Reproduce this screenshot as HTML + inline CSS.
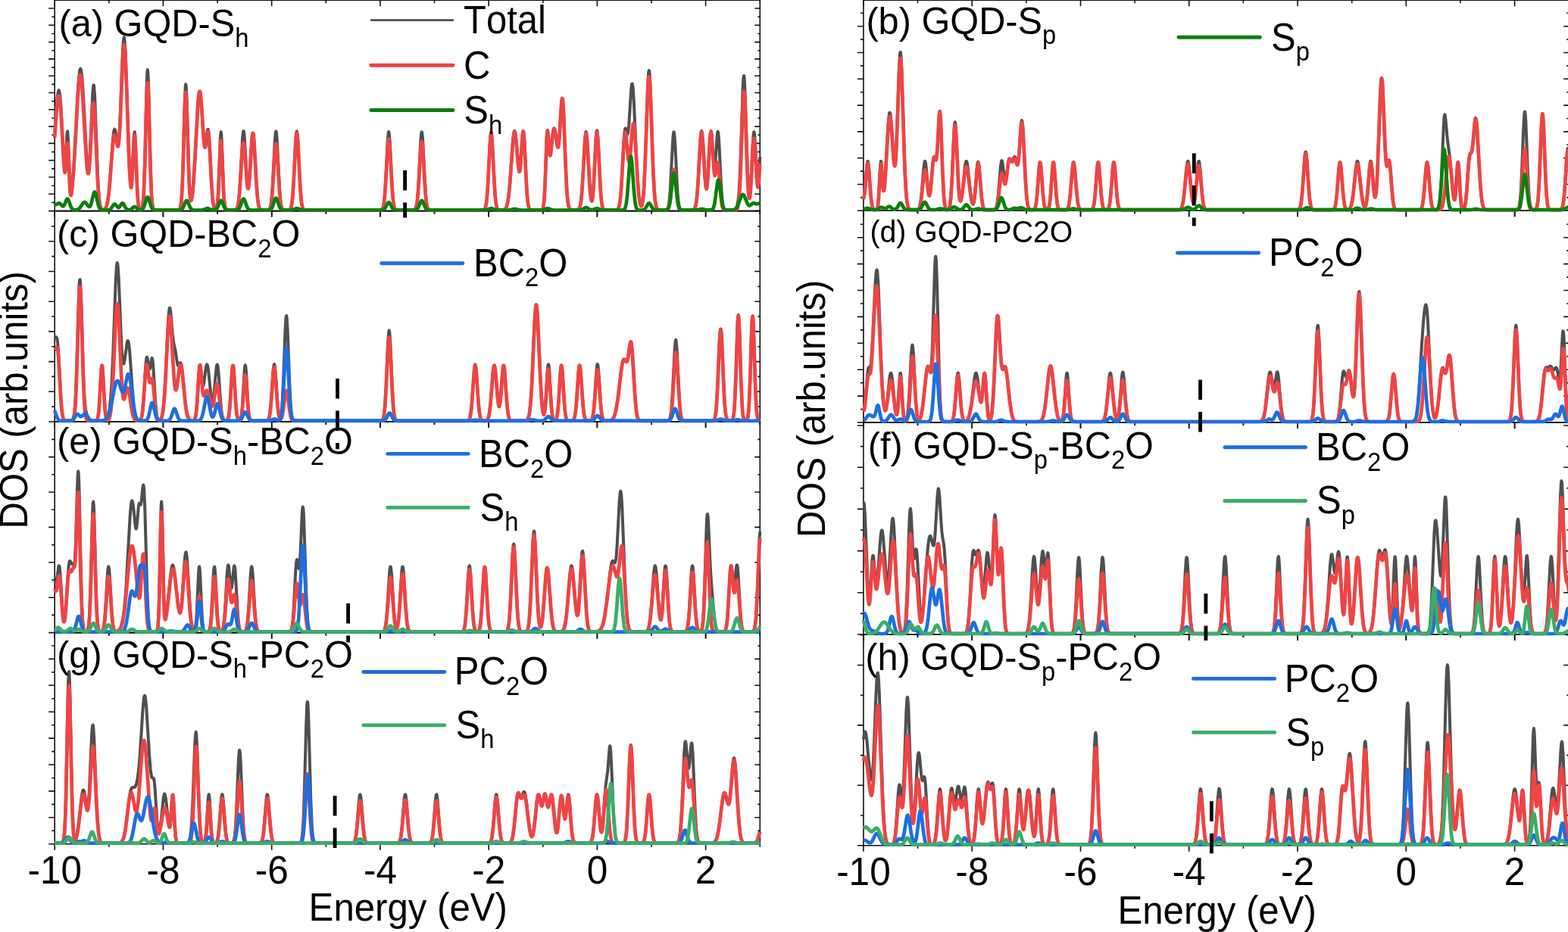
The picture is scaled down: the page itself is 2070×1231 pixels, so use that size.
<!DOCTYPE html>
<html><head><meta charset="utf-8"><title>DOS</title><style>html,body{margin:0;padding:0;background:#fff;overflow:hidden}svg{display:block}text{font-kerning:none}</style></head><body>
<svg width="2070" height="1231" viewBox="0 0 2070 1231">
<rect width="2070" height="1231" fill="#fff"/>
<path d="M72.2 0.3H1003.3V278.6H72.2Z" fill="none" stroke="#111" stroke-width="1.6"/>
<path d="M72.2 0.3v8M72.2 278.6v8M143.8 0.3v4M143.8 278.6v4M215.4 0.3v8M215.4 278.6v8M287.1 0.3v4M287.1 278.6v4M358.7 0.3v8M358.7 278.6v8M430.3 0.3v4M430.3 278.6v4M501.9 0.3v8M501.9 278.6v8M573.5 0.3v4M573.5 278.6v4M645.2 0.3v8M645.2 278.6v8M716.8 0.3v4M716.8 278.6v4M788.4 0.3v8M788.4 278.6v8M860.0 0.3v4M860.0 278.6v4M931.6 0.3v8M931.6 278.6v8M1003.3 0.3v4M1003.3 278.6v4M72.2 278.6h-8M1003.3 278.6h-7M72.2 267.5h-4M1003.3 267.5h-3M72.2 256.3h-8M1003.3 256.3h-7M72.2 245.2h-4M1003.3 245.2h-3M72.2 234.0h-8M1003.3 234.0h-7M72.2 222.9h-4M1003.3 222.9h-3M72.2 211.7h-8M1003.3 211.7h-7M72.2 200.6h-4M1003.3 200.6h-3M72.2 189.4h-8M1003.3 189.4h-7M72.2 178.2h-4M1003.3 178.2h-3M72.2 167.1h-8M1003.3 167.1h-7M72.2 156.0h-4M1003.3 156.0h-3M72.2 144.8h-8M1003.3 144.8h-7M72.2 133.7h-4M1003.3 133.7h-3M72.2 122.5h-8M1003.3 122.5h-7M72.2 111.4h-4M1003.3 111.4h-3M72.2 100.2h-8M1003.3 100.2h-7M72.2 89.1h-4M1003.3 89.1h-3M72.2 77.9h-8M1003.3 77.9h-7M72.2 66.8h-4M1003.3 66.8h-3M72.2 55.6h-8M1003.3 55.6h-7M72.2 44.5h-4M1003.3 44.5h-3M72.2 33.3h-8M1003.3 33.3h-7M72.2 22.2h-4M1003.3 22.2h-3M72.2 11.0h-8M1003.3 11.0h-7" stroke="#111" stroke-width="1.6" fill="none"/>
<path d="M72.2 278.6H1003.3V557.0H72.2Z" fill="none" stroke="#111" stroke-width="1.6"/>
<path d="M72.2 278.6v8M72.2 557.0v8M143.8 278.6v4M143.8 557.0v4M215.4 278.6v8M215.4 557.0v8M287.1 278.6v4M287.1 557.0v4M358.7 278.6v8M358.7 557.0v8M430.3 278.6v4M430.3 557.0v4M501.9 278.6v8M501.9 557.0v8M573.5 278.6v4M573.5 557.0v4M645.2 278.6v8M645.2 557.0v8M716.8 278.6v4M716.8 557.0v4M788.4 278.6v8M788.4 557.0v8M860.0 278.6v4M860.0 557.0v4M931.6 278.6v8M931.6 557.0v8M1003.3 278.6v4M1003.3 557.0v4M72.2 557.0h-8M1003.3 557.0h-7M72.2 537.1h-4M1003.3 537.1h-3M72.2 517.3h-8M1003.3 517.3h-7M72.2 497.4h-4M1003.3 497.4h-3M72.2 477.6h-8M1003.3 477.6h-7M72.2 457.8h-4M1003.3 457.8h-3M72.2 437.9h-8M1003.3 437.9h-7M72.2 418.0h-4M1003.3 418.0h-3M72.2 398.2h-8M1003.3 398.2h-7M72.2 378.4h-4M1003.3 378.4h-3M72.2 358.5h-8M1003.3 358.5h-7M72.2 338.6h-4M1003.3 338.6h-3M72.2 318.8h-8M1003.3 318.8h-7M72.2 298.9h-4M1003.3 298.9h-3" stroke="#111" stroke-width="1.6" fill="none"/>
<path d="M72.2 557.0H1003.3V835.6H72.2Z" fill="none" stroke="#111" stroke-width="1.6"/>
<path d="M72.2 557.0v8M72.2 835.6v8M143.8 557.0v4M143.8 835.6v4M215.4 557.0v8M215.4 835.6v8M287.1 557.0v4M287.1 835.6v4M358.7 557.0v8M358.7 835.6v8M430.3 557.0v4M430.3 835.6v4M501.9 557.0v8M501.9 835.6v8M573.5 557.0v4M573.5 835.6v4M645.2 557.0v8M645.2 835.6v8M716.8 557.0v4M716.8 835.6v4M788.4 557.0v8M788.4 835.6v8M860.0 557.0v4M860.0 835.6v4M931.6 557.0v8M931.6 835.6v8M1003.3 557.0v4M1003.3 835.6v4M72.2 835.6h-8M1003.3 835.6h-7M72.2 812.4h-4M1003.3 812.4h-3M72.2 789.2h-8M1003.3 789.2h-7M72.2 766.0h-4M1003.3 766.0h-3M72.2 742.8h-8M1003.3 742.8h-7M72.2 719.6h-4M1003.3 719.6h-3M72.2 696.4h-8M1003.3 696.4h-7M72.2 673.2h-4M1003.3 673.2h-3M72.2 650.0h-8M1003.3 650.0h-7M72.2 626.8h-4M1003.3 626.8h-3M72.2 603.6h-8M1003.3 603.6h-7M72.2 580.4h-4M1003.3 580.4h-3" stroke="#111" stroke-width="1.6" fill="none"/>
<path d="M72.2 835.6H1003.3V1114.7H72.2Z" fill="none" stroke="#111" stroke-width="1.6"/>
<path d="M72.2 835.6v8M72.2 1114.7v8M143.8 835.6v4M143.8 1114.7v4M215.4 835.6v8M215.4 1114.7v8M287.1 835.6v4M287.1 1114.7v4M358.7 835.6v8M358.7 1114.7v8M430.3 835.6v4M430.3 1114.7v4M501.9 835.6v8M501.9 1114.7v8M573.5 835.6v4M573.5 1114.7v4M645.2 835.6v8M645.2 1114.7v8M716.8 835.6v4M716.8 1114.7v4M788.4 835.6v8M788.4 1114.7v8M860.0 835.6v4M860.0 1114.7v4M931.6 835.6v8M931.6 1114.7v8M1003.3 835.6v4M1003.3 1114.7v4M72.2 1114.7h-8M1003.3 1114.7h-7M72.2 1097.2h-4M1003.3 1097.2h-3M72.2 1079.8h-8M1003.3 1079.8h-7M72.2 1062.4h-4M1003.3 1062.4h-3M72.2 1044.9h-8M1003.3 1044.9h-7M72.2 1027.5h-4M1003.3 1027.5h-3M72.2 1010.0h-8M1003.3 1010.0h-7M72.2 992.6h-4M1003.3 992.6h-3M72.2 975.1h-8M1003.3 975.1h-7M72.2 957.7h-4M1003.3 957.7h-3M72.2 940.2h-8M1003.3 940.2h-7M72.2 922.8h-4M1003.3 922.8h-3M72.2 905.3h-8M1003.3 905.3h-7M72.2 887.9h-4M1003.3 887.9h-3M72.2 870.4h-8M1003.3 870.4h-7M72.2 853.0h-4M1003.3 853.0h-3" stroke="#111" stroke-width="1.6" fill="none"/>
<path d="M1139.9 0.3H2071.2V278.3H1139.9Z" fill="none" stroke="#111" stroke-width="1.6"/>
<path d="M1139.9 0.3v8M1139.9 278.3v8M1211.5 0.3v4M1211.5 278.3v4M1283.2 0.3v8M1283.2 278.3v8M1354.8 0.3v4M1354.8 278.3v4M1426.5 0.3v8M1426.5 278.3v8M1498.1 0.3v4M1498.1 278.3v4M1569.7 0.3v8M1569.7 278.3v8M1641.4 0.3v4M1641.4 278.3v4M1713.0 0.3v8M1713.0 278.3v8M1784.7 0.3v4M1784.7 278.3v4M1856.3 0.3v8M1856.3 278.3v8M1927.9 0.3v4M1927.9 278.3v4M1999.6 0.3v8M1999.6 278.3v8M2071.2 0.3v4M2071.2 278.3v4M1139.9 278.3h-8M2071.2 278.3h-7M1139.9 260.9h-4M2071.2 260.9h-3M1139.9 243.5h-8M2071.2 243.5h-7M1139.9 226.1h-4M2071.2 226.1h-3M1139.9 208.7h-8M2071.2 208.7h-7M1139.9 191.3h-4M2071.2 191.3h-3M1139.9 173.9h-8M2071.2 173.9h-7M1139.9 156.5h-4M2071.2 156.5h-3M1139.9 139.1h-8M2071.2 139.1h-7M1139.9 121.7h-4M2071.2 121.7h-3M1139.9 104.3h-8M2071.2 104.3h-7M1139.9 86.9h-4M2071.2 86.9h-3M1139.9 69.5h-8M2071.2 69.5h-7M1139.9 52.1h-4M2071.2 52.1h-3M1139.9 34.7h-8M2071.2 34.7h-7M1139.9 17.3h-4M2071.2 17.3h-3" stroke="#111" stroke-width="1.6" fill="none"/>
<path d="M1139.9 278.3H2071.2V558.0H1139.9Z" fill="none" stroke="#111" stroke-width="1.6"/>
<path d="M1139.9 278.3v8M1139.9 558.0v8M1211.5 278.3v4M1211.5 558.0v4M1283.2 278.3v8M1283.2 558.0v8M1354.8 278.3v4M1354.8 558.0v4M1426.5 278.3v8M1426.5 558.0v8M1498.1 278.3v4M1498.1 558.0v4M1569.7 278.3v8M1569.7 558.0v8M1641.4 278.3v4M1641.4 558.0v4M1713.0 278.3v8M1713.0 558.0v8M1784.7 278.3v4M1784.7 558.0v4M1856.3 278.3v8M1856.3 558.0v8M1927.9 278.3v4M1927.9 558.0v4M1999.6 278.3v8M1999.6 558.0v8M2071.2 278.3v4M2071.2 558.0v4M1139.9 558.0h-8M2071.2 558.0h-7M1139.9 540.5h-4M2071.2 540.5h-3M1139.9 523.1h-8M2071.2 523.1h-7M1139.9 505.6h-4M2071.2 505.6h-3M1139.9 488.2h-8M2071.2 488.2h-7M1139.9 470.8h-4M2071.2 470.8h-3M1139.9 453.3h-8M2071.2 453.3h-7M1139.9 435.9h-4M2071.2 435.9h-3M1139.9 418.4h-8M2071.2 418.4h-7M1139.9 401.0h-4M2071.2 401.0h-3M1139.9 383.5h-8M2071.2 383.5h-7M1139.9 366.1h-4M2071.2 366.1h-3M1139.9 348.6h-8M2071.2 348.6h-7M1139.9 331.1h-4M2071.2 331.1h-3M1139.9 313.7h-8M2071.2 313.7h-7M1139.9 296.2h-4M2071.2 296.2h-3" stroke="#111" stroke-width="1.6" fill="none"/>
<path d="M1139.9 558.0H2071.2V838.0H1139.9Z" fill="none" stroke="#111" stroke-width="1.6"/>
<path d="M1139.9 558.0v8M1139.9 838.0v8M1211.5 558.0v4M1211.5 838.0v4M1283.2 558.0v8M1283.2 838.0v8M1354.8 558.0v4M1354.8 838.0v4M1426.5 558.0v8M1426.5 838.0v8M1498.1 558.0v4M1498.1 838.0v4M1569.7 558.0v8M1569.7 838.0v8M1641.4 558.0v4M1641.4 838.0v4M1713.0 558.0v8M1713.0 838.0v8M1784.7 558.0v4M1784.7 838.0v4M1856.3 558.0v8M1856.3 838.0v8M1927.9 558.0v4M1927.9 838.0v4M1999.6 558.0v8M1999.6 838.0v8M2071.2 558.0v4M2071.2 838.0v4M1139.9 838.0h-8M2071.2 838.0h-7M1139.9 810.4h-4M2071.2 810.4h-3M1139.9 782.8h-8M2071.2 782.8h-7M1139.9 755.2h-4M2071.2 755.2h-3M1139.9 727.6h-8M2071.2 727.6h-7M1139.9 700.0h-4M2071.2 700.0h-3M1139.9 672.4h-8M2071.2 672.4h-7M1139.9 644.8h-4M2071.2 644.8h-3M1139.9 617.2h-8M2071.2 617.2h-7M1139.9 589.6h-4M2071.2 589.6h-3M1139.9 562.0h-8M2071.2 562.0h-7" stroke="#111" stroke-width="1.6" fill="none"/>
<path d="M1139.9 838.0H2071.2V1116.7H1139.9Z" fill="none" stroke="#111" stroke-width="1.6"/>
<path d="M1139.9 838.0v8M1139.9 1116.7v8M1211.5 838.0v4M1211.5 1116.7v4M1283.2 838.0v8M1283.2 1116.7v8M1354.8 838.0v4M1354.8 1116.7v4M1426.5 838.0v8M1426.5 1116.7v8M1498.1 838.0v4M1498.1 1116.7v4M1569.7 838.0v8M1569.7 1116.7v8M1641.4 838.0v4M1641.4 1116.7v4M1713.0 838.0v8M1713.0 1116.7v8M1784.7 838.0v4M1784.7 1116.7v4M1856.3 838.0v8M1856.3 1116.7v8M1927.9 838.0v4M1927.9 1116.7v4M1999.6 838.0v8M1999.6 1116.7v8M2071.2 838.0v4M2071.2 1116.7v4M1139.9 1116.7h-8M2071.2 1116.7h-7M1139.9 1077.0h-4M2071.2 1077.0h-3M1139.9 1037.3h-8M2071.2 1037.3h-7M1139.9 997.6h-4M2071.2 997.6h-3M1139.9 957.9h-8M2071.2 957.9h-7M1139.9 918.2h-4M2071.2 918.2h-3M1139.9 878.5h-8M2071.2 878.5h-7M1139.9 838.8h-4M2071.2 838.8h-3" stroke="#111" stroke-width="1.6" fill="none"/>
<path d="M72.2 174.9L74.2 144.6L75.7 128.2L76.7 121.5L77.2 119.7L77.7 119.2L78.2 120.0L79.2 126.1L80.2 138.0L83.7 201.8L84.7 215.3L85.2 218.7L85.7 219.0L86.2 215.9L86.7 209.3L88.2 180.0L88.7 174.1L89.2 173.4L89.7 178.6L90.2 188.9L92.2 240.4L92.7 247.8L93.2 252.0L93.7 253.6L94.2 253.1L94.7 251.0L95.7 243.2L97.2 224.8L98.7 200.2L102.7 123.4L104.2 102.2L105.2 93.7L105.7 91.5L106.2 90.7L106.7 91.3L107.2 93.3L108.2 101.3L109.2 114.0L110.2 130.4L114.2 204.1L115.2 216.6L115.7 220.7L116.2 223.2L116.7 223.8L117.2 222.4L117.7 218.8L118.7 205.3L122.2 125.5L122.7 118.1L123.2 113.6L123.7 112.3L124.2 114.5L125.2 128.7L128.7 223.5L129.7 244.5L130.7 259.1L131.2 264.2L132.2 271.0L132.7 273.1L133.7 275.6L134.7 276.7L136.2 277.1L137.7 276.7L139.2 275.4L140.7 272.2L141.7 268.4L142.7 262.7L143.7 254.7L145.2 238.1L148.7 188.2L150.2 174.0L150.7 171.7L151.2 170.7L151.7 171.1L152.2 172.5L154.2 184.8L155.2 189.5L155.7 190.2L156.2 189.1L156.7 186.3L157.7 174.2L158.7 154.2L161.2 86.4L162.2 64.0L163.2 51.2L163.7 49.2L164.2 50.4L164.7 54.8L165.7 72.1L170.2 206.3L171.2 228.4L172.2 242.6L172.7 246.2L173.2 246.9L173.7 244.5L174.2 238.8L176.7 183.2L177.2 176.3L177.7 174.2L178.2 177.3L178.7 185.3L180.7 238.3L181.7 258.8L182.2 265.6L183.2 273.3L183.7 275.2L184.2 276.2L184.7 276.8L185.2 277.0L186.2 276.8L187.2 275.5L188.2 271.6L189.2 262.2L189.7 254.2L191.2 212.2L193.7 109.6L194.2 97.5L194.7 91.9L195.2 93.7L195.7 102.6L196.2 117.5L198.7 220.8L199.2 236.6L200.2 258.4L200.7 265.2L201.7 272.9L202.7 276.0L203.7 277.1L204.7 277.4L235.2 277.4L236.2 277.2L237.2 276.3L238.2 273.8L239.2 267.5L239.7 261.9L240.7 243.7L241.7 214.6L243.7 139.8L244.7 115.3L245.2 111.2L245.7 113.3L246.7 134.3L248.7 206.8L249.7 236.2L250.7 254.4L251.2 259.5L251.7 262.4L252.2 263.4L252.7 263.0L253.2 261.2L254.2 254.6L255.2 244.2L257.2 213.7L261.2 138.8L262.2 126.9L262.7 123.2L263.2 121.1L263.7 120.7L264.2 122.0L265.2 129.6L266.2 142.3L268.7 180.6L269.7 190.3L270.2 192.7L270.7 193.3L271.2 192.1L271.7 189.3L273.7 173.2L274.2 171.1L274.7 170.9L275.2 172.9L275.7 177.1L276.7 191.9L279.2 241.4L280.2 256.5L280.7 262.1L281.7 269.9L282.7 274.1L283.2 275.2L283.7 275.9L284.2 276.2L284.7 276.2L285.2 275.8L285.7 274.8L286.2 273.2L287.2 266.2L287.7 260.0L288.7 240.2L290.7 185.6L291.2 177.2L291.7 174.1L292.2 176.9L292.7 185.0L295.2 250.7L295.7 259.5L296.7 270.3L297.7 274.9L298.2 276.0L299.2 277.0L301.2 277.4L308.7 277.5L310.2 277.3L311.2 277.0L312.2 276.3L312.7 275.5L313.7 272.9L314.2 270.7L315.2 263.9L316.7 245.5L320.2 181.6L320.7 176.3L321.2 173.5L321.7 173.2L322.2 175.7L322.7 180.5L325.7 232.0L326.7 243.8L327.2 246.8L327.7 247.7L328.2 246.4L328.7 243.1L329.7 231.0L331.7 196.2L332.7 182.1L333.2 177.8L333.7 175.8L334.2 176.2L334.7 179.1L335.7 191.3L338.2 237.3L339.2 252.6L340.7 267.4L341.7 272.6L342.2 274.2L343.2 276.1L343.7 276.6L344.7 277.2L346.2 277.4L348.2 277.5L353.2 277.4L354.2 277.3L355.2 276.8L356.2 275.4L356.7 274.2L357.7 269.8L358.7 261.6L359.7 248.3L362.7 188.5L363.7 175.8L364.2 173.5L364.7 174.3L365.2 178.1L365.7 184.6L369.2 252.2L370.2 264.2L371.2 271.2L371.7 273.4L372.7 275.9L373.2 276.5L374.2 277.2L376.2 277.5L381.2 277.4L382.7 276.8L383.7 275.4L384.7 272.3L385.2 269.7L386.2 261.5L386.7 255.5L387.7 239.4L390.2 188.2L391.2 175.7L391.7 173.5L392.2 174.4L392.7 178.2L393.2 184.7L396.2 244.5L397.7 264.3L398.2 268.3L399.2 273.5L400.2 275.9L400.7 276.6L401.7 277.2L402.7 277.4L405.2 277.5L500.2 277.5L502.7 277.4L504.2 276.7L505.2 275.2L506.2 271.9L507.2 265.4L507.7 260.4L509.2 237.6L511.7 187.1L512.7 175.7L513.2 174.1L513.7 175.7L514.7 187.1L517.2 237.6L518.7 260.4L519.2 265.3L520.2 271.9L521.2 275.2L522.2 276.7L523.2 277.2L525.2 277.5L545.7 277.4L546.7 277.2L547.7 276.7L548.7 275.3L549.2 274.0L550.2 269.5L550.7 265.8L551.7 254.9L552.7 238.7L555.2 188.1L556.2 176.0L556.7 174.2L557.2 175.3L558.2 186.1L560.7 236.4L562.2 259.7L562.7 264.8L563.7 271.6L564.2 273.7L565.2 276.0L565.7 276.6L566.7 277.2L569.2 277.5L634.7 277.5L638.2 277.3L639.2 276.8L639.7 276.3L640.7 274.4L641.7 270.2L642.7 262.4L644.2 241.0L646.7 190.4L647.7 177.3L648.2 174.7L648.7 175.2L649.2 178.6L649.7 184.7L652.7 243.6L653.7 258.4L654.7 267.9L655.7 273.3L656.2 274.8L657.2 276.5L658.2 277.2L659.2 277.4L662.2 277.5L664.7 277.2L666.2 276.7L667.2 275.8L668.2 274.2L668.7 273.1L670.2 267.3L671.2 261.0L672.2 252.3L673.2 241.0L677.2 185.3L678.2 176.5L678.7 174.0L679.2 173.0L679.7 173.4L680.2 175.3L680.7 178.5L681.7 188.3L684.2 218.9L685.2 225.8L685.7 226.7L686.2 225.6L687.2 217.2L689.7 179.6L690.2 175.1L690.7 173.4L691.2 174.6L691.7 178.8L692.2 185.8L694.7 238.0L695.7 255.0L696.7 266.2L697.2 269.9L698.2 274.4L699.2 276.4L700.2 277.1L701.2 277.4L711.2 277.5L714.7 277.2L715.7 276.7L716.7 275.2L717.2 273.4L717.7 270.5L718.2 266.0L719.2 250.1L719.7 238.4L721.7 183.7L722.2 175.5L722.7 172.0L723.2 173.1L723.7 178.0L725.2 199.0L725.7 203.2L726.2 204.8L726.7 203.9L727.2 201.1L729.7 177.4L730.7 171.5L731.2 170.1L731.7 169.8L732.2 170.7L732.7 172.5L735.7 192.6L736.2 194.3L736.7 194.7L737.2 193.3L737.7 190.1L738.2 185.0L741.2 136.7L741.7 131.9L742.2 129.9L742.7 130.9L743.2 135.2L744.2 152.5L746.7 218.6L748.2 249.8L748.7 257.0L749.7 267.1L750.7 272.7L751.7 275.5L752.7 276.8L754.2 277.4L760.2 277.5L762.7 277.2L763.7 276.7L764.7 275.4L765.7 272.8L766.2 270.7L767.2 264.0L767.7 259.3L768.7 246.5L772.2 184.4L773.2 175.2L773.7 174.1L774.2 175.6L775.2 185.4L778.2 239.4L779.2 253.5L780.2 262.4L780.7 264.6L781.2 265.4L781.7 264.6L782.2 262.2L782.7 258.1L783.7 244.8L786.7 184.1L787.2 177.3L787.7 173.3L788.2 172.3L788.7 174.6L789.7 187.7L792.2 240.3L793.2 256.4L794.2 266.9L795.2 272.8L796.2 275.7L797.2 276.9L798.2 277.3L800.2 277.5L810.7 277.5L814.2 277.2L815.2 276.7L815.7 276.2L816.7 274.4L817.7 270.9L818.7 264.5L820.2 247.6L823.2 192.9L824.2 178.1L824.7 173.3L825.2 170.4L825.7 169.5L826.2 170.1L827.7 176.1L828.2 177.3L828.7 177.1L829.2 175.1L830.2 165.5L833.2 118.2L833.7 113.5L834.2 110.9L834.7 110.5L835.2 112.5L835.7 116.7L836.7 131.4L840.2 208.6L842.2 244.2L843.2 256.4L844.2 264.8L845.2 269.9L845.7 271.3L846.2 272.1L846.7 272.2L847.2 271.5L847.7 270.1L848.7 264.5L849.7 254.0L850.2 246.6L851.7 214.3L855.2 111.5L856.2 95.6L856.7 92.9L857.2 94.0L857.7 98.8L858.7 118.2L861.7 208.5L862.7 233.2L863.7 251.2L864.7 263.1L865.7 270.2L866.7 274.1L867.2 275.3L868.2 276.6L869.2 277.1L871.2 277.5L877.7 277.5L879.7 277.2L880.7 276.5L881.2 275.9L882.2 273.4L882.7 271.2L883.7 264.1L884.7 252.2L888.2 184.9L888.7 178.6L889.2 174.9L889.7 174.3L890.2 176.6L891.2 189.4L893.7 240.2L894.7 256.0L895.7 266.5L896.7 272.5L897.2 274.3L898.2 276.3L899.2 277.1L900.2 277.4L914.2 277.4L915.2 277.2L916.2 276.6L917.2 275.3L918.2 272.5L918.7 270.3L919.7 263.5L920.2 258.7L921.7 237.7L924.7 183.7L925.7 174.2L926.2 173.0L926.7 174.1L927.7 183.4L930.7 234.5L931.7 245.7L932.2 248.5L932.7 249.1L933.2 247.5L934.2 237.8L937.2 183.6L937.7 177.5L938.2 173.9L938.7 173.1L939.2 175.1L939.7 179.6L942.2 215.8L942.7 219.9L943.2 221.5L943.7 220.2L944.2 216.3L946.7 179.8L947.2 175.4L947.7 173.8L948.2 175.2L949.2 186.7L951.7 238.0L952.7 254.5L953.7 265.6L954.7 272.0L955.2 273.9L956.2 276.1L957.2 277.0L958.2 277.3L964.7 277.5L968.2 277.2L970.2 276.4L971.7 274.8L972.7 272.8L973.2 271.2L974.2 266.4L975.2 258.0L976.2 244.0L977.7 209.2L980.7 115.4L981.2 105.9L981.7 100.6L982.2 100.0L982.7 104.1L983.7 125.0L986.7 221.8L987.7 243.1L988.7 254.2L989.2 256.1L989.7 255.6L990.2 252.8L990.7 247.9L991.7 232.2L993.7 190.9L994.7 177.0L995.2 174.3L995.7 174.9L996.2 178.6L997.2 193.5L999.2 229.8L999.7 235.4L1000.2 238.5L1000.7 239.0L1001.2 236.8L1001.7 232.1L1003.3 207.2" fill="none" stroke="#4f4f4f" stroke-width="4.0" stroke-linejoin="round"/>
<path d="M72.2 182.1L74.2 151.1L75.7 134.7L76.7 128.3L77.2 126.7L77.7 126.4L78.2 127.3L79.2 133.3L80.2 144.6L81.2 160.2L83.7 207.0L84.7 221.7L85.2 226.2L85.7 227.8L86.2 226.0L86.7 220.7L88.2 194.7L88.7 189.3L89.2 188.7L89.7 193.5L90.2 203.0L92.2 249.0L92.7 254.8L93.2 257.7L93.7 258.0L94.2 256.4L95.2 249.5L97.2 225.7L98.7 201.2L102.2 135.4L103.7 113.1L104.7 103.4L105.2 100.5L105.7 98.9L106.2 98.8L106.7 100.2L107.2 102.9L108.7 118.7L113.7 206.4L114.7 219.4L115.7 227.5L116.2 229.3L116.7 229.3L117.2 227.4L118.2 218.0L119.2 201.7L121.7 150.6L122.7 138.1L123.2 135.7L123.7 136.2L124.2 139.6L125.2 154.2L128.7 235.0L129.7 251.6L130.7 263.1L131.2 267.1L132.2 272.4L132.7 274.0L133.7 276.0L134.7 276.8L136.2 277.1L137.7 276.7L139.2 275.4L140.7 272.2L141.7 268.4L142.7 262.8L143.7 255.0L145.2 238.9L148.7 193.0L149.7 183.8L150.2 180.7L150.7 178.7L151.2 177.9L151.7 178.2L152.2 179.4L154.2 189.4L155.2 193.1L155.7 193.5L156.2 192.4L156.7 189.6L157.7 178.6L158.7 160.4L162.2 75.4L163.2 61.8L163.7 59.1L164.2 59.3L164.7 62.7L165.7 77.8L166.7 102.2L170.2 206.7L171.2 228.7L172.2 243.2L172.7 246.9L173.2 247.9L173.7 245.8L174.2 240.5L176.7 186.7L177.2 180.0L177.7 178.0L178.2 181.0L178.7 188.8L180.7 240.4L181.7 260.1L182.2 266.5L183.2 273.8L183.7 275.5L184.2 276.5L185.2 277.2L186.2 277.1L187.2 276.0L188.2 272.9L189.2 264.9L189.7 257.9L191.2 220.2L193.7 125.9L194.2 114.6L194.7 109.4L195.2 111.1L195.7 119.3L196.2 133.2L198.2 211.0L199.7 253.3L200.7 267.4L201.7 273.9L202.2 275.5L202.7 276.4L203.7 277.2L204.7 277.4L235.2 277.4L236.2 277.2L237.2 276.4L238.2 274.0L239.2 268.0L239.7 262.7L240.7 245.3L241.7 217.6L243.7 147.2L244.7 125.0L245.2 121.8L245.7 124.6L246.7 146.0L248.7 215.4L249.7 242.4L250.7 258.3L251.2 262.5L251.7 264.6L252.2 265.1L252.7 264.1L253.2 262.0L254.2 254.9L255.2 244.3L257.2 213.7L261.2 138.8L262.2 126.9L262.7 123.2L263.2 121.1L263.7 120.7L264.2 122.1L265.2 129.6L266.2 142.4L268.7 181.1L269.7 191.2L270.2 193.9L270.7 194.7L271.2 193.8L271.7 191.3L273.2 179.3L274.2 173.7L274.7 173.4L275.2 175.3L276.2 185.6L279.2 241.9L280.7 262.3L281.2 266.7L282.2 272.5L283.2 275.4L283.7 276.2L284.7 276.8L285.2 276.7L285.7 276.2L286.2 275.1L286.7 273.1L287.7 264.5L288.7 247.1L290.7 196.7L291.2 188.8L291.7 185.9L292.2 188.5L292.7 196.1L295.2 256.5L295.7 264.1L296.7 273.0L297.2 275.1L297.7 276.3L298.7 277.3L300.2 277.5L305.2 277.5L309.2 277.5L310.7 277.2L312.2 276.4L313.2 274.7L314.2 271.4L315.2 265.4L316.7 249.4L319.7 201.5L320.7 191.0L321.2 188.6L321.7 188.4L322.2 190.4L322.7 194.5L326.2 242.9L326.7 246.9L327.2 249.0L327.7 249.2L328.2 247.5L328.7 243.8L329.7 231.3L332.2 188.4L333.2 177.8L333.7 175.8L334.2 176.2L334.7 179.1L335.2 184.3L336.2 199.7L338.2 237.3L339.7 258.6L340.2 263.5L341.2 270.4L341.7 272.6L342.7 275.3L343.7 276.6L345.2 277.3L347.7 277.5L353.7 277.4L354.7 277.1L355.7 276.4L356.7 274.7L357.2 273.2L358.2 268.0L359.2 259.0L360.2 245.4L362.7 202.1L363.7 191.4L364.2 189.5L364.7 190.1L365.2 193.3L365.7 198.8L369.2 256.1L370.2 266.2L371.2 272.2L371.7 274.0L372.7 276.1L373.2 276.7L374.2 277.2L376.2 277.5L380.2 277.5L381.7 277.3L382.7 276.8L383.7 275.5L384.7 272.5L385.7 266.4L386.2 261.8L387.7 240.2L390.2 190.2L391.2 177.9L391.7 175.7L392.2 176.6L392.7 180.3L393.2 186.7L396.2 245.2L397.7 264.6L398.2 268.5L399.2 273.6L400.2 276.0L400.7 276.6L401.7 277.2L402.7 277.4L405.2 277.5L500.2 277.5L502.7 277.4L504.2 276.7L505.2 275.4L506.2 272.4L507.2 266.5L507.7 262.0L509.2 241.3L511.7 195.4L512.7 185.0L513.2 183.7L513.7 185.0L514.7 195.4L517.2 241.2L518.7 262.0L519.2 266.5L520.2 272.4L521.2 275.4L522.2 276.7L523.2 277.3L525.2 277.5L545.7 277.4L546.7 277.3L547.7 276.8L548.7 275.6L549.2 274.5L550.2 270.5L550.7 267.3L551.7 257.8L552.7 243.6L555.2 199.3L556.2 188.8L556.7 187.1L557.2 188.1L558.2 197.6L560.7 241.6L562.2 261.9L562.7 266.4L563.7 272.3L564.2 274.1L565.2 276.2L565.7 276.7L566.7 277.2L569.2 277.5L635.2 277.5L637.2 277.4L638.7 277.1L639.7 276.4L640.2 275.6L641.2 272.8L642.2 267.1L642.7 262.7L644.2 241.8L646.7 192.3L647.7 179.5L648.2 177.0L648.7 177.4L649.2 180.8L649.7 186.7L652.7 244.3L653.7 258.8L654.7 268.2L655.7 273.3L656.2 274.9L657.2 276.5L658.2 277.2L659.2 277.4L662.2 277.5L664.7 277.2L666.2 276.7L667.2 275.8L668.2 274.2L668.7 273.1L670.2 267.3L671.2 261.1L672.2 252.4L673.2 241.1L677.2 186.4L678.2 177.9L678.7 175.5L679.2 174.5L679.7 174.9L680.2 176.7L680.7 179.9L681.7 189.4L684.2 219.2L685.2 226.0L685.7 226.9L686.2 225.7L687.2 217.2L689.7 179.6L690.2 175.1L690.7 173.4L691.2 174.6L691.7 178.8L692.2 185.8L694.7 238.0L695.7 255.0L696.7 266.2L697.7 272.5L698.7 275.6L699.7 276.8L700.7 277.3L702.7 277.5L711.7 277.5L714.2 277.4L715.2 277.1L716.2 276.3L716.7 275.3L717.2 273.6L718.2 266.4L718.7 259.9L719.7 239.3L721.7 185.0L722.2 176.9L722.7 173.5L723.2 174.6L723.7 179.5L725.2 200.0L725.7 204.1L726.2 205.6L726.7 204.6L727.2 201.6L729.7 177.5L730.7 171.5L731.2 170.1L731.7 169.8L732.2 170.7L732.7 172.5L735.7 192.6L736.2 194.3L736.7 194.7L737.2 193.3L737.7 190.1L738.2 185.0L741.2 136.7L741.7 131.9L742.2 129.9L742.7 130.9L743.2 135.2L744.2 152.5L746.7 218.6L748.2 249.8L748.7 257.0L749.7 267.1L750.7 272.7L751.2 274.4L752.2 276.3L753.2 277.1L754.7 277.4L760.7 277.5L762.7 277.2L763.7 276.7L764.7 275.5L765.7 272.9L766.2 270.8L767.2 264.3L767.7 259.6L768.7 247.1L772.2 186.7L773.2 177.8L773.7 176.8L774.2 178.2L775.2 187.7L778.2 240.1L779.2 254.0L780.2 262.6L780.7 264.9L781.2 265.6L781.7 264.9L782.2 262.5L782.7 258.5L783.7 245.5L786.7 186.1L787.2 179.5L787.7 175.5L788.2 174.6L788.7 176.8L789.7 189.6L792.2 241.1L793.2 256.9L794.2 267.2L795.2 272.9L795.7 274.6L796.7 276.4L797.7 277.2L798.7 277.4L812.7 277.4L814.7 277.0L815.7 276.2L816.7 274.4L817.7 270.9L818.7 264.5L819.2 260.0L820.7 240.1L823.7 187.1L824.7 176.8L825.2 174.7L825.7 174.8L826.2 176.9L827.2 186.0L829.2 208.6L829.7 212.0L830.2 213.6L830.7 213.5L831.2 211.5L832.2 202.6L834.7 171.0L835.7 164.0L836.2 163.0L836.7 164.0L837.2 166.9L838.2 177.7L841.7 237.3L843.2 256.5L844.7 267.7L845.7 271.3L846.2 272.1L846.7 272.2L847.2 271.6L847.7 270.2L848.7 264.7L849.7 254.5L850.2 247.2L851.7 216.1L855.2 118.7L856.2 103.8L856.7 101.3L857.2 102.3L857.7 106.8L858.7 125.0L861.7 210.5L862.7 234.2L863.7 251.7L864.7 263.3L865.7 270.3L866.7 274.1L867.2 275.3L868.2 276.6L869.2 277.1L870.7 277.4L877.2 277.5L879.7 277.3L881.2 276.7L882.2 275.4L882.7 274.2L883.7 270.5L884.7 264.3L888.2 229.4L888.7 226.1L889.2 224.2L889.7 223.8L890.2 225.0L891.2 231.7L893.7 258.1L894.7 266.3L895.7 271.8L896.7 274.9L897.2 275.8L898.2 276.9L899.2 277.3L901.2 277.5L914.2 277.4L915.2 277.2L916.2 276.6L917.2 275.3L918.2 272.5L918.7 270.4L919.7 263.6L920.2 258.8L921.7 238.1L924.7 185.0L925.7 175.7L926.2 174.5L926.7 175.7L927.7 184.7L930.7 235.0L931.7 246.1L932.2 248.8L932.7 249.4L933.2 247.8L933.7 244.1L934.7 230.7L937.2 184.8L937.7 178.8L938.2 175.3L938.7 174.6L939.2 176.7L939.7 181.3L942.2 220.8L943.2 230.4L943.7 232.0L944.2 231.5L944.7 229.3L946.7 215.8L947.2 214.6L947.7 215.3L948.2 217.8L948.7 222.1L951.7 260.4L952.7 268.7L953.7 273.6L954.2 275.0L955.2 276.6L956.2 277.2L957.2 277.4L970.7 277.4L972.2 276.9L973.2 275.9L974.2 273.2L975.2 267.4L976.2 256.4L976.7 248.2L977.7 226.0L980.7 137.3L981.2 127.8L981.7 122.1L982.2 120.8L982.7 123.9L983.7 142.3L986.2 217.8L987.2 241.6L987.7 250.2L988.7 260.4L989.2 262.0L989.7 261.5L990.2 258.8L990.7 254.1L991.7 239.1L994.2 191.1L994.7 185.4L995.2 182.7L995.7 183.2L996.2 186.7L996.7 193.0L999.2 237.6L999.7 243.3L1000.2 246.6L1000.7 247.3L1001.2 245.2L1001.7 240.8L1003.3 215.5" fill="none" stroke="#ef4444" stroke-width="4.7" stroke-linejoin="round"/>
<path d="M72.2 269.9L73.7 270.1L74.7 269.9L77.2 268.6L78.2 268.4L78.7 268.5L79.7 269.2L82.2 272.0L83.2 272.4L83.7 272.2L84.2 271.8L85.2 270.1L87.7 264.0L88.7 262.7L89.2 262.7L89.7 263.1L90.7 264.9L93.2 272.1L94.2 274.3L95.7 276.4L97.2 277.2L98.7 277.4L100.7 277.3L102.2 276.9L103.7 276.1L105.7 274.2L109.7 268.2L111.2 267.1L112.2 267.1L113.2 267.8L116.7 272.4L117.7 273.1L118.2 273.1L119.2 272.1L120.2 269.8L123.7 255.5L124.2 254.3L124.7 253.6L125.2 253.6L125.7 254.2L126.7 257.2L129.7 270.6L131.2 274.7L132.2 276.2L133.2 276.9L134.2 277.3L136.2 277.5L142.2 277.4L143.7 277.2L144.7 276.9L146.2 275.8L147.2 274.6L149.7 270.7L150.7 269.7L151.2 269.6L151.7 269.6L152.7 270.4L155.2 273.6L156.2 274.2L156.7 274.1L157.7 273.3L160.7 268.9L161.2 268.5L161.7 268.4L162.2 268.6L163.2 269.7L165.7 274.3L166.7 275.7L167.7 276.6L168.7 277.1L170.7 277.3L172.2 276.9L173.7 275.9L176.2 273.6L177.2 273.1L177.7 273.0L178.2 273.1L179.2 273.6L181.7 276.0L183.2 276.9L184.7 277.3L186.7 277.1L188.2 276.2L189.7 273.9L190.7 271.3L193.2 262.9L194.2 260.8L194.7 260.4L195.2 260.5L196.2 262.2L199.2 272.0L200.7 275.3L201.7 276.5L202.7 277.1L205.2 277.5L235.2 277.5L237.2 277.4L238.7 277.1L240.2 276.2L241.2 274.9L242.2 273.0L244.7 266.9L245.7 265.3L246.2 265.0L246.7 265.0L247.7 266.2L250.7 273.4L251.7 275.2L253.2 276.7L254.7 277.3L257.7 277.5L266.7 277.4L268.7 277.0L272.2 275.6L273.7 275.3L275.2 275.5L278.2 276.8L280.2 277.3L282.7 277.4L284.2 277.1L285.7 276.0L286.7 274.7L287.7 272.7L290.2 266.6L291.2 265.2L291.7 265.0L292.2 265.1L293.2 266.5L295.7 272.6L296.7 274.6L297.7 276.0L298.7 276.8L300.2 277.3L301.7 277.5L312.7 277.4L313.7 277.1L314.7 276.5L316.2 274.7L317.2 272.5L320.2 264.1L321.2 262.7L321.7 262.7L322.2 263.1L323.2 265.0L325.7 272.3L326.7 274.5L327.7 276.0L329.2 277.1L330.7 277.4L332.7 277.5L355.2 277.4L356.2 277.2L357.2 276.7L358.7 275.1L360.2 271.7L362.7 263.8L363.7 261.9L364.2 261.5L364.7 261.7L365.7 263.2L368.7 272.4L370.2 275.5L371.2 276.5L372.2 277.1L374.7 277.5L385.2 277.3L387.2 276.9L390.2 275.6L391.7 275.3L393.2 275.5L397.2 277.1L400.7 277.5L504.2 277.4L506.2 276.9L507.7 275.8L509.2 273.5L511.7 268.5L512.7 267.4L513.2 267.3L513.7 267.4L514.7 268.5L517.2 273.5L518.2 275.2L519.2 276.3L520.7 277.1L522.2 277.4L524.2 277.5L547.2 277.4L548.7 277.2L549.7 276.9L551.2 275.5L552.7 272.8L555.2 266.7L556.2 265.2L556.7 265.0L557.2 265.1L558.2 266.4L560.7 272.5L562.2 275.3L563.2 276.4L564.2 277.0L566.7 277.5L639.7 277.5L643.2 277.0L646.7 275.6L648.2 275.3L649.7 275.5L653.7 277.1L656.7 277.5L672.2 277.4L674.2 277.2L677.7 276.2L679.2 276.0L680.7 276.1L684.2 277.1L686.7 277.4L713.7 277.5L717.2 277.2L721.2 275.6L722.7 275.3L724.2 275.5L728.2 277.1L730.7 277.4L764.2 277.5L766.7 277.3L768.2 276.9L769.7 276.2L772.2 274.5L773.7 274.1L775.2 274.6L778.7 276.7L780.7 277.2L783.2 276.9L786.7 275.5L788.2 275.3L789.7 275.6L793.2 277.0L795.7 277.4L821.7 277.5L823.7 277.0L824.7 276.0L825.7 273.8L826.7 269.5L828.2 256.9L831.2 216.1L832.2 207.9L832.7 206.6L833.2 207.4L834.2 214.8L836.7 249.3L838.2 265.3L838.7 268.8L839.7 273.5L840.7 275.8L841.2 276.5L842.2 277.1L843.7 277.4L847.2 277.5L848.7 277.3L850.2 276.8L851.2 276.1L852.2 274.9L855.2 269.7L856.2 268.6L856.7 268.4L857.2 268.5L858.2 269.4L861.7 275.3L862.7 276.3L864.2 277.1L867.2 277.5L878.7 277.5L880.7 277.0L881.7 276.3L882.7 274.5L883.2 273.1L884.2 268.6L885.2 261.6L888.2 233.4L888.7 230.4L889.2 228.7L889.7 228.4L890.2 229.5L891.2 235.6L893.7 259.7L895.2 270.1L895.7 272.3L896.7 275.1L897.7 276.5L898.7 277.2L899.7 277.4L901.7 277.5L918.7 277.4L921.2 277.2L924.7 276.2L926.2 276.0L927.7 276.2L931.2 277.1L933.2 277.4L938.2 277.4L939.2 277.2L940.2 276.8L941.2 275.7L941.7 274.8L942.7 271.8L943.2 269.6L944.2 263.7L946.7 244.0L947.7 238.7L948.2 237.6L948.7 237.7L949.2 238.9L949.7 241.2L952.7 264.0L953.7 269.8L954.2 272.0L955.2 274.9L955.7 275.8L956.7 276.8L957.7 277.3L959.2 277.5L966.2 277.4L968.7 277.1L970.7 276.1L972.2 274.5L973.7 271.9L978.7 258.8L979.7 257.4L980.2 257.0L980.7 256.9L981.2 257.1L982.2 258.2L983.2 260.2L986.7 269.0L987.7 270.6L988.7 271.4L989.2 271.6L990.2 271.4L993.2 268.9L994.7 268.3L995.7 268.4L998.7 269.4L999.7 269.4L1001.7 268.8L1002.7 268.9L1003.3 269.2" fill="none" stroke="#0b800b" stroke-width="4.7" stroke-linejoin="round"/>
<path d="M72.2 445.2L73.7 445.1L74.2 445.2L74.7 445.8L75.2 447.1L75.7 449.6L76.2 453.6L77.2 466.6L80.7 531.3L81.7 542.8L82.7 549.7L83.2 551.8L84.2 554.2L84.7 554.9L85.7 555.5L88.2 555.8L93.7 555.7L95.2 555.1L96.2 553.8L97.2 550.8L98.2 544.6L99.2 533.2L99.7 524.9L101.2 486.9L104.2 384.9L104.7 374.9L105.2 369.6L105.7 369.4L106.2 374.4L107.2 397.8L109.7 485.0L110.7 511.2L111.7 528.4L112.2 534.1L113.2 541.6L114.2 546.0L115.2 548.9L116.7 552.0L117.7 553.5L118.7 554.5L119.7 555.2L121.2 555.6L126.2 555.7L127.2 555.5L127.7 555.2L128.7 553.6L129.7 549.2L130.7 539.8L133.7 488.1L134.2 483.5L134.7 482.5L135.2 485.0L135.7 490.8L137.7 527.2L138.7 541.0L139.2 545.4L139.7 548.3L140.2 550.0L140.7 550.8L141.2 550.8L141.7 550.3L142.2 549.4L143.2 546.5L144.7 538.8L146.2 525.2L147.2 511.2L149.2 469.0L152.7 372.1L153.7 354.3L154.2 349.2L154.7 347.1L155.2 348.0L155.7 351.9L156.7 367.4L160.2 452.9L161.2 469.5L161.7 474.9L162.2 478.5L162.7 480.3L163.2 480.6L163.7 479.6L164.7 474.6L167.7 453.1L168.2 451.1L168.7 450.1L169.2 450.4L169.7 452.0L170.2 454.9L171.2 464.2L174.7 513.1L176.7 535.0L177.7 542.3L179.2 549.4L180.7 553.0L181.7 554.3L182.7 555.0L183.7 555.3L184.7 555.1L185.7 554.1L186.2 553.2L187.2 549.7L188.2 543.0L189.7 525.3L192.2 484.2L193.2 474.0L193.7 471.9L194.2 471.8L194.7 473.5L196.2 483.7L196.7 486.4L197.2 487.7L197.7 487.5L198.2 485.8L200.2 473.8L200.7 472.9L201.2 474.1L202.2 482.7L205.2 531.1L206.7 546.5L207.2 549.5L208.2 553.1L208.7 554.1L209.7 555.0L210.7 555.0L211.7 554.5L212.7 553.1L213.7 550.5L214.7 546.0L215.7 538.9L217.2 521.4L218.7 494.8L221.2 439.6L222.2 421.4L223.2 409.8L223.7 407.1L224.2 406.6L224.7 408.2L225.2 411.6L227.7 440.7L228.7 449.6L229.2 452.7L231.7 464.1L233.7 477.8L234.7 482.2L235.2 483.0L235.7 482.9L236.2 482.2L237.7 479.3L238.2 479.1L238.7 479.7L239.2 481.2L239.7 483.6L240.7 491.0L244.2 527.7L245.2 536.4L246.2 543.2L247.2 548.0L248.7 552.4L250.2 554.5L251.7 555.4L253.2 555.7L254.7 555.7L255.7 555.5L256.7 554.8L257.7 552.7L258.7 548.0L259.7 538.8L260.2 532.3L262.7 491.1L263.2 485.5L263.7 482.4L264.2 481.8L264.7 483.6L267.2 506.3L267.7 508.6L268.2 509.3L268.7 508.3L269.2 506.0L271.2 490.3L272.2 483.9L272.7 482.1L273.2 481.4L273.7 481.8L274.2 483.5L275.2 489.9L278.2 519.7L279.2 527.1L279.7 529.4L280.2 530.7L280.7 530.9L281.2 529.7L282.2 523.7L284.7 494.7L285.7 485.1L286.2 482.4L286.7 481.5L287.2 482.5L287.7 485.3L288.7 495.5L290.7 523.8L292.2 540.8L292.7 544.7L293.7 550.3L294.7 553.3L295.7 554.8L296.7 555.4L298.2 555.7L299.2 555.5L300.2 554.9L301.2 553.0L302.2 548.6L303.2 540.0L303.7 533.7L306.2 492.3L306.7 486.5L307.2 483.2L307.7 482.8L308.2 485.3L308.7 490.5L311.2 531.7L311.7 538.3L312.7 547.7L313.7 552.6L314.7 554.6L315.2 555.0L316.2 555.0L317.2 553.9L317.7 552.7L318.7 548.2L319.7 539.2L322.7 489.7L323.2 484.5L323.7 482.3L324.2 483.4L324.7 487.7L327.7 537.1L328.7 547.1L329.7 552.2L330.7 554.5L331.7 555.4L332.7 555.7L348.7 555.8L352.2 555.6L353.7 554.9L354.7 553.4L355.2 552.0L356.2 547.3L357.7 533.2L360.7 489.1L361.2 484.3L361.7 481.6L362.2 481.2L362.7 483.2L363.7 493.2L366.2 531.1L367.2 542.1L368.2 548.8L368.7 550.7L369.2 551.7L369.7 551.9L370.2 551.2L370.7 549.7L371.2 547.0L372.2 537.8L372.7 530.7L374.2 498.7L376.7 431.5L377.2 423.0L377.7 418.0L378.2 417.1L378.7 420.2L379.7 437.4L382.2 505.6L383.7 534.8L384.7 545.7L385.7 551.5L386.7 554.2L387.2 554.8L388.2 555.5L389.2 555.7L391.7 555.8L500.7 555.8L503.2 555.6L504.2 555.2L504.7 554.8L505.7 553.2L506.7 549.4L507.7 541.9L508.2 536.2L509.7 510.0L512.2 451.6L513.2 438.3L513.7 436.4L514.2 438.0L515.2 451.0L517.7 509.2L519.2 535.7L519.7 541.5L520.7 549.2L521.7 553.1L522.2 554.1L523.2 555.2L524.7 555.7L526.7 555.8L614.2 555.8L617.2 555.7L618.7 555.0L619.7 553.6L620.7 550.6L621.7 544.8L622.2 540.6L623.2 529.1L625.7 492.3L626.7 483.1L627.2 481.5L627.7 482.2L628.2 485.0L628.7 489.8L631.2 526.3L632.7 543.1L633.2 546.8L634.2 551.7L634.7 553.1L635.7 554.8L636.7 555.5L638.2 555.7L640.7 555.7L642.2 555.3L643.2 554.6L643.7 554.0L644.7 551.8L645.2 550.1L646.2 544.8L647.2 536.7L650.7 493.1L651.7 484.8L652.2 482.9L652.7 482.7L653.2 484.3L653.7 487.4L654.7 497.6L656.7 523.0L657.7 532.5L658.2 535.5L658.7 537.0L659.2 537.0L659.7 535.4L660.7 527.6L663.2 493.8L664.2 484.5L664.7 482.7L665.2 483.1L665.7 485.6L666.2 490.1L668.7 525.9L670.2 542.9L671.2 549.4L672.2 553.0L673.2 554.7L674.2 555.4L675.2 555.7L692.7 555.7L694.7 555.4L695.7 554.8L696.7 553.5L697.2 552.5L698.2 549.2L698.7 546.7L700.2 534.7L701.2 521.8L702.2 504.4L706.2 416.7L707.2 404.8L707.7 402.4L708.2 402.6L708.7 405.4L709.7 418.0L713.2 496.5L714.7 523.8L716.2 540.5L717.2 546.0L717.7 547.0L718.2 546.8L718.7 545.4L719.7 538.0L720.7 524.5L722.7 490.3L723.2 484.6L723.7 481.5L724.2 481.4L724.7 484.4L725.2 490.1L727.7 532.5L728.2 539.0L729.2 548.1L730.2 552.8L731.2 554.7L732.2 555.3L733.2 555.1L734.2 554.0L734.7 552.8L735.7 548.3L736.7 539.8L737.7 526.4L739.7 493.4L740.7 483.7L741.2 482.6L741.7 484.3L742.7 495.1L744.7 528.2L745.7 541.0L746.2 545.6L747.2 551.5L748.2 554.2L748.7 554.9L749.7 555.5L751.7 555.8L755.2 555.7L756.2 555.3L757.2 554.4L758.2 552.3L758.7 550.5L759.7 544.6L760.2 540.3L761.2 528.7L763.7 492.0L764.7 483.7L765.2 482.6L765.7 483.7L766.7 492.3L769.7 535.2L770.7 544.8L771.7 550.6L772.7 553.6L773.2 554.5L774.2 555.3L775.7 555.7L778.2 555.7L779.7 555.5L780.7 554.8L781.7 553.0L782.2 551.4L783.2 546.1L783.7 542.0L784.7 530.7L787.2 492.4L788.2 482.7L788.7 481.1L789.2 481.9L789.7 485.1L790.2 490.3L793.2 535.0L794.2 544.9L795.2 550.8L795.7 552.6L796.7 554.6L797.2 555.1L798.2 555.6L800.7 555.8L804.7 555.6L806.7 555.0L808.2 554.1L809.7 552.3L811.2 549.1L812.7 544.0L813.7 539.3L815.7 526.3L820.2 488.8L821.7 479.7L822.7 476.1L823.2 475.1L823.7 474.7L824.2 474.7L824.7 475.1L826.7 477.8L827.2 477.9L827.7 477.4L828.2 476.2L829.2 471.7L831.7 454.4L832.2 452.3L832.7 451.5L833.2 452.3L833.7 454.7L834.7 464.5L837.7 514.5L839.2 535.1L840.7 547.3L841.2 549.7L842.2 552.9L842.7 553.9L843.7 555.0L844.7 555.5L846.2 555.7L879.7 555.8L881.7 555.6L882.7 555.2L883.7 554.1L884.2 553.1L885.2 549.4L886.2 542.3L886.7 536.9L888.2 512.9L890.7 461.2L891.7 450.1L892.2 448.9L892.7 450.7L893.7 462.9L896.2 515.1L897.2 532.0L897.7 538.4L898.7 547.3L899.2 550.1L900.2 553.5L900.7 554.4L901.7 555.3L903.7 555.8L938.7 555.8L940.7 555.7L941.7 555.4L942.7 554.5L943.2 553.6L944.2 550.3L945.2 543.6L945.7 538.4L947.2 513.4L949.7 453.5L950.7 437.7L951.2 434.4L951.7 434.8L952.2 438.6L952.7 445.7L955.7 515.4L956.7 533.0L957.7 544.4L958.7 550.7L959.7 553.8L960.2 554.6L961.2 555.4L962.2 555.7L964.2 555.8L965.2 555.7L966.2 555.3L967.2 554.1L967.7 552.9L968.7 547.7L969.7 536.7L971.2 503.7L973.7 427.6L974.2 419.2L974.7 415.9L975.2 418.0L976.2 436.9L978.2 500.5L979.7 535.1L980.2 542.0L981.2 550.4L982.2 554.0L983.2 555.3L984.2 555.6L985.2 555.4L986.2 554.4L987.2 551.4L988.2 543.9L988.7 537.4L990.2 502.9L992.2 437.3L992.7 425.6L993.2 418.7L993.7 417.6L994.2 422.3L994.7 432.2L997.2 511.7L997.7 524.3L998.7 541.6L999.2 546.9L1000.2 552.7L1000.7 554.1L1001.2 554.9L1002.2 555.6L1003.3 555.8" fill="none" stroke="#4f4f4f" stroke-width="4.0" stroke-linejoin="round"/>
<path d="M72.2 462.4L73.2 461.4L74.7 458.7L75.2 458.6L75.7 459.5L76.2 462.0L77.2 472.1L80.2 524.5L81.7 543.0L82.7 549.7L83.7 553.3L84.7 554.9L85.7 555.5L86.7 555.7L94.2 555.7L95.2 555.5L96.2 554.8L97.2 552.9L97.7 551.0L98.7 544.5L99.7 531.8L100.7 510.8L104.2 395.4L104.7 385.0L105.2 379.3L105.7 378.8L106.2 383.4L107.2 406.3L109.7 493.6L111.2 530.1L112.2 543.5L113.2 550.6L114.2 553.8L115.2 555.1L116.2 555.6L119.2 555.8L126.7 555.7L127.7 555.2L128.2 554.6L129.2 551.8L130.2 545.2L131.2 532.7L133.7 488.2L134.2 483.7L134.7 482.7L135.2 485.3L135.7 491.1L138.2 536.0L138.7 542.4L139.7 550.4L140.7 553.9L141.2 554.6L141.7 554.9L142.2 554.9L143.2 554.2L143.7 553.5L144.7 551.0L145.2 549.1L146.2 543.3L146.7 539.2L148.2 520.5L149.7 491.7L152.7 422.2L153.7 407.1L154.2 402.9L154.7 401.2L155.2 402.2L155.7 405.8L156.7 419.7L160.2 496.4L161.2 512.6L162.2 522.8L162.7 525.6L163.2 527.2L163.7 527.5L164.2 526.8L164.7 525.3L166.7 516.3L167.7 513.1L168.2 512.4L168.7 512.4L169.2 513.2L169.7 514.7L170.7 519.6L173.7 539.9L175.2 547.6L176.2 551.0L177.2 553.2L178.2 554.5L179.7 555.4L181.2 555.7L182.7 555.7L183.7 555.6L184.7 555.2L185.7 554.2L186.2 553.2L187.2 549.8L188.2 543.3L189.2 533.1L192.2 490.1L193.2 482.4L193.7 481.4L194.2 482.4L194.7 485.1L196.2 497.7L197.2 504.1L197.7 505.5L198.2 505.5L198.7 504.5L200.2 500.0L200.7 499.8L201.2 500.9L201.7 503.4L202.7 512.2L205.2 540.4L206.2 547.8L207.2 552.2L207.7 553.5L208.7 554.9L209.2 555.2L210.2 555.3L211.2 554.9L212.2 553.9L213.2 552.0L213.7 550.5L214.7 546.1L215.7 539.1L217.2 522.1L218.7 496.8L221.7 437.2L222.7 423.7L223.2 419.6L223.7 417.5L224.2 417.6L224.7 419.7L225.7 429.8L229.2 491.6L230.2 504.9L231.2 513.0L231.7 514.8L232.2 515.3L232.7 514.5L233.2 512.6L234.2 506.2L236.7 486.7L237.7 482.2L238.2 481.4L238.7 481.6L239.2 482.9L239.7 485.1L240.7 492.2L244.2 528.0L245.2 536.6L246.2 543.3L247.2 548.1L248.7 552.5L250.2 554.5L251.7 555.4L253.2 555.7L254.7 555.7L255.7 555.5L256.7 554.8L257.7 552.7L258.7 548.0L259.7 538.8L260.2 532.3L262.7 491.4L263.2 486.0L263.7 483.1L264.2 482.8L264.7 485.0L265.2 489.4L267.2 513.3L267.7 517.7L268.2 520.7L268.7 522.4L269.2 522.9L269.7 522.6L272.2 516.7L272.7 516.0L273.2 515.7L273.7 515.9L274.2 516.5L275.2 518.9L278.2 531.5L279.2 534.9L279.7 536.0L280.2 536.5L280.7 536.3L281.2 535.3L282.2 531.1L285.2 510.1L285.7 507.9L286.2 506.7L286.7 506.8L287.2 508.0L288.2 513.7L291.2 540.3L292.2 546.8L293.2 551.1L294.2 553.6L294.7 554.3L295.7 555.2L296.7 555.6L298.2 555.7L299.2 555.5L300.2 554.9L301.2 553.0L301.7 551.3L302.7 544.9L303.7 533.7L306.2 492.3L306.7 486.5L307.2 483.2L307.7 482.8L308.2 485.3L308.7 490.5L311.2 531.7L312.2 543.7L312.7 547.7L313.7 552.6L314.7 554.7L315.7 555.4L316.7 555.3L317.7 554.2L318.7 551.0L319.2 548.1L320.2 538.6L322.7 501.7L323.2 497.1L323.7 495.2L324.2 496.2L324.7 500.0L327.7 542.3L328.7 550.1L329.7 553.8L330.2 554.7L331.2 555.5L333.2 555.8L351.2 555.8L353.2 555.3L354.2 554.4L355.2 552.2L355.7 550.4L356.7 544.3L358.2 528.1L360.7 492.5L361.2 487.9L361.7 485.4L362.2 485.0L362.7 486.9L363.7 496.4L366.2 532.5L367.2 542.9L367.7 546.7L368.7 551.5L369.2 552.8L369.7 553.5L370.2 553.8L370.7 553.6L371.2 553.1L371.7 552.0L372.7 548.5L374.2 539.4L376.7 520.0L377.2 517.5L377.7 516.1L378.2 515.8L378.7 516.7L379.7 521.7L382.2 541.3L383.7 549.8L384.2 551.5L385.2 553.9L386.2 555.0L387.2 555.5L388.7 555.8L391.2 555.8L498.2 555.8L502.2 555.8L503.7 555.5L504.7 554.9L505.2 554.3L506.2 551.8L507.2 546.6L508.2 537.2L509.7 512.6L512.2 459.0L513.2 447.3L513.7 445.9L514.2 447.8L515.2 460.4L517.7 514.2L519.2 538.1L519.7 543.3L520.7 550.1L521.7 553.5L522.2 554.4L523.2 555.3L524.7 555.7L526.7 555.8L614.2 555.8L617.2 555.7L618.7 555.0L619.7 553.6L620.7 550.6L621.7 545.0L622.2 540.8L623.2 529.5L625.7 493.2L626.7 484.2L627.2 482.6L627.7 483.3L628.2 486.1L628.7 490.7L631.7 533.2L632.7 543.3L633.7 549.7L634.7 553.2L635.2 554.1L636.2 555.2L637.2 555.6L638.7 555.8L640.7 555.7L642.2 555.3L643.2 554.6L643.7 554.0L644.7 551.8L645.7 547.8L646.2 544.8L647.7 531.4L650.7 493.1L651.7 484.8L652.2 482.9L652.7 482.7L653.2 484.3L653.7 487.4L654.7 497.6L657.2 528.3L658.2 535.5L658.7 537.0L659.2 537.0L659.7 535.4L660.2 532.2L661.2 521.8L663.2 493.8L664.2 484.5L664.7 482.7L665.2 483.1L665.7 485.6L666.2 490.1L668.7 525.9L670.2 542.9L671.2 549.4L672.2 553.0L673.2 554.7L674.2 555.4L675.2 555.7L693.2 555.7L694.7 555.4L695.7 554.9L696.7 553.8L697.7 551.5L698.7 547.5L699.2 544.5L700.2 536.0L701.2 523.2L702.2 505.9L706.2 417.3L707.2 405.2L707.7 402.7L708.2 402.8L708.7 405.5L709.7 418.0L713.2 496.5L714.7 523.8L716.2 540.7L717.2 546.4L717.7 547.6L718.2 547.7L718.7 546.5L719.7 540.1L720.7 527.7L722.7 495.9L723.2 490.5L723.7 487.6L724.2 487.5L724.7 490.3L725.2 495.6L727.7 535.1L728.2 541.1L729.2 549.3L730.2 553.4L730.7 554.4L731.7 555.3L732.7 555.4L733.2 555.2L734.2 554.0L734.7 552.8L735.7 548.3L736.7 539.8L737.7 526.4L739.7 493.4L740.7 483.7L741.2 482.6L741.7 484.3L742.7 495.1L744.7 528.2L745.7 541.0L746.2 545.6L747.2 551.5L748.2 554.2L748.7 554.9L749.7 555.5L751.7 555.8L755.2 555.7L756.2 555.3L757.2 554.4L758.2 552.3L758.7 550.5L759.7 544.6L760.2 540.3L761.2 528.7L763.7 492.0L764.7 483.7L765.2 482.6L765.7 483.7L766.7 492.3L769.2 528.9L770.2 540.5L770.7 544.8L771.7 550.6L772.2 552.4L773.2 554.5L774.2 555.3L775.7 555.7L778.7 555.7L780.2 555.3L781.2 554.3L781.7 553.4L782.7 550.0L783.7 543.6L784.7 533.4L787.7 493.3L788.2 489.8L788.7 488.3L789.2 489.1L789.7 492.0L790.2 496.7L793.2 537.3L794.2 546.2L795.2 551.4L796.2 554.0L797.2 555.2L798.2 555.6L800.7 555.8L804.7 555.6L806.7 555.0L808.2 554.1L809.7 552.3L811.2 549.1L812.7 544.0L813.7 539.3L815.7 526.3L820.2 488.8L821.7 479.7L822.7 476.1L823.2 475.1L823.7 474.7L824.2 474.7L824.7 475.1L826.7 477.8L827.2 477.9L827.7 477.4L828.2 476.2L829.2 471.7L831.7 454.4L832.2 452.3L832.7 451.5L833.2 452.3L833.7 454.7L834.7 464.5L838.2 522.3L839.7 540.1L840.2 544.1L841.2 549.7L842.2 552.9L843.2 554.5L844.7 555.5L846.7 555.8L879.7 555.8L881.7 555.7L882.7 555.4L883.7 554.7L884.2 554.0L885.2 551.4L885.7 549.2L886.7 542.1L887.2 536.9L888.2 522.9L890.7 478.4L891.7 467.4L892.2 465.5L892.7 466.2L893.2 469.6L893.7 475.3L896.2 519.3L897.7 539.9L898.7 548.0L899.2 550.5L900.2 553.6L900.7 554.5L901.7 555.3L903.7 555.8L938.7 555.8L940.7 555.7L941.7 555.4L942.7 554.5L943.2 553.6L944.2 550.4L945.2 543.7L945.7 538.6L947.2 514.0L949.7 454.7L950.7 439.1L951.2 435.9L951.7 436.2L952.2 440.1L952.7 447.1L955.7 515.9L956.7 533.3L957.7 544.5L958.7 550.8L959.7 553.8L960.2 554.6L961.2 555.4L962.7 555.7L964.7 555.7L965.7 555.6L966.7 555.0L967.7 553.0L968.7 548.1L969.7 537.3L971.2 504.7L973.7 429.1L974.2 420.7L974.7 417.3L975.2 419.3L976.2 437.9L978.2 500.9L979.7 535.3L980.7 547.1L981.7 552.6L982.7 554.8L983.7 555.5L984.7 555.6L985.7 555.1L986.2 554.4L987.2 551.4L988.2 543.9L988.7 537.4L990.2 502.9L992.2 437.3L992.7 425.6L993.2 418.7L993.7 417.6L994.2 422.3L994.7 432.2L997.2 511.7L997.7 524.3L998.7 541.6L999.2 546.9L1000.2 552.7L1000.7 554.1L1001.2 554.9L1002.2 555.6L1003.3 555.8" fill="none" stroke="#ef4444" stroke-width="4.7" stroke-linejoin="round"/>
<path d="M72.2 542.3L74.7 549.7L76.2 553.1L77.7 554.9L79.2 555.6L81.7 555.8L91.7 555.8L93.7 555.7L95.2 555.4L96.2 554.8L97.2 553.8L100.7 547.6L101.7 546.8L102.2 546.8L103.2 547.3L105.2 549.4L106.2 550.0L106.7 550.1L108.2 549.7L111.2 547.1L112.2 546.7L112.7 546.7L113.2 547.0L114.2 548.0L116.7 552.1L118.2 554.1L119.2 554.9L120.7 555.5L123.7 555.8L133.2 555.7L136.2 555.4L138.2 554.7L140.2 553.2L141.7 551.2L143.2 548.1L144.2 545.2L146.7 535.4L151.7 510.4L152.7 506.7L153.7 504.2L154.7 503.0L155.2 502.9L155.7 503.2L156.2 503.7L157.7 507.1L160.7 516.1L161.7 517.8L162.2 518.1L162.7 517.9L163.7 516.3L164.7 512.9L167.2 500.4L168.2 496.3L168.7 494.9L169.2 494.1L169.7 494.0L170.2 494.5L170.7 495.8L171.7 500.4L172.7 507.1L176.2 535.3L177.2 541.6L178.2 546.5L179.2 550.0L180.7 553.2L182.2 554.8L183.7 555.4L186.2 555.8L191.2 555.7L192.7 555.4L194.2 554.3L195.2 552.6L196.2 549.8L199.7 534.2L200.2 532.7L200.7 532.0L201.2 531.9L201.7 532.5L202.7 535.5L205.2 547.3L206.2 551.0L206.7 552.3L207.7 554.1L208.2 554.7L209.2 555.4L211.7 555.8L219.7 555.8L221.7 555.6L223.2 555.0L224.2 554.1L225.2 552.5L226.2 550.0L228.7 542.2L229.7 540.2L230.2 539.8L230.7 540.0L231.7 541.5L234.2 549.2L235.7 552.9L236.7 554.4L237.7 555.2L239.2 555.7L241.7 555.8L260.2 555.8L262.2 555.6L263.2 555.4L264.2 554.8L265.2 553.7L266.7 550.5L268.2 544.7L271.7 526.6L272.7 524.1L273.2 523.8L273.7 524.2L274.7 526.8L278.7 546.8L279.7 549.6L280.2 550.4L280.7 550.8L281.2 550.6L282.2 549.0L283.2 545.8L285.7 535.4L286.7 533.2L287.2 533.0L287.7 533.4L288.7 535.9L291.2 546.7L292.7 551.8L294.2 554.4L295.2 555.2L296.2 555.6L298.7 555.8L312.2 555.8L314.7 555.7L316.2 555.4L317.7 554.5L318.7 553.3L319.7 551.6L322.2 546.0L323.2 544.6L323.7 544.4L324.2 544.5L325.2 545.7L327.7 551.2L329.2 553.8L330.2 554.8L331.7 555.5L334.7 555.8L354.2 555.7L356.7 555.4L360.7 553.8L362.2 553.6L363.7 553.9L366.7 555.1L368.2 555.3L369.2 554.8L369.7 554.2L370.7 551.9L371.7 547.1L372.2 543.2L373.7 524.5L376.7 468.7L377.2 462.8L377.7 459.3L378.2 458.6L378.7 460.8L379.7 472.8L382.2 520.6L383.7 541.1L384.7 548.7L385.7 552.8L386.7 554.6L387.7 555.4L388.7 555.7L505.2 555.7L507.2 555.3L508.7 554.3L510.2 552.1L512.7 547.1L513.7 545.8L514.2 545.6L514.7 545.6L515.7 546.6L518.7 552.5L520.2 554.5L521.2 555.2L522.2 555.5L524.7 555.8L618.2 555.8L621.7 555.6L627.2 554.7L628.7 554.8L632.7 555.6L635.7 555.8L692.7 555.8L696.7 555.5L700.7 554.5L702.2 554.3L703.7 554.5L708.2 555.6L714.2 555.8L716.7 555.6L718.2 555.0L719.7 553.9L722.7 550.6L723.7 550.2L724.2 550.2L724.7 550.3L725.7 551.1L728.2 553.9L729.2 554.7L730.7 555.4L732.2 555.7L779.2 555.8L781.7 555.5L783.2 554.7L784.7 553.3L787.2 549.9L788.2 549.1L788.7 549.0L789.2 549.1L790.2 549.8L792.7 553.1L794.2 554.6L795.7 555.4L797.7 555.7L880.7 555.8L883.2 555.4L884.2 554.9L885.2 553.9L886.7 550.9L889.7 541.7L890.7 540.0L891.2 539.8L891.7 540.1L892.7 541.9L895.2 549.7L896.7 553.2L898.2 555.0L899.2 555.5L900.2 555.7L943.2 555.8L946.2 555.4L949.7 553.9L951.2 553.6L952.7 553.8L956.7 555.4L959.7 555.8L967.2 555.7L969.2 555.3L972.2 554.4L973.7 554.3L975.2 554.5L978.7 555.5L981.2 555.7L1003.3 555.8" fill="none" stroke="#1d6fe1" stroke-width="4.7" stroke-linejoin="round"/>
<path d="M72.2 766.0L73.2 768.9L73.7 769.5L74.2 769.0L74.7 767.3L75.2 764.4L77.2 749.0L77.7 747.3L78.2 747.5L78.7 749.7L79.7 760.3L82.2 801.7L83.2 813.8L83.7 817.7L84.2 820.0L84.7 820.6L85.2 819.5L85.7 816.9L86.7 807.1L89.7 759.6L90.7 747.8L91.2 744.1L91.7 741.9L92.2 741.0L92.7 741.2L94.7 744.8L95.2 745.1L97.2 745.8L97.7 745.5L98.2 744.2L98.7 740.9L99.7 724.8L102.2 639.3L102.7 627.5L103.2 622.4L103.7 625.2L104.2 635.8L104.7 653.3L106.7 750.5L108.2 803.1L109.2 820.9L110.2 829.3L111.2 832.7L112.2 833.9L113.2 834.3L114.2 834.2L115.2 833.5L116.2 831.2L117.2 825.1L118.2 811.7L119.7 770.2L122.2 674.6L122.7 665.2L123.2 662.5L123.7 666.9L124.2 677.9L126.7 774.7L127.7 803.9L128.7 821.2L129.7 829.5L130.2 831.6L131.2 833.6L131.7 834.0L132.7 834.3L134.2 834.1L135.2 833.2L135.7 832.4L136.7 829.2L137.2 826.5L138.2 818.2L139.2 805.1L141.2 769.5L142.2 754.7L142.7 750.3L143.2 748.4L143.7 749.2L144.2 752.7L144.7 758.6L147.7 809.7L149.2 825.3L150.2 830.4L151.2 832.8L151.7 833.5L152.7 834.0L153.7 834.1L154.7 833.9L156.2 833.2L157.7 831.8L159.2 829.2L160.2 826.6L161.2 823.0L162.2 818.0L163.2 811.4L164.2 802.8L165.7 785.6L166.7 771.1L171.7 681.3L172.7 669.1L173.2 665.0L173.7 662.4L174.2 661.3L174.7 661.7L175.2 663.6L176.2 670.8L178.7 694.9L179.2 697.6L179.7 698.5L180.2 697.4L180.7 694.2L182.7 670.8L183.2 666.8L183.7 664.8L184.2 664.7L185.2 666.6L185.7 666.8L186.2 665.3L186.7 662.0L188.2 646.2L188.7 642.2L189.2 640.5L189.7 642.1L190.2 647.3L191.2 669.1L194.2 777.0L195.7 812.9L196.7 825.1L197.7 831.0L198.2 832.4L199.2 833.8L200.2 834.3L201.2 834.4L204.7 834.3L205.7 833.9L206.7 833.0L207.2 832.1L207.7 830.4L208.2 827.5L208.7 822.6L209.7 802.1L210.2 784.6L212.2 683.6L212.7 667.5L213.2 662.5L213.7 669.7L214.2 687.4L216.2 783.7L217.2 808.0L217.7 813.2L218.2 815.2L218.7 815.1L219.2 813.5L220.2 807.7L221.7 794.8L225.2 759.1L226.7 749.1L227.2 747.4L227.7 746.5L228.2 746.5L228.7 747.5L229.2 749.2L230.2 754.9L231.7 767.3L234.2 791.3L235.7 803.0L236.7 807.9L237.2 809.1L237.7 809.4L238.2 808.7L239.2 803.7L240.2 794.0L243.2 748.2L244.2 735.7L244.7 731.7L245.2 729.6L245.7 729.4L246.2 731.4L247.2 741.0L251.2 807.1L252.2 818.2L252.7 822.3L253.7 828.1L254.7 831.4L255.2 832.3L255.7 832.9L256.2 833.0L256.7 832.8L257.2 831.9L257.7 830.2L258.2 827.4L259.2 816.9L259.7 808.8L262.2 755.2L262.7 749.7L263.2 748.4L263.7 751.7L264.2 759.0L266.2 803.6L266.7 812.8L267.7 825.4L268.2 829.0L269.2 832.8L270.2 834.1L271.7 834.5L274.2 834.3L275.2 833.9L275.7 833.4L276.7 831.2L277.7 826.3L278.7 816.4L279.2 809.2L281.7 760.1L282.2 753.0L282.7 749.0L283.2 748.6L283.7 751.7L284.2 758.1L286.7 807.1L287.2 814.8L288.2 825.4L289.2 830.8L289.7 832.3L290.7 833.7L291.7 834.0L292.7 833.5L293.7 832.0L294.2 830.5L295.2 825.5L296.2 816.5L297.2 802.8L299.7 758.7L300.7 748.1L301.2 746.3L301.7 747.0L302.2 750.0L304.2 771.4L304.7 775.2L305.2 777.0L305.7 776.6L306.2 774.1L308.7 749.2L309.2 747.3L309.7 747.8L310.2 750.9L310.7 756.3L313.2 799.8L314.7 819.9L315.2 824.2L316.2 829.9L316.7 831.5L317.7 833.4L318.7 834.1L320.7 834.4L322.7 834.2L323.7 833.5L324.7 831.9L325.2 830.5L326.2 825.5L327.7 810.5L330.7 760.3L331.7 749.9L332.2 748.3L332.7 749.4L333.7 758.7L336.2 801.4L337.2 815.4L337.7 820.6L338.7 827.8L339.2 830.1L340.2 832.7L340.7 833.4L341.7 834.1L342.7 834.4L344.7 834.5L380.7 834.5L382.7 834.1L383.7 833.3L384.7 831.2L385.2 829.4L386.2 822.9L386.7 818.0L387.7 804.0L390.2 755.5L391.2 742.5L391.7 739.5L392.2 739.0L392.7 740.5L394.2 749.8L394.7 750.9L395.2 749.6L395.7 745.3L396.7 727.7L398.7 679.9L399.2 672.6L399.7 669.4L400.2 670.8L400.7 676.9L401.2 687.1L404.2 782.4L405.7 814.0L406.7 825.0L407.7 830.6L408.2 832.1L409.2 833.7L410.2 834.3L411.7 834.5L502.2 834.5L504.7 834.4L506.2 833.8L507.2 832.7L508.2 830.2L509.2 825.2L509.7 821.5L511.2 804.0L514.2 756.1L514.7 751.3L515.2 748.7L515.7 748.5L516.2 750.7L517.2 761.4L519.7 802.7L520.7 815.7L521.2 820.5L522.2 827.0L522.7 828.8L523.2 829.7L523.7 829.7L524.2 829.0L524.7 827.4L525.2 824.9L526.2 816.7L527.2 804.2L530.2 756.4L530.7 751.5L531.2 748.8L531.7 748.5L532.2 750.5L533.2 760.8L535.7 802.0L537.2 820.3L537.7 824.3L538.7 829.6L539.2 831.3L540.2 833.2L540.7 833.7L541.7 834.2L544.2 834.5L607.2 834.5L609.7 834.4L610.7 834.1L611.7 833.2L612.7 831.0L613.7 826.3L614.2 822.6L615.7 804.3L618.2 759.7L619.2 748.8L619.7 747.2L620.2 748.3L621.2 758.3L623.7 802.8L624.7 816.7L625.2 821.8L626.2 828.6L626.7 830.7L627.7 833.0L628.7 834.0L629.7 834.3L630.7 834.2L631.7 833.6L632.7 831.9L633.2 830.4L634.2 825.0L635.7 808.6L638.7 756.7L639.2 751.5L639.7 748.9L640.2 749.2L640.7 752.3L641.2 757.9L643.7 802.2L644.7 816.5L645.7 825.7L646.7 830.7L647.7 833.1L648.7 834.0L649.7 834.4L665.2 834.5L667.2 834.4L668.2 834.1L669.2 833.4L669.7 832.6L670.7 829.8L671.7 824.1L672.2 819.6L673.7 797.7L676.7 731.5L677.2 724.2L677.7 719.7L678.2 718.6L678.7 720.8L679.7 734.4L682.7 800.9L683.7 816.1L684.7 825.5L685.7 830.6L686.2 832.1L687.2 833.6L688.2 834.2L689.7 834.5L693.2 834.4L694.7 834.0L695.7 833.1L696.2 832.3L697.2 829.2L698.2 823.0L699.2 812.1L700.7 784.6L703.7 712.9L704.2 705.9L704.7 702.0L705.2 701.6L705.7 704.7L706.7 720.0L709.2 781.8L710.2 802.2L710.7 810.1L711.7 821.2L712.2 824.6L712.7 826.9L713.2 828.0L713.7 828.2L714.2 827.6L714.7 826.1L715.7 820.6L716.2 816.7L717.7 799.9L720.7 758.9L721.7 751.3L722.2 749.9L722.7 750.2L723.2 752.3L724.2 760.9L727.2 802.4L728.7 818.5L730.2 827.9L730.7 829.7L731.7 832.2L732.2 833.0L733.2 833.8L734.7 834.3L738.7 834.5L741.2 834.1L742.7 833.3L743.7 832.1L744.7 830.0L745.2 828.4L746.7 821.1L747.7 813.5L749.2 797.8L752.2 760.0L753.2 751.3L753.7 748.7L754.2 747.3L754.7 747.4L755.2 748.8L756.2 755.5L760.2 801.9L761.2 809.1L761.7 811.0L762.2 811.4L762.7 810.4L763.2 807.7L764.2 797.6L767.7 736.7L768.2 731.2L768.7 728.2L769.2 727.9L769.7 730.2L770.7 742.1L774.2 807.7L775.2 819.6L776.2 827.0L776.7 829.4L777.7 832.3L778.2 833.1L779.2 834.0L781.2 834.4L785.2 834.4L788.2 834.2L790.2 833.6L792.2 832.2L793.2 830.9L794.2 829.2L795.2 826.8L796.2 823.7L797.7 817.3L800.2 801.5L805.2 757.8L806.2 750.3L807.2 744.7L807.7 742.8L808.2 741.5L808.7 740.9L809.2 740.8L809.7 741.2L811.2 743.3L811.7 743.4L812.2 742.8L812.7 741.0L813.2 738.0L813.7 733.4L814.7 719.6L817.7 661.2L818.7 650.4L819.2 648.7L819.7 649.8L820.2 653.7L821.2 668.7L825.2 770.1L826.2 791.1L827.2 807.2L828.2 818.5L829.2 825.8L830.2 830.1L830.7 831.5L831.7 833.1L833.2 834.1L835.2 834.4L851.2 834.4L852.7 834.2L853.7 833.7L854.7 832.8L855.7 831.0L856.7 827.7L857.2 825.4L858.7 814.4L860.2 797.0L863.2 755.9L864.2 748.5L864.7 747.2L865.2 747.7L865.7 749.8L866.7 758.6L869.7 799.8L870.7 810.4L871.7 816.7L872.2 817.8L872.7 817.5L873.2 815.5L874.2 806.6L877.2 757.1L877.7 751.3L878.2 747.9L878.7 747.3L879.2 749.4L880.2 761.1L883.2 813.0L884.2 823.5L884.7 827.0L885.7 831.4L886.7 833.3L887.7 834.1L888.7 834.4L903.2 834.5L904.7 834.2L905.7 833.6L906.7 832.0L907.2 830.5L908.2 825.2L908.7 821.2L910.2 801.6L912.7 757.2L913.2 751.4L913.7 747.9L914.2 747.3L914.7 749.4L915.7 761.1L918.2 805.8L919.7 823.4L920.7 829.5L921.7 832.5L922.7 833.8L923.7 834.2L924.7 834.1L925.7 833.2L926.7 830.6L927.2 828.1L928.2 818.8L928.7 811.3L930.2 774.4L932.7 693.5L933.2 684.0L933.7 679.1L934.2 679.0L934.7 683.3L935.2 691.2L937.7 747.5L939.2 771.8L941.7 801.6L943.2 816.7L944.2 824.1L944.7 826.9L945.7 830.8L946.7 832.9L947.7 833.9L949.2 834.4L951.2 834.5L954.7 834.4L956.2 834.1L957.2 833.2L958.2 830.9L959.2 826.0L960.2 817.0L961.2 803.0L963.7 758.2L964.7 748.2L965.2 747.0L965.7 748.2L966.2 751.6L968.2 771.3L968.7 773.7L969.2 774.0L969.7 772.2L970.2 768.5L971.7 752.6L972.2 748.5L972.7 746.3L973.2 746.4L973.7 749.0L974.2 753.9L977.7 812.6L978.7 823.2L979.7 829.3L980.7 832.4L981.7 833.8L982.7 834.3L985.7 834.5L993.2 834.3L994.2 833.9L995.2 832.8L996.2 830.1L997.2 824.4L998.2 813.7L999.7 785.1L1002.2 719.3L1002.7 709.6L1003.3 702.1" fill="none" stroke="#4f4f4f" stroke-width="4.0" stroke-linejoin="round"/>
<path d="M72.2 777.4L73.2 780.2L73.7 780.8L74.2 780.5L74.7 779.0L75.2 776.4L77.2 762.3L77.7 760.5L78.2 760.2L78.7 761.9L79.7 770.4L82.2 805.7L83.2 816.1L83.7 819.4L84.2 821.2L84.7 821.4L85.2 820.2L85.7 817.5L86.7 807.8L89.2 770.7L90.2 759.4L90.7 755.9L91.2 753.9L91.7 753.3L92.2 753.5L93.2 755.0L93.7 755.3L94.2 755.0L96.2 750.5L96.7 749.9L97.7 749.8L98.2 749.2L98.7 747.1L99.2 742.5L100.2 723.7L102.2 663.4L102.7 653.8L103.2 650.2L103.7 653.6L104.2 664.0L106.7 767.4L108.2 811.7L108.7 819.9L109.7 829.3L110.2 831.6L110.7 832.9L111.7 834.1L112.7 834.4L113.7 834.4L114.7 834.2L115.7 833.2L116.2 832.0L117.2 827.0L118.2 815.4L119.7 778.2L122.2 690.2L122.7 681.4L123.2 678.9L123.7 683.0L124.2 693.2L126.7 782.2L127.2 796.8L128.2 817.3L128.7 823.6L129.7 830.7L130.2 832.4L130.7 833.4L131.7 834.2L132.7 834.4L133.7 834.3L134.7 833.9L135.7 832.8L136.7 830.2L137.7 824.9L139.2 809.9L141.7 772.4L142.7 762.9L143.2 761.3L143.7 762.0L144.2 765.1L144.7 770.1L147.7 813.7L148.7 823.5L149.7 829.4L150.2 831.2L151.2 833.2L152.2 833.9L153.2 834.1L154.2 834.0L156.2 833.2L157.7 831.8L159.2 829.3L160.2 826.8L161.2 823.4L162.2 818.9L164.2 806.1L166.2 788.0L169.7 749.5L171.2 735.1L172.7 725.0L173.7 721.6L174.2 721.0L174.7 721.2L175.2 722.1L175.7 723.8L176.7 729.2L178.2 741.7L181.7 778.5L182.7 786.4L183.2 788.9L183.7 790.1L184.2 789.7L184.7 787.4L185.2 783.1L188.2 736.7L188.7 732.6L189.2 731.6L189.7 733.9L190.7 748.0L192.7 792.9L193.7 811.3L194.2 818.1L195.2 827.1L196.2 831.6L197.2 833.5L198.2 834.2L200.2 834.5L206.2 834.4L207.2 833.8L207.7 832.8L208.2 830.8L208.7 826.9L209.7 809.1L210.7 771.6L212.2 697.0L212.7 681.4L213.2 676.6L213.7 683.5L214.2 700.6L216.2 791.8L216.7 805.2L217.2 813.3L217.7 817.4L218.2 818.4L218.7 817.5L219.7 812.4L221.2 800.8L224.2 772.6L225.7 760.4L226.7 754.8L227.2 753.0L227.7 751.9L228.2 751.5L228.7 752.0L229.2 753.1L229.7 755.0L230.7 760.8L234.7 795.8L235.7 803.1L236.7 808.0L237.2 809.2L237.7 809.6L238.2 808.9L239.2 804.2L240.2 795.3L243.7 749.5L244.7 742.7L245.2 741.8L245.7 742.7L246.2 745.4L247.2 755.3L250.2 800.0L251.2 812.2L252.2 821.2L252.7 824.5L253.7 829.2L254.2 830.8L255.2 832.7L256.2 833.6L256.7 833.6L257.2 833.4L257.7 832.7L258.7 829.5L259.7 822.2L262.2 791.7L262.7 788.4L263.2 787.7L263.7 789.6L264.2 794.0L266.2 819.4L267.2 828.0L267.7 830.6L268.7 833.3L269.7 834.2L271.2 834.5L274.2 834.4L275.7 833.9L276.7 832.5L277.7 828.7L278.7 820.7L279.2 814.6L282.2 765.5L282.7 761.9L283.2 761.5L283.7 764.3L284.2 770.0L286.7 812.9L287.7 824.3L288.2 828.0L289.2 832.1L289.7 833.2L290.7 834.1L291.2 834.2L292.2 834.1L293.2 833.4L293.7 832.8L294.7 830.2L295.7 825.0L297.2 810.5L299.7 775.2L300.7 766.4L301.2 764.8L301.7 765.2L302.2 767.6L304.7 790.9L305.2 793.9L305.7 795.5L306.2 795.7L306.7 794.7L308.7 786.3L309.2 785.4L309.7 785.6L310.2 787.1L311.2 793.6L313.7 817.7L314.7 825.0L315.2 827.6L316.2 831.3L317.2 833.1L317.7 833.7L318.7 834.2L320.2 834.4L321.7 834.4L322.7 834.3L323.7 833.8L324.7 832.6L325.2 831.4L326.2 827.6L327.7 815.9L330.7 776.4L331.7 768.3L332.2 767.0L332.7 767.8L333.7 775.2L336.2 808.8L337.7 823.8L338.2 827.0L339.2 831.1L340.2 833.2L340.7 833.7L341.7 834.2L344.7 834.5L380.7 834.5L382.7 834.3L383.7 833.8L384.2 833.2L385.2 831.2L385.7 829.4L386.7 823.4L387.7 813.8L390.2 780.4L391.2 771.9L391.7 770.5L392.2 771.0L392.7 773.5L394.7 791.9L395.7 798.1L396.2 799.1L396.7 798.5L397.2 796.7L399.2 786.3L399.7 785.4L400.2 785.7L400.7 787.5L401.7 794.7L404.2 819.5L405.2 826.4L405.7 828.8L406.7 832.0L407.2 832.9L408.2 833.9L409.7 834.4L412.2 834.5L502.7 834.5L504.7 834.4L505.7 834.2L506.7 833.5L507.2 832.9L508.2 830.8L509.2 826.6L510.2 819.4L511.2 808.7L514.2 768.8L514.7 764.9L515.2 762.8L515.7 762.6L516.2 764.4L517.2 773.2L519.7 807.6L520.7 818.5L521.2 822.6L522.2 828.0L522.7 829.5L523.2 830.2L523.7 830.3L524.2 829.5L524.7 828.1L525.2 825.8L526.2 818.5L527.2 807.3L530.2 765.0L530.7 760.7L531.2 758.3L531.7 758.0L532.2 759.7L533.2 768.9L535.7 805.4L537.2 821.7L537.7 825.3L538.7 830.1L539.2 831.6L540.2 833.3L540.7 833.8L541.7 834.3L544.2 834.5L606.7 834.5L610.2 834.3L611.2 833.8L611.7 833.3L612.7 831.2L613.7 826.9L614.2 823.4L615.7 806.1L618.2 764.0L619.2 753.7L619.7 752.1L620.2 753.2L621.2 762.7L623.7 804.7L625.2 822.6L626.2 829.0L627.2 832.3L627.7 833.2L628.7 834.0L629.7 834.3L630.7 834.2L631.7 833.6L632.2 833.0L633.2 830.4L634.2 825.0L634.7 820.8L636.2 800.6L638.7 756.7L639.2 751.5L639.7 748.9L640.2 749.2L640.7 752.3L641.2 757.9L643.7 802.2L644.7 816.5L645.7 825.7L646.7 830.7L647.7 833.1L648.7 834.0L649.7 834.4L664.2 834.5L667.7 834.3L668.7 833.9L669.2 833.5L670.2 831.9L671.2 828.2L672.2 820.9L673.7 800.0L676.7 735.6L677.7 723.7L678.2 722.3L678.7 724.3L679.7 737.2L682.7 801.7L683.7 816.5L684.7 825.7L685.7 830.7L686.2 832.1L687.2 833.6L688.2 834.2L689.2 834.4L692.2 834.5L694.2 834.2L695.2 833.7L695.7 833.2L696.7 831.1L697.7 826.7L698.7 818.5L700.2 795.9L703.7 716.5L704.2 710.1L704.7 706.7L705.2 706.7L705.7 710.1L706.7 725.6L709.2 785.4L710.2 804.7L710.7 812.1L711.7 822.4L712.2 825.5L712.7 827.5L713.2 828.4L713.7 828.5L714.2 827.7L714.7 826.2L715.7 820.7L716.2 816.7L717.7 799.9L720.7 758.9L721.7 751.3L722.2 749.9L722.7 750.2L723.2 752.3L724.2 760.9L727.2 802.4L728.7 818.5L730.2 827.9L730.7 829.7L731.7 832.2L732.2 833.0L733.2 833.8L734.7 834.3L738.7 834.5L741.2 834.1L742.7 833.3L743.7 832.1L744.7 830.0L745.2 828.4L746.7 821.2L747.7 813.8L749.2 798.5L752.2 762.8L753.2 754.8L753.7 752.3L754.2 751.1L754.7 751.1L755.2 752.5L756.2 758.6L757.2 768.5L759.7 797.9L760.7 807.0L761.7 812.2L762.2 813.0L762.7 812.3L763.2 810.1L763.7 806.4L764.7 794.4L767.7 743.2L768.2 737.7L768.7 734.5L769.2 733.9L769.7 735.7L770.7 746.5L774.2 808.6L775.2 820.0L775.7 824.1L776.7 829.5L777.2 831.2L778.2 833.2L779.2 834.0L780.2 834.3L784.2 834.5L788.2 834.2L790.2 833.6L792.2 832.2L793.7 830.1L795.2 826.8L796.7 821.8L798.2 814.7L800.7 797.8L805.2 761.2L806.2 754.9L807.2 750.4L808.2 747.8L808.7 747.3L809.2 747.3L809.7 747.8L810.7 750.3L812.7 758.0L813.7 761.1L814.2 761.9L814.7 762.0L815.2 761.3L815.7 759.6L816.7 753.4L819.7 725.1L820.2 722.4L820.7 721.2L821.2 721.6L821.7 723.9L822.7 733.7L826.2 794.2L827.7 814.2L828.7 822.9L829.7 828.3L830.7 831.5L831.7 833.1L833.2 834.1L835.2 834.4L851.2 834.4L852.7 834.2L853.7 833.7L854.7 832.8L855.7 831.1L856.7 828.0L857.2 825.7L858.7 815.7L859.7 806.0L862.7 770.6L863.7 762.4L864.2 760.1L864.7 759.0L865.2 759.4L865.7 761.1L866.7 768.2L869.7 802.7L870.7 812.1L871.7 817.8L872.2 818.8L872.7 818.6L873.2 816.8L874.2 808.6L877.2 762.6L877.7 757.1L878.2 754.0L878.7 753.3L879.2 755.4L880.2 766.3L882.7 808.1L883.7 820.2L884.7 827.7L885.2 830.0L886.2 832.7L887.2 833.9L888.7 834.4L903.7 834.4L904.7 834.3L905.7 833.7L906.7 832.3L907.2 831.0L908.2 826.3L909.2 817.9L910.2 805.0L912.7 764.7L913.2 759.4L913.7 756.2L914.2 755.6L914.7 757.6L915.2 761.9L918.2 808.8L919.7 824.7L920.7 830.1L921.7 832.8L922.2 833.5L923.2 834.1L924.2 834.3L925.2 833.9L926.2 832.7L927.2 829.2L928.2 821.4L928.7 815.1L929.7 796.5L932.2 730.9L932.7 721.8L933.2 716.5L933.7 715.7L934.2 719.4L934.7 727.3L937.2 792.4L938.2 812.4L939.2 824.6L939.7 828.2L940.7 832.3L941.7 833.8L943.2 834.4L954.7 834.4L955.7 834.3L956.7 833.7L957.7 832.3L958.2 830.9L959.2 826.0L960.2 817.0L961.2 803.0L963.7 758.3L964.2 752.3L964.7 748.6L965.2 747.5L965.7 749.1L966.2 752.9L968.2 776.5L968.7 780.5L969.2 782.7L969.7 782.8L970.2 781.2L971.7 770.7L972.2 767.7L972.7 766.1L973.2 766.1L973.7 768.1L974.7 777.4L977.7 817.7L978.7 825.9L979.7 830.6L980.7 833.0L981.2 833.6L982.2 834.2L984.7 834.5L993.2 834.3L994.2 833.9L995.2 832.9L996.2 830.3L997.2 824.7L998.2 814.5L999.7 787.3L1002.2 726.0L1002.7 717.3L1003.3 710.9" fill="none" stroke="#ef4444" stroke-width="4.7" stroke-linejoin="round"/>
<path d="M72.2 832.6L75.7 834.0L78.7 834.4L93.2 834.5L95.2 834.3L96.2 833.9L97.2 833.2L97.7 832.5L98.7 830.5L99.7 827.5L102.2 817.3L103.2 814.5L103.7 814.0L104.2 814.1L104.7 814.7L105.2 816.0L108.2 827.8L109.2 830.8L109.7 831.8L110.7 833.3L112.2 834.2L115.7 834.5L157.2 834.5L160.2 834.3L162.2 833.6L163.7 832.0L164.7 830.1L165.7 827.2L166.7 823.0L168.2 814.2L171.7 788.7L172.7 783.6L173.2 782.0L173.7 781.0L174.2 780.6L174.7 780.8L175.2 781.5L177.2 786.2L177.7 787.0L178.2 787.3L178.7 786.9L179.2 785.8L180.2 781.1L183.2 756.2L184.2 749.8L184.7 747.8L185.2 746.7L185.7 746.4L186.2 746.8L187.7 748.9L188.2 749.0L188.7 748.6L189.7 746.8L190.2 746.4L190.7 746.9L191.2 748.9L192.2 758.8L194.7 803.8L196.2 823.3L196.7 827.1L197.7 831.6L198.7 833.5L199.7 834.2L202.2 834.5L218.2 834.5L220.7 834.3L225.7 833.4L232.2 834.4L239.2 834.3L240.7 833.9L242.2 832.8L243.2 831.5L246.2 826.3L247.2 825.5L247.7 825.4L248.2 825.7L249.2 826.8L251.7 831.3L253.2 833.2L254.7 834.0L255.7 834.1L256.2 833.9L257.2 832.8L257.7 831.6L258.7 827.5L259.7 820.2L262.2 796.2L262.7 793.9L263.2 793.4L263.7 794.7L264.2 797.8L266.7 822.1L267.7 828.7L268.2 830.8L269.2 833.2L269.7 833.8L270.7 834.3L273.2 834.5L291.2 834.5L293.7 834.1L295.2 833.3L296.7 831.4L299.2 826.4L300.2 824.9L300.7 824.5L301.7 824.3L303.2 825.1L303.7 825.2L304.2 825.0L304.7 824.3L305.7 821.2L308.2 807.5L308.7 805.7L309.2 804.8L309.7 805.1L310.2 806.3L310.7 808.5L313.2 824.7L314.2 829.4L314.7 831.1L315.7 833.1L316.2 833.6L317.2 834.2L318.7 834.5L322.7 834.5L324.2 834.3L325.7 833.6L326.7 832.7L327.7 831.2L330.7 824.6L331.7 823.3L332.2 823.1L332.7 823.2L333.7 824.4L336.2 830.0L337.7 832.6L339.2 833.9L340.7 834.3L344.2 834.5L385.7 834.5L388.2 834.5L389.7 834.2L390.7 833.7L391.2 833.1L392.2 830.9L393.2 826.1L394.2 817.0L395.7 792.9L398.2 736.7L399.2 722.7L399.7 720.1L400.2 721.0L400.7 725.1L401.2 732.2L404.2 797.8L405.7 819.8L406.7 827.6L407.7 831.6L408.7 833.4L409.2 833.9L410.2 834.3L413.7 834.5L506.2 834.5L509.7 834.4L514.2 833.5L515.7 833.4L521.2 834.3L525.2 834.5L696.7 834.5L699.2 834.4L701.2 833.8L702.7 832.8L705.2 830.6L706.7 830.0L708.2 830.5L710.7 832.7L712.2 833.7L713.7 834.2L716.2 834.5L758.2 834.4L759.7 834.3L761.2 833.8L764.7 831.6L766.2 831.1L767.7 831.5L771.7 833.9L773.2 834.3L775.2 834.5L854.7 834.5L857.2 834.3L859.2 833.5L860.7 832.0L863.2 828.7L864.2 827.8L864.7 827.7L865.2 827.7L866.2 828.4L869.7 832.8L870.7 833.5L872.2 833.9L873.7 833.5L877.2 831.1L878.7 830.7L880.2 831.2L883.7 833.7L885.7 834.3L890.2 834.5L906.2 834.4L907.7 834.0L908.7 833.5L910.2 832.2L912.7 829.4L913.7 828.9L914.2 828.8L914.7 829.0L915.7 829.7L918.2 832.4L919.2 833.3L920.7 834.1L922.7 834.4L1003.3 834.5" fill="none" stroke="#1d6fe1" stroke-width="4.7" stroke-linejoin="round"/>
<path d="M72.2 833.0L75.2 829.7L76.2 829.0L76.7 828.8L77.2 828.9L78.2 829.4L81.2 832.6L82.2 833.4L84.2 834.2L86.2 834.2L87.7 833.6L91.2 830.7L92.7 830.0L93.2 830.0L94.2 830.4L96.7 832.4L98.2 833.2L99.7 833.0L102.7 831.4L104.2 831.1L105.2 831.4L108.2 833.4L109.7 834.0L112.2 834.4L115.2 834.3L116.7 833.6L118.2 832.0L119.2 830.1L121.7 824.5L122.7 823.2L123.2 823.1L123.7 823.3L124.7 824.7L127.2 830.4L128.7 832.8L130.2 834.0L131.2 834.3L132.7 834.4L135.7 834.2L136.7 833.8L137.7 833.1L139.2 831.1L141.7 826.7L142.7 825.6L143.2 825.4L143.7 825.5L144.7 826.4L147.7 831.6L149.2 833.4L150.7 834.2L153.2 834.5L164.2 834.5L167.2 834.3L169.2 833.7L172.7 831.6L174.2 831.1L175.7 831.5L179.2 833.7L181.7 834.4L204.7 834.4L206.2 834.2L207.7 833.7L209.2 832.7L211.7 830.5L213.2 830.0L214.7 830.6L217.2 832.8L218.7 833.8L220.2 834.3L222.7 834.5L255.2 834.4L256.7 834.1L257.7 833.7L259.2 832.7L261.7 830.5L263.2 830.0L264.7 830.6L267.2 832.8L268.7 833.8L270.2 834.3L272.2 834.5L275.2 834.4L277.2 833.9L278.7 833.0L281.7 830.4L282.7 830.0L283.2 830.0L284.7 830.7L288.2 833.6L289.7 834.2L291.7 834.4L299.7 834.5L302.7 834.3L304.7 833.6L307.7 831.6L309.2 831.1L310.7 831.5L314.7 833.9L316.2 834.3L317.7 834.4L381.7 834.5L384.2 834.1L385.2 833.7L386.2 832.8L387.7 830.3L390.2 824.7L391.2 823.4L391.7 823.1L392.2 823.2L393.2 824.4L396.2 830.9L397.7 833.1L398.7 833.8L399.7 834.2L402.2 834.5L506.7 834.4L508.7 834.0L510.2 833.0L511.2 831.8L514.2 827.3L515.2 826.6L515.7 826.6L516.2 826.8L517.2 827.8L519.7 831.7L520.7 832.9L522.2 833.9L523.7 834.3L525.2 834.2L526.2 833.9L530.2 831.5L531.7 831.1L533.2 831.6L535.7 833.3L537.2 834.0L538.7 834.3L541.2 834.5L611.2 834.5L614.2 834.3L618.2 833.2L619.7 833.0L621.2 833.1L625.2 834.2L627.7 834.5L666.7 834.5L670.2 834.2L674.2 832.6L675.7 832.3L677.2 832.5L681.2 834.1L682.7 834.4L685.2 834.5L807.2 834.4L808.2 834.2L809.2 833.7L810.2 832.4L811.2 829.5L812.2 824.0L813.7 809.3L816.2 774.4L817.2 765.4L817.7 763.7L818.2 764.0L818.7 766.4L819.2 770.6L822.2 811.2L823.7 825.1L824.2 828.0L825.2 831.6L826.2 833.4L826.7 833.8L827.7 834.3L831.2 834.5L925.7 834.5L928.7 834.4L930.2 834.2L931.2 833.6L932.2 832.3L933.2 829.6L933.7 827.6L935.2 818.2L937.7 796.9L938.7 791.9L939.2 791.1L939.7 791.5L940.7 796.1L943.2 817.2L944.7 827.0L945.2 829.2L946.2 832.0L946.7 832.9L947.7 833.9L948.7 834.3L950.2 834.5L961.7 834.5L964.2 834.3L965.7 833.7L967.2 831.9L968.2 829.7L971.2 819.2L972.2 816.8L972.7 816.3L973.2 816.3L973.7 816.9L974.2 817.9L977.2 828.3L978.2 831.0L979.7 833.3L981.2 834.2L983.7 834.5L993.7 834.5L996.2 834.4L997.7 834.1L999.2 833.2L1000.2 832.2L1003.3 827.1" fill="none" stroke="#3aad69" stroke-width="4.7" stroke-linejoin="round"/>
<path d="M72.2 1113.6L80.2 1113.5L81.2 1113.3L82.2 1112.8L83.2 1111.1L83.7 1109.3L84.7 1102.4L85.7 1087.3L86.7 1059.5L89.7 915.8L90.2 898.5L90.7 888.5L91.2 887.0L91.7 894.2L92.2 909.3L94.7 1033.7L95.7 1071.6L96.2 1084.6L97.2 1100.8L97.7 1105.0L98.2 1107.5L98.7 1108.6L99.2 1108.8L99.7 1108.3L100.7 1105.7L101.7 1101.4L102.7 1095.5L104.2 1084.0L107.7 1052.9L108.7 1046.8L109.2 1044.8L109.7 1043.7L110.2 1043.5L110.7 1044.3L111.2 1046.0L112.2 1051.4L113.7 1061.9L114.7 1066.8L115.2 1067.7L115.7 1067.1L116.2 1064.9L116.7 1060.8L117.7 1046.7L121.2 968.7L121.7 961.9L122.2 958.1L122.7 957.6L123.2 960.4L124.2 975.1L127.2 1052.3L128.7 1082.8L130.2 1100.7L130.7 1104.4L131.7 1109.1L132.7 1111.6L133.7 1112.8L135.2 1113.4L138.2 1113.6L154.2 1113.6L157.7 1113.3L159.2 1112.9L160.2 1112.2L161.2 1111.1L162.2 1109.4L163.2 1106.7L164.2 1102.9L165.7 1094.8L167.2 1083.6L170.2 1057.8L171.2 1050.7L172.2 1045.4L173.2 1042.0L174.2 1040.3L175.2 1039.9L177.2 1040.0L178.2 1039.4L178.7 1038.8L179.7 1036.6L180.2 1035.0L181.7 1027.6L183.2 1015.6L184.7 998.0L188.2 942.2L189.2 929.0L190.2 920.7L190.7 918.9L191.2 918.8L191.7 920.3L192.2 923.4L193.2 933.9L197.2 998.3L198.7 1016.7L199.2 1020.9L200.2 1026.0L200.7 1027.1L201.2 1027.5L202.2 1027.4L202.7 1027.9L203.2 1029.5L203.7 1032.4L204.7 1042.9L207.2 1082.3L208.2 1093.2L208.7 1096.5L209.2 1098.4L209.7 1099.0L210.2 1098.5L211.2 1094.6L212.7 1083.3L215.7 1054.2L216.7 1049.2L217.2 1048.5L217.7 1049.1L218.7 1053.6L222.7 1087.4L223.2 1090.2L223.7 1091.8L224.2 1091.8L224.7 1089.8L225.2 1085.5L227.2 1055.1L227.7 1050.5L228.2 1049.7L228.7 1053.2L229.2 1060.3L230.7 1089.7L231.7 1103.8L232.7 1110.6L233.2 1112.1L233.7 1112.9L234.7 1113.5L245.2 1113.6L246.7 1113.5L247.7 1113.2L248.7 1112.4L249.7 1110.8L250.7 1107.5L251.2 1104.8L252.2 1096.7L252.7 1090.9L253.7 1074.7L254.7 1052.2L257.2 984.0L258.2 968.6L258.7 966.9L259.2 969.8L260.2 987.9L262.7 1063.3L263.7 1086.1L264.2 1094.3L265.2 1105.0L266.2 1110.2L267.2 1112.4L267.7 1112.8L268.7 1112.9L269.7 1112.0L270.7 1109.2L271.2 1106.5L272.2 1097.2L272.7 1090.2L274.7 1056.0L275.2 1050.9L275.7 1049.2L276.2 1051.2L276.7 1056.5L278.7 1090.8L279.7 1102.9L280.7 1109.3L281.7 1112.1L282.2 1112.7L283.2 1113.2L284.2 1113.3L285.2 1112.9L286.2 1111.6L286.7 1110.4L287.7 1106.3L289.2 1093.6L292.2 1054.5L292.7 1050.9L293.2 1049.2L293.7 1049.8L294.2 1052.5L294.7 1057.1L297.7 1096.4L298.2 1101.1L299.2 1107.6L299.7 1109.7L300.7 1112.1L301.2 1112.7L302.2 1113.3L304.2 1113.6L306.2 1113.4L307.2 1112.8L308.2 1111.4L309.2 1107.9L309.7 1104.9L310.7 1095.3L311.2 1088.1L312.2 1068.8L314.7 1007.3L315.7 992.9L316.2 990.8L316.7 992.5L317.7 1006.4L320.2 1067.8L321.7 1094.7L322.2 1100.3L323.2 1107.7L323.7 1109.8L324.7 1112.2L325.7 1113.1L327.2 1113.5L342.2 1113.5L343.2 1113.4L344.2 1113.0L345.2 1111.9L345.7 1110.9L346.7 1107.4L347.7 1101.1L348.7 1091.5L351.2 1059.3L352.2 1050.9L352.7 1049.3L353.2 1049.6L353.7 1051.8L354.2 1055.8L356.7 1087.5L358.2 1102.4L359.2 1108.1L359.7 1109.9L360.7 1112.1L361.2 1112.7L362.2 1113.3L364.7 1113.6L393.7 1113.6L395.7 1113.3L396.7 1112.6L397.7 1110.7L398.2 1108.8L399.2 1101.9L400.2 1088.5L400.7 1078.4L401.7 1050.6L404.2 957.0L405.2 932.0L405.7 926.9L406.2 927.5L406.7 933.7L407.2 945.0L410.2 1053.5L411.7 1089.9L412.7 1102.6L413.7 1109.1L414.7 1112.0L415.2 1112.7L416.2 1113.3L419.2 1113.6L463.2 1113.6L465.7 1113.4L466.7 1113.0L467.2 1112.6L468.2 1110.9L468.7 1109.5L469.7 1104.8L470.2 1101.4L471.2 1091.8L473.7 1059.7L474.7 1051.1L475.2 1049.4L475.7 1049.5L476.2 1051.6L476.7 1055.4L479.7 1092.7L480.7 1102.0L481.2 1105.3L482.2 1109.8L483.2 1112.0L484.2 1113.0L485.2 1113.4L487.2 1113.6L522.7 1113.6L525.2 1113.4L526.2 1112.9L526.7 1112.5L527.7 1110.8L528.2 1109.3L529.2 1104.6L529.7 1101.2L530.7 1091.7L533.7 1055.0L534.2 1051.4L534.7 1049.4L535.2 1049.4L535.7 1051.2L536.7 1059.8L539.2 1091.5L540.2 1101.0L541.2 1107.2L541.7 1109.3L542.7 1111.8L543.2 1112.5L544.2 1113.2L546.2 1113.6L564.7 1113.6L567.2 1113.3L568.2 1112.8L568.7 1112.2L569.7 1109.9L570.7 1105.4L571.2 1101.9L572.2 1092.0L574.7 1058.6L575.7 1050.4L576.2 1049.2L576.7 1050.1L577.7 1058.0L580.2 1091.4L581.2 1101.4L581.7 1105.0L582.7 1109.8L583.2 1111.2L584.2 1112.7L585.7 1113.4L587.7 1113.6L642.2 1113.6L645.7 1113.4L646.7 1112.9L647.2 1112.4L648.2 1110.6L649.2 1106.8L649.7 1103.9L651.2 1090.1L653.7 1058.0L654.7 1050.4L655.2 1049.2L655.7 1050.0L656.7 1057.0L659.7 1094.6L660.7 1103.3L661.7 1108.6L662.7 1111.5L663.2 1112.3L664.2 1113.1L665.2 1113.5L666.7 1113.6L672.2 1113.4L673.7 1112.7L674.7 1111.6L675.2 1110.7L676.2 1107.9L677.2 1103.2L678.7 1091.8L681.7 1060.0L682.7 1052.1L683.2 1049.5L683.7 1047.9L684.2 1047.1L684.7 1047.2L685.2 1048.0L687.2 1052.4L687.7 1052.9L688.2 1052.9L689.2 1051.4L690.7 1047.4L691.2 1046.4L691.7 1045.8L692.2 1045.9L692.7 1046.6L693.7 1050.5L695.2 1061.2L698.7 1092.2L700.2 1100.9L701.2 1104.1L701.7 1104.8L702.2 1105.0L702.7 1104.5L703.2 1103.4L703.7 1101.7L704.7 1096.3L705.7 1088.5L708.7 1059.3L709.7 1052.5L710.2 1050.5L710.7 1049.6L711.2 1049.7L711.7 1050.8L714.2 1062.6L714.7 1064.0L715.2 1064.6L715.7 1064.1L716.2 1062.6L718.7 1049.6L719.2 1048.5L719.7 1048.6L720.2 1050.0L720.7 1052.3L722.7 1064.3L723.2 1065.8L723.7 1066.2L724.2 1065.5L724.7 1063.7L726.7 1052.4L727.2 1050.5L727.7 1049.6L728.2 1049.8L728.7 1051.3L729.7 1057.9L733.2 1093.4L734.2 1098.9L734.7 1100.0L735.2 1099.9L735.7 1098.6L736.7 1092.3L739.7 1057.9L740.7 1051.4L741.2 1050.7L741.7 1051.8L742.2 1054.5L744.7 1077.4L745.2 1080.1L745.7 1081.1L746.2 1080.4L746.7 1078.0L749.2 1054.2L749.7 1051.0L750.2 1049.6L750.7 1050.2L751.2 1052.8L751.7 1057.2L754.2 1089.9L755.2 1100.3L756.2 1107.1L757.2 1110.8L758.2 1112.6L759.2 1113.3L760.2 1113.5L775.7 1113.6L778.7 1113.3L779.7 1112.7L780.2 1112.2L781.2 1110.1L782.2 1105.9L782.7 1102.7L784.2 1088.2L786.7 1056.7L787.2 1052.6L787.7 1050.1L788.2 1049.6L788.7 1050.9L789.7 1058.8L791.7 1083.8L792.7 1093.8L793.2 1097.0L793.7 1098.8L794.2 1099.2L794.7 1098.0L795.2 1095.2L796.2 1085.6L798.7 1048.5L799.7 1036.5L802.2 1018.8L804.2 993.0L804.7 987.6L805.2 985.1L805.7 986.4L806.2 991.6L807.2 1011.2L809.7 1069.7L810.7 1086.5L812.2 1102.8L812.7 1106.0L813.7 1110.2L814.2 1111.4L815.2 1112.8L816.2 1113.3L817.2 1113.5L820.7 1113.6L822.7 1113.4L823.7 1113.0L824.2 1112.5L825.2 1110.4L826.2 1105.7L827.2 1096.2L828.7 1069.1L831.2 1002.8L832.2 986.5L832.7 983.9L833.2 985.5L834.2 1000.3L836.7 1066.3L837.7 1087.1L838.2 1094.7L839.2 1104.9L839.7 1107.9L840.7 1111.4L841.7 1112.9L842.7 1113.4L845.2 1113.6L847.7 1113.4L848.7 1113.0L849.7 1111.7L850.7 1108.9L851.7 1103.3L852.2 1099.1L853.2 1087.8L855.2 1060.1L856.2 1051.2L856.7 1049.6L857.2 1050.2L857.7 1053.0L858.2 1057.6L860.7 1091.4L861.7 1101.6L862.7 1107.9L863.2 1109.9L864.2 1112.2L865.2 1113.1L867.2 1113.6L890.2 1113.6L893.2 1113.4L894.2 1113.0L895.2 1112.1L896.2 1109.9L897.2 1105.5L898.2 1097.3L899.2 1084.1L900.2 1065.1L903.2 994.7L904.2 981.7L904.7 979.3L905.2 979.9L905.7 982.9L908.2 1011.6L908.7 1014.4L909.2 1014.8L909.7 1012.9L910.2 1008.8L912.2 985.2L912.7 982.0L913.2 981.3L913.7 983.7L914.7 997.4L917.7 1070.1L918.7 1088.4L919.2 1095.2L920.2 1104.5L921.2 1109.6L921.7 1111.0L922.7 1112.6L923.7 1113.3L925.7 1113.6L937.2 1113.6L940.7 1113.3L942.2 1112.9L943.7 1111.8L944.7 1110.5L945.7 1108.5L947.2 1103.6L948.7 1096.0L950.2 1085.5L953.7 1057.3L954.7 1051.5L955.7 1048.0L956.2 1047.2L956.7 1047.2L957.2 1047.7L957.7 1048.9L960.2 1059.0L961.2 1061.8L961.7 1062.2L962.2 1061.7L962.7 1060.2L963.2 1057.6L964.2 1049.2L966.7 1017.4L967.7 1006.8L968.2 1003.3L968.7 1001.4L969.2 1001.2L969.7 1002.8L970.2 1006.1L971.2 1017.3L974.2 1067.2L975.7 1087.9L977.2 1101.3L978.7 1108.6L979.2 1110.0L980.2 1111.8L981.2 1112.8L982.7 1113.4L985.2 1113.6L994.2 1113.6L996.2 1113.4L997.2 1113.1L998.7 1111.8L999.7 1110.0L1000.7 1107.4L1003.3 1098.3" fill="none" stroke="#4f4f4f" stroke-width="4.0" stroke-linejoin="round"/>
<path d="M72.2 1113.6L80.7 1113.6L81.7 1113.4L82.7 1112.8L83.2 1112.1L83.7 1110.9L84.2 1108.8L85.2 1100.3L86.2 1082.3L87.2 1050.7L89.2 956.1L90.2 917.5L90.7 907.5L91.2 905.5L91.7 911.7L92.2 925.4L94.7 1040.6L95.7 1075.6L96.2 1087.7L97.2 1102.3L97.7 1106.2L98.2 1108.3L98.7 1109.4L99.2 1109.5L99.7 1109.1L100.7 1106.8L101.7 1103.0L102.7 1097.6L104.2 1086.8L107.2 1060.9L108.2 1054.1L109.2 1050.0L109.7 1049.1L110.2 1049.0L110.7 1049.7L111.7 1053.2L113.7 1064.8L114.7 1069.4L115.2 1070.5L115.7 1070.5L116.2 1069.2L117.2 1062.1L118.2 1049.0L121.2 995.8L122.2 986.5L122.7 985.4L123.2 986.9L123.7 990.8L124.7 1005.3L127.2 1058.7L128.7 1085.2L130.2 1101.4L130.7 1104.8L131.7 1109.3L132.2 1110.7L133.2 1112.3L134.2 1113.1L136.2 1113.5L156.7 1113.5L159.2 1112.9L160.2 1112.2L161.2 1111.1L162.2 1109.4L163.2 1106.7L164.2 1103.0L165.2 1097.9L166.7 1087.7L170.2 1058.6L171.2 1052.1L172.2 1048.0L172.7 1047.0L173.2 1046.7L173.7 1047.1L174.2 1048.2L175.2 1052.0L178.2 1068.4L179.2 1071.4L179.7 1071.9L180.2 1071.6L180.7 1070.3L181.2 1068.2L182.2 1061.2L183.2 1050.9L187.7 990.2L188.7 981.8L189.2 979.3L189.7 978.0L190.2 977.9L190.7 979.1L191.2 981.6L192.2 989.9L193.7 1009.0L197.2 1062.2L198.7 1078.2L199.2 1081.4L199.7 1083.4L200.2 1084.0L200.7 1083.2L201.2 1081.3L203.2 1069.2L203.7 1067.7L204.2 1067.7L204.7 1069.2L205.2 1072.3L207.2 1091.3L208.2 1098.5L208.7 1100.5L209.2 1101.5L209.7 1101.5L210.2 1100.7L210.7 1099.1L211.7 1094.5L214.7 1076.0L215.7 1070.9L216.7 1067.7L217.2 1067.0L217.7 1066.8L218.2 1067.3L218.7 1068.3L219.7 1072.1L222.2 1086.7L223.2 1091.6L223.7 1092.7L224.2 1092.4L224.7 1090.2L225.2 1085.8L227.2 1055.2L227.7 1050.5L228.2 1049.8L228.7 1053.2L229.2 1060.3L230.7 1089.7L231.7 1103.8L232.2 1108.0L232.7 1110.6L233.2 1112.1L233.7 1112.9L234.2 1113.3L235.2 1113.5L246.7 1113.6L249.2 1113.4L250.2 1113.0L251.2 1111.8L252.2 1108.5L253.2 1101.2L254.2 1087.6L255.2 1066.3L257.7 999.0L258.2 990.5L258.7 986.0L259.2 985.9L259.7 990.2L260.2 998.5L262.7 1065.7L264.2 1095.0L265.2 1105.3L266.2 1110.4L267.2 1112.5L267.7 1113.0L268.7 1113.3L269.7 1113.0L270.2 1112.4L270.7 1111.3L271.7 1106.4L272.7 1096.1L274.7 1066.0L275.2 1061.4L275.7 1059.8L276.2 1061.6L276.7 1066.4L278.7 1096.6L279.2 1102.3L280.2 1109.5L280.7 1111.4L281.2 1112.5L281.7 1113.0L282.7 1113.5L284.2 1113.4L285.2 1113.0L286.2 1111.9L286.7 1110.8L287.7 1107.0L288.7 1100.1L289.7 1089.7L291.7 1064.0L292.7 1055.7L293.2 1054.2L293.7 1054.7L294.2 1057.2L294.7 1061.5L297.7 1098.0L298.2 1102.3L299.2 1108.3L300.2 1111.4L300.7 1112.3L301.7 1113.2L303.2 1113.5L306.2 1113.5L307.2 1113.1L308.2 1112.2L309.2 1109.9L309.7 1107.9L310.7 1101.5L311.2 1096.7L312.2 1083.8L314.7 1042.4L315.7 1032.6L316.2 1031.2L316.7 1032.4L317.7 1041.8L320.2 1083.1L321.7 1101.1L322.2 1104.9L323.2 1109.7L323.7 1111.2L324.7 1112.7L325.7 1113.3L327.2 1113.6L342.2 1113.5L343.2 1113.4L344.2 1113.0L345.2 1112.0L345.7 1111.1L346.7 1107.9L347.2 1105.4L348.2 1098.1L351.2 1063.5L352.2 1055.7L352.7 1054.2L353.2 1054.5L353.7 1056.6L354.2 1060.3L356.7 1089.5L358.2 1103.3L359.2 1108.6L359.7 1110.2L360.7 1112.2L361.2 1112.8L362.2 1113.3L364.7 1113.6L393.7 1113.6L395.7 1113.4L396.7 1113.0L397.7 1111.8L398.7 1108.9L399.7 1103.1L400.2 1098.7L401.7 1077.8L404.2 1032.0L404.7 1026.1L405.2 1022.8L405.7 1022.2L406.2 1024.5L407.2 1036.5L409.7 1082.8L411.2 1101.5L412.2 1108.0L413.2 1111.3L414.2 1112.8L415.7 1113.5L418.7 1113.6L463.7 1113.6L465.7 1113.4L467.2 1112.7L468.2 1111.3L468.7 1110.1L469.7 1106.0L470.2 1103.0L471.2 1094.7L473.7 1066.8L474.7 1059.3L475.2 1057.7L475.7 1057.8L476.2 1059.7L476.7 1063.0L479.7 1095.5L480.7 1103.6L481.7 1108.7L482.2 1110.3L483.2 1112.3L483.7 1112.8L484.7 1113.3L486.7 1113.6L522.7 1113.6L524.7 1113.5L525.7 1113.3L526.7 1112.6L527.7 1111.1L528.7 1108.0L529.2 1105.6L530.7 1094.2L533.7 1061.6L534.2 1058.3L534.7 1056.6L535.2 1056.6L535.7 1058.2L536.7 1065.8L539.2 1093.9L540.2 1102.4L540.7 1105.5L541.7 1109.8L542.7 1112.0L543.7 1113.0L544.7 1113.4L546.7 1113.6L565.7 1113.6L567.7 1113.2L568.7 1112.5L569.2 1111.7L570.2 1109.0L570.7 1106.7L571.7 1099.9L574.7 1065.9L575.7 1058.6L576.2 1057.6L576.7 1058.4L577.7 1065.3L580.2 1094.7L581.2 1103.4L581.7 1106.5L582.7 1110.5L583.2 1111.6L584.2 1112.9L585.7 1113.5L587.7 1113.6L642.2 1113.6L645.7 1113.4L646.7 1112.9L647.2 1112.5L648.2 1110.8L649.2 1107.3L649.7 1104.5L651.2 1091.5L653.7 1061.3L654.7 1054.1L655.2 1053.0L655.7 1053.7L656.7 1060.4L659.7 1095.7L660.7 1103.9L661.7 1109.0L662.7 1111.6L663.2 1112.4L664.2 1113.2L665.2 1113.5L666.7 1113.6L672.2 1113.4L673.7 1112.7L674.7 1111.6L675.2 1110.7L676.2 1107.9L677.2 1103.2L678.7 1091.8L682.2 1055.7L683.2 1049.6L683.7 1047.9L684.2 1047.3L684.7 1047.4L685.2 1048.2L687.2 1053.5L687.7 1054.2L688.2 1054.5L688.7 1054.4L689.2 1053.8L690.7 1050.8L691.7 1049.6L692.2 1049.6L692.7 1050.3L693.2 1051.6L694.7 1059.5L697.7 1084.7L699.2 1095.7L700.7 1102.8L701.2 1104.1L701.7 1104.8L702.2 1105.0L702.7 1104.5L703.2 1103.4L703.7 1101.7L704.7 1096.3L705.7 1088.5L708.7 1059.3L709.7 1052.5L710.2 1050.5L710.7 1049.6L711.2 1049.7L711.7 1050.8L714.2 1062.6L714.7 1064.0L715.2 1064.6L715.7 1064.1L716.2 1062.6L718.7 1049.6L719.2 1048.5L719.7 1048.6L720.2 1050.0L720.7 1052.3L722.7 1064.3L723.2 1065.8L723.7 1066.2L724.2 1065.5L724.7 1063.7L726.7 1052.4L727.2 1050.5L727.7 1049.6L728.2 1049.8L728.7 1051.3L729.7 1057.9L733.2 1093.4L734.2 1098.9L734.7 1100.0L735.2 1099.9L735.7 1098.6L736.7 1092.3L739.7 1057.9L740.7 1051.4L741.2 1050.7L741.7 1051.8L742.2 1054.5L744.7 1077.7L745.2 1080.6L745.7 1081.8L746.2 1081.3L746.7 1079.1L749.2 1056.2L749.7 1053.2L750.2 1051.9L750.7 1052.4L751.2 1054.9L751.7 1059.2L754.2 1090.8L755.2 1100.9L756.2 1107.4L756.7 1109.5L757.7 1111.9L758.7 1113.0L759.7 1113.4L760.7 1113.6L775.7 1113.6L778.2 1113.4L779.7 1112.7L780.7 1111.3L781.7 1108.3L782.7 1102.7L784.2 1088.2L786.7 1056.7L787.2 1052.6L787.7 1050.1L788.2 1049.6L788.7 1050.9L789.7 1058.8L791.7 1083.8L792.7 1093.8L793.2 1097.0L793.7 1098.9L794.2 1099.2L794.7 1098.1L795.2 1095.4L796.2 1086.1L798.7 1052.1L799.7 1043.9L800.2 1042.7L800.7 1043.6L801.7 1051.3L804.2 1086.3L805.2 1097.7L806.2 1105.4L807.2 1109.9L808.2 1112.1L809.2 1113.1L810.2 1113.4L818.7 1113.6L822.7 1113.4L823.7 1113.0L824.2 1112.5L825.2 1110.5L826.2 1105.8L827.2 1096.4L828.7 1069.7L831.2 1004.1L832.2 988.0L832.7 985.4L833.2 987.0L834.2 1001.6L836.7 1066.9L838.2 1094.9L838.7 1100.7L839.7 1108.0L840.7 1111.5L841.7 1112.9L842.7 1113.4L844.2 1113.6L846.7 1113.5L848.2 1113.2L849.2 1112.5L849.7 1111.7L850.7 1108.9L851.7 1103.3L852.2 1099.1L853.2 1087.8L855.2 1060.1L856.2 1051.2L856.7 1049.6L857.2 1050.2L857.7 1053.0L858.2 1057.6L860.7 1091.4L861.7 1101.6L862.7 1107.9L863.2 1109.9L864.2 1112.2L865.2 1113.1L867.2 1113.6L891.2 1113.6L893.2 1113.4L894.2 1113.1L895.2 1112.2L895.7 1111.4L896.7 1108.7L897.2 1106.5L898.2 1099.5L898.7 1094.6L900.2 1072.8L903.2 1014.9L904.2 1003.8L904.7 1001.6L905.2 1001.8L905.7 1004.2L908.2 1031.5L909.2 1038.7L909.7 1039.9L910.2 1039.7L910.7 1038.2L912.2 1031.4L912.7 1030.2L913.2 1030.3L913.7 1032.0L914.2 1035.3L915.2 1046.5L917.7 1084.3L918.7 1096.0L920.2 1106.9L921.2 1110.5L922.2 1112.3L923.2 1113.1L925.2 1113.6L937.2 1113.6L940.7 1113.3L942.2 1112.9L943.7 1111.8L944.7 1110.5L945.7 1108.5L947.2 1103.6L948.7 1096.0L950.2 1085.5L953.7 1057.3L954.7 1051.5L955.7 1048.0L956.2 1047.2L956.7 1047.2L957.2 1047.7L957.7 1048.9L960.2 1059.1L961.2 1062.0L961.7 1062.4L962.2 1062.0L962.7 1060.6L963.2 1058.1L964.2 1050.1L967.7 1009.4L968.2 1006.0L968.7 1004.1L969.2 1003.8L969.7 1005.2L970.2 1008.3L971.2 1019.0L974.2 1067.6L975.7 1088.0L977.2 1101.4L978.2 1106.7L979.2 1110.0L979.7 1111.1L980.7 1112.4L981.7 1113.1L982.7 1113.4L985.2 1113.6L994.2 1113.6L996.2 1113.4L997.2 1113.1L998.7 1111.8L999.7 1110.0L1000.7 1107.4L1003.3 1098.3" fill="none" stroke="#ef4444" stroke-width="4.7" stroke-linejoin="round"/>
<path d="M72.2 1113.6L80.2 1113.6L82.7 1113.1L83.7 1112.5L84.7 1111.5L88.2 1106.4L89.2 1105.7L89.7 1105.7L90.2 1105.9L91.2 1106.9L93.7 1110.9L94.7 1112.0L95.7 1112.8L97.2 1113.3L99.2 1113.1L103.7 1111.4L107.7 1111.5L110.2 1110.4L111.2 1110.3L112.2 1110.6L114.7 1112.5L115.7 1113.1L118.2 1113.6L165.2 1113.6L168.2 1113.4L169.7 1113.0L171.2 1111.9L172.2 1110.5L173.2 1108.2L174.2 1105.0L175.7 1098.1L178.7 1081.3L180.2 1075.8L180.7 1074.9L181.2 1074.6L181.7 1074.7L182.7 1076.2L184.7 1081.4L185.7 1083.3L186.2 1083.7L186.7 1083.7L187.2 1083.1L188.2 1080.7L189.2 1076.7L192.2 1060.6L193.2 1056.3L194.2 1053.5L194.7 1052.8L195.2 1052.6L195.7 1053.0L196.2 1053.8L196.7 1055.1L197.7 1059.1L199.2 1067.7L202.7 1090.8L204.2 1098.7L205.2 1102.9L206.2 1106.2L207.7 1109.6L209.2 1111.6L210.2 1112.3L211.2 1112.8L213.2 1113.1L218.2 1112.5L223.2 1113.4L227.2 1113.6L245.2 1113.6L247.2 1113.4L248.2 1113.0L249.2 1112.1L249.7 1111.3L250.7 1108.9L251.7 1105.1L254.7 1089.9L255.2 1088.3L255.7 1087.5L256.2 1087.4L256.7 1088.1L257.7 1091.7L260.2 1104.8L261.2 1108.7L261.7 1110.1L262.7 1112.0L263.2 1112.5L264.2 1113.2L265.7 1113.5L267.2 1113.5L268.7 1113.3L269.7 1112.9L270.7 1112.1L271.7 1110.9L274.2 1106.7L275.2 1105.8L275.7 1105.7L276.2 1105.8L277.2 1106.8L280.2 1111.6L281.2 1112.6L282.7 1113.3L284.7 1113.5L287.2 1113.4L288.7 1113.0L291.7 1111.7L293.2 1111.4L294.7 1111.6L297.7 1112.9L299.7 1113.4L304.2 1113.6L307.2 1113.3L308.2 1112.9L309.2 1111.8L310.2 1109.5L310.7 1107.8L312.2 1099.6L314.7 1080.9L315.7 1076.5L316.2 1075.9L316.7 1076.4L317.7 1080.6L320.2 1099.3L321.7 1107.6L322.2 1109.4L323.2 1111.7L323.7 1112.4L324.7 1113.1L325.7 1113.4L327.7 1113.6L345.2 1113.5L347.7 1113.1L351.2 1111.7L352.7 1111.4L354.2 1111.6L358.2 1113.2L360.7 1113.5L393.2 1113.6L396.2 1113.4L397.2 1113.0L397.7 1112.6L398.7 1110.9L399.7 1107.2L400.7 1100.1L402.2 1080.7L404.7 1035.5L405.7 1024.8L406.2 1023.2L406.7 1024.4L407.7 1034.4L410.2 1079.4L411.7 1099.4L412.7 1106.8L413.7 1110.7L414.7 1112.5L415.7 1113.2L416.7 1113.5L525.7 1113.6L527.7 1113.4L529.2 1113.0L530.7 1112.1L533.7 1109.5L534.7 1109.1L535.2 1109.1L536.7 1109.8L539.2 1112.0L540.7 1113.0L542.7 1113.5L545.2 1113.6L740.7 1113.6L744.7 1113.3L748.7 1111.7L750.2 1111.4L751.7 1111.6L755.7 1113.2L759.7 1113.6L794.2 1113.5L796.7 1113.1L800.2 1111.7L801.7 1111.4L803.2 1111.6L807.2 1113.2L810.7 1113.6L894.2 1113.6L896.7 1113.1L897.7 1112.5L898.7 1111.2L900.2 1107.5L902.7 1098.8L903.7 1096.8L904.2 1096.5L904.7 1096.7L905.7 1098.7L908.2 1107.4L909.2 1110.1L910.7 1112.4L911.7 1113.1L912.7 1113.4L916.2 1113.6L1003.3 1113.6" fill="none" stroke="#1d6fe1" stroke-width="4.7" stroke-linejoin="round"/>
<path d="M72.2 1113.6L81.7 1113.6L84.2 1113.1L85.2 1112.6L86.2 1111.7L89.7 1106.5L90.7 1105.7L91.2 1105.7L91.7 1105.8L92.7 1106.8L95.2 1110.8L96.2 1112.0L97.2 1112.8L98.2 1113.2L100.7 1113.6L108.7 1113.6L112.2 1113.5L113.7 1113.2L115.2 1112.2L116.2 1110.9L117.2 1108.8L120.2 1100.3L121.2 1098.9L121.7 1098.8L122.2 1099.2L123.2 1101.0L125.7 1108.3L127.2 1111.4L128.2 1112.6L129.2 1113.2L130.2 1113.4L132.2 1113.6L164.2 1113.6L166.7 1113.4L171.7 1112.5L173.2 1112.6L177.7 1113.5L182.2 1113.5L183.7 1113.2L185.2 1112.4L188.7 1108.7L189.7 1108.0L190.2 1107.9L190.7 1108.0L191.7 1108.6L194.7 1111.8L196.2 1112.7L197.2 1112.9L198.2 1112.7L201.2 1110.8L202.7 1110.2L204.2 1110.7L207.7 1112.9L208.7 1113.2L209.7 1113.2L210.7 1112.9L211.2 1112.5L212.2 1111.1L213.2 1108.8L215.2 1103.0L216.2 1101.2L216.7 1101.1L217.2 1101.4L217.7 1102.3L220.2 1109.4L221.7 1112.2L223.2 1113.3L225.7 1113.6L248.2 1113.5L250.2 1113.3L254.2 1112.2L255.7 1112.1L257.2 1112.3L261.2 1113.4L265.2 1113.6L465.7 1113.6L468.2 1113.3L469.7 1112.8L471.2 1111.6L473.7 1108.8L474.7 1108.1L475.2 1108.0L475.7 1108.0L476.7 1108.5L479.7 1111.7L481.2 1112.8L482.7 1113.4L485.2 1113.6L567.7 1113.5L569.2 1113.4L570.7 1112.9L572.2 1111.9L574.7 1109.7L576.2 1109.1L577.7 1109.6L580.2 1111.8L581.7 1112.8L583.2 1113.3L585.7 1113.6L646.7 1113.6L649.7 1113.2L653.7 1111.7L655.2 1111.4L656.7 1111.6L660.7 1113.2L664.7 1113.6L684.7 1113.5L686.7 1113.2L690.2 1111.7L691.7 1111.4L693.2 1111.6L697.2 1113.2L700.7 1113.6L795.7 1113.5L796.7 1113.3L797.7 1112.7L798.7 1111.3L799.7 1108.2L800.7 1102.3L802.2 1086.2L804.7 1047.4L805.7 1037.0L806.2 1034.9L806.7 1035.0L807.2 1037.5L807.7 1042.0L810.7 1087.1L812.2 1102.8L812.7 1106.1L813.7 1110.2L814.7 1112.3L815.2 1112.8L816.2 1113.3L819.7 1113.6L900.2 1113.6L903.2 1113.5L904.7 1113.2L905.7 1112.5L906.7 1111.0L907.7 1107.8L908.2 1105.4L909.7 1094.4L911.7 1075.4L912.7 1069.2L913.2 1068.0L913.7 1068.1L914.2 1069.8L914.7 1072.7L917.2 1095.6L918.7 1106.1L919.2 1108.3L920.2 1111.3L920.7 1112.1L921.7 1113.1L922.7 1113.4L924.7 1113.6L959.2 1113.6L962.7 1113.3L966.2 1112.3L967.7 1112.1L969.2 1112.2L973.2 1113.3L975.7 1113.6L1003.3 1113.6" fill="none" stroke="#3aad69" stroke-width="4.7" stroke-linejoin="round"/>
<path d="M1139.9 262.6L1140.9 258.4L1141.4 254.8L1142.4 244.4L1144.4 219.1L1144.9 215.0L1145.4 213.0L1145.9 213.2L1146.4 215.7L1146.9 220.2L1149.4 254.9L1150.4 265.4L1151.4 271.8L1151.9 273.7L1152.9 275.9L1153.4 276.5L1154.4 277.0L1155.9 277.0L1156.9 276.7L1157.4 276.2L1157.9 275.4L1158.4 273.9L1158.9 271.3L1159.9 261.2L1161.9 223.4L1162.4 216.3L1162.9 212.9L1163.4 213.9L1163.9 218.8L1165.4 241.7L1165.9 247.1L1166.4 249.8L1166.9 249.8L1167.4 247.5L1167.9 243.1L1168.9 229.9L1171.9 175.1L1172.9 160.0L1173.9 150.7L1174.4 148.8L1174.9 148.8L1175.4 150.8L1175.9 154.6L1176.9 166.7L1178.9 198.7L1179.9 211.7L1180.4 216.0L1180.9 218.5L1181.4 218.6L1181.9 216.4L1182.4 211.5L1183.4 194.1L1186.9 91.5L1187.9 73.0L1188.4 69.0L1188.9 69.0L1189.4 72.9L1190.4 91.8L1193.9 205.5L1194.9 231.2L1195.9 249.9L1196.9 262.2L1197.4 266.3L1198.4 271.9L1198.9 273.6L1199.9 275.6L1200.9 276.6L1202.4 277.1L1208.9 277.2L1211.4 276.8L1212.4 276.2L1212.9 275.6L1213.9 273.5L1214.4 271.8L1215.4 266.5L1215.9 262.8L1216.9 253.0L1219.4 222.4L1220.4 214.6L1220.9 212.9L1221.4 213.0L1221.9 214.8L1222.4 218.1L1224.9 245.5L1225.9 253.9L1226.4 256.2L1226.9 257.2L1227.4 256.6L1227.9 254.6L1228.9 246.7L1231.4 217.4L1232.4 209.7L1232.9 207.9L1233.4 207.4L1233.9 208.0L1234.9 210.7L1235.4 211.4L1235.9 211.0L1236.4 208.7L1237.4 197.3L1239.9 151.2L1240.4 147.0L1240.9 146.8L1241.4 150.7L1241.9 158.6L1244.4 226.2L1245.9 257.2L1246.9 268.2L1247.9 273.7L1248.9 276.0L1249.4 276.5L1250.4 276.9L1251.4 276.7L1252.4 275.9L1253.4 273.7L1254.4 268.7L1255.4 259.2L1256.9 233.3L1259.4 174.9L1259.9 167.1L1260.4 162.4L1260.9 161.3L1261.4 163.9L1262.4 178.8L1265.4 246.0L1266.4 258.8L1266.9 262.5L1267.4 264.6L1267.9 265.3L1268.4 264.8L1269.4 260.7L1270.9 249.2L1273.9 220.2L1274.9 214.4L1275.4 213.0L1275.9 212.9L1276.4 213.9L1276.9 216.0L1277.9 223.1L1280.4 248.0L1281.9 260.5L1282.9 266.1L1283.4 268.0L1283.9 269.1L1284.4 269.5L1284.9 269.0L1285.4 267.7L1285.9 265.4L1286.4 262.0L1287.4 252.4L1289.9 221.2L1290.4 217.1L1290.9 214.6L1291.4 213.9L1291.9 215.3L1292.9 223.3L1295.9 260.4L1296.9 268.3L1297.9 273.1L1298.9 275.5L1299.4 276.2L1300.4 276.8L1302.4 277.2L1310.4 277.2L1312.9 276.8L1313.9 276.2L1314.4 275.5L1315.4 273.3L1316.4 268.9L1317.9 256.7L1320.9 220.0L1321.9 213.1L1322.4 212.0L1322.9 212.6L1323.4 214.8L1325.9 234.9L1326.4 237.6L1326.9 239.1L1327.4 239.2L1327.9 238.0L1328.4 235.6L1330.9 216.6L1331.9 211.4L1332.4 210.0L1332.9 209.5L1333.4 209.6L1334.9 211.7L1335.4 212.3L1335.9 212.4L1336.4 212.2L1336.9 211.4L1338.4 208.1L1338.9 207.3L1339.4 207.1L1339.9 207.4L1340.4 208.4L1342.4 215.4L1342.9 216.3L1343.4 216.1L1343.9 214.6L1344.4 211.5L1345.4 200.7L1347.9 164.7L1348.4 160.7L1348.9 159.0L1349.4 159.9L1349.9 163.4L1350.4 169.4L1353.9 239.7L1355.4 260.7L1356.4 268.7L1357.4 273.3L1357.9 274.6L1358.9 276.2L1360.4 277.0L1363.4 277.1L1364.4 277.0L1365.4 276.4L1366.4 274.8L1367.4 271.3L1368.4 264.6L1368.9 259.7L1371.9 220.2L1372.4 216.3L1372.9 214.4L1373.4 214.8L1373.9 217.5L1374.4 222.1L1376.9 256.0L1377.9 266.0L1378.9 272.1L1379.9 275.2L1380.4 276.0L1381.4 276.8L1382.4 276.9L1383.4 276.3L1384.4 274.7L1385.4 270.8L1386.4 263.2L1386.9 257.7L1389.4 222.3L1389.9 217.5L1390.4 214.7L1390.9 214.5L1391.4 216.7L1391.9 221.2L1394.9 262.2L1395.9 270.2L1396.9 274.4L1397.9 276.3L1398.4 276.7L1399.4 277.1L1406.4 277.1L1407.9 276.8L1408.9 276.2L1409.9 274.6L1410.4 273.3L1411.4 268.9L1411.9 265.6L1412.9 256.6L1415.9 220.4L1416.4 216.6L1416.9 214.4L1417.4 214.0L1417.9 215.5L1418.9 223.4L1421.4 254.4L1422.9 267.7L1423.4 270.5L1424.4 274.2L1425.4 276.0L1426.4 276.8L1427.4 277.1L1428.9 277.2L1439.9 277.1L1440.9 276.9L1441.9 276.4L1442.9 274.9L1443.9 271.6L1444.9 265.4L1445.9 255.4L1448.4 222.2L1448.9 217.7L1449.4 214.9L1449.9 214.3L1450.4 215.9L1450.9 219.5L1453.9 257.9L1455.4 270.2L1456.4 274.2L1456.9 275.4L1457.9 276.6L1458.9 277.0L1460.9 277.1L1461.9 276.8L1462.9 276.0L1463.9 273.9L1464.4 272.2L1465.4 266.3L1466.4 256.7L1468.9 223.5L1469.9 215.4L1470.4 214.3L1470.9 215.3L1471.9 223.4L1474.4 256.6L1475.4 266.2L1475.9 269.6L1476.9 273.9L1477.4 275.2L1478.4 276.5L1479.9 277.1L1482.4 277.2L1553.4 277.2L1555.9 277.1L1557.4 276.9L1558.9 275.9L1559.9 274.4L1560.9 271.5L1561.9 266.7L1563.4 254.7L1566.4 221.7L1567.4 214.7L1567.9 213.1L1568.4 212.9L1568.9 214.2L1569.9 220.7L1572.9 253.3L1573.9 261.7L1574.9 266.8L1575.4 267.9L1575.9 268.2L1576.4 267.4L1576.9 265.5L1577.9 258.7L1581.4 218.2L1581.9 214.8L1582.4 213.0L1582.9 213.0L1583.4 214.9L1584.4 223.4L1586.9 254.7L1588.4 267.8L1588.9 270.5L1589.9 274.2L1590.9 276.0L1591.9 276.7L1593.4 277.1L1596.4 277.2L1709.9 277.2L1713.4 277.1L1714.9 276.4L1715.9 275.2L1716.9 272.4L1717.9 267.0L1719.4 252.0L1722.4 208.3L1722.9 203.8L1723.4 201.2L1723.9 200.7L1724.4 202.5L1725.4 212.0L1727.9 249.3L1728.9 261.0L1729.4 265.4L1730.4 271.4L1731.4 274.7L1732.4 276.2L1733.4 276.9L1735.4 277.2L1757.4 277.2L1759.9 276.9L1760.9 276.3L1761.4 275.7L1762.4 273.5L1762.9 271.6L1763.9 265.6L1764.9 256.2L1767.4 224.2L1768.4 215.9L1768.9 214.3L1769.4 214.8L1769.9 217.2L1770.4 221.4L1773.4 258.7L1774.9 270.3L1775.9 274.1L1776.4 275.3L1777.4 276.5L1778.4 276.9L1779.9 276.8L1780.9 276.4L1781.9 275.5L1782.9 273.8L1783.9 271.0L1785.4 263.6L1786.9 251.8L1789.9 222.0L1790.9 215.3L1791.4 213.5L1791.9 212.8L1792.4 213.3L1792.9 214.9L1793.9 221.2L1796.9 250.9L1798.4 263.0L1799.9 270.4L1800.9 272.9L1801.4 273.5L1801.9 273.5L1802.4 273.0L1802.9 271.9L1803.4 270.1L1804.4 264.0L1805.4 254.4L1807.9 222.7L1808.9 214.5L1809.4 212.9L1809.9 213.1L1810.4 215.3L1810.9 219.1L1813.4 248.7L1814.4 257.2L1814.9 259.5L1815.4 260.2L1815.9 259.3L1816.4 256.6L1817.4 245.9L1818.4 227.9L1822.4 120.4L1823.4 105.7L1823.9 103.3L1824.4 104.3L1824.9 108.7L1825.4 116.1L1828.4 190.5L1829.4 209.2L1829.9 215.0L1830.4 218.4L1830.9 219.6L1831.4 219.0L1832.9 212.9L1833.4 211.7L1833.9 211.8L1834.4 213.5L1835.4 221.9L1837.9 255.1L1838.9 265.1L1839.4 268.7L1840.4 273.4L1841.4 275.7L1841.9 276.3L1842.9 276.9L1845.9 277.2L1872.9 277.2L1874.9 276.8L1875.9 276.1L1876.4 275.5L1877.4 273.0L1877.9 271.0L1878.9 264.7L1879.9 255.1L1882.4 223.7L1883.4 215.7L1883.9 214.3L1884.4 214.8L1884.9 217.2L1885.4 221.3L1888.4 258.0L1889.4 266.7L1890.4 272.1L1891.4 275.0L1891.9 275.9L1892.9 276.7L1894.4 277.1L1896.4 277.0L1897.4 276.6L1898.4 275.5L1899.4 272.9L1900.4 267.7L1901.4 258.4L1901.9 251.7L1902.9 233.6L1905.9 163.3L1906.4 156.2L1906.9 152.2L1907.4 151.3L1907.9 153.3L1908.4 157.5L1910.9 185.1L1913.9 207.2L1917.9 251.6L1918.9 259.7L1919.4 262.4L1919.9 263.8L1920.4 263.6L1920.9 261.6L1921.4 257.6L1923.9 219.8L1924.4 215.4L1924.9 214.4L1925.4 217.0L1925.9 222.9L1927.9 257.4L1928.9 268.9L1929.9 274.4L1930.4 275.6L1930.9 276.3L1931.4 276.5L1931.9 276.4L1932.4 275.9L1933.4 274.0L1934.4 269.8L1934.9 266.4L1936.4 250.6L1938.4 221.5L1939.4 210.2L1940.4 204.1L1940.9 202.9L1942.4 201.5L1942.9 200.2L1943.4 197.8L1944.4 189.4L1946.9 160.9L1947.4 157.5L1947.9 155.8L1948.4 156.0L1948.9 158.1L1949.9 168.0L1953.4 230.1L1954.4 245.4L1955.4 257.2L1956.4 265.4L1956.9 268.4L1957.9 272.5L1958.4 273.9L1959.4 275.6L1960.9 276.7L1962.4 277.1L1964.9 277.2L2001.4 277.2L2002.4 277.0L2003.4 276.7L2004.4 275.7L2004.9 274.7L2005.9 270.9L2006.4 267.6L2007.4 257.3L2007.9 249.7L2008.9 229.5L2011.4 165.4L2012.4 150.0L2012.9 147.5L2013.4 149.0L2013.9 154.1L2014.4 162.6L2016.9 226.3L2018.4 255.4L2018.9 261.7L2019.9 270.1L2020.9 274.3L2021.9 276.2L2022.4 276.6L2023.4 277.0L2025.4 277.1L2026.9 276.8L2027.9 276.0L2028.9 273.7L2029.4 271.6L2030.4 264.3L2031.9 241.8L2034.9 166.0L2035.9 151.7L2036.4 150.2L2036.9 152.8L2037.9 169.0L2040.4 234.0L2041.4 253.3L2041.9 260.3L2042.9 269.5L2043.4 272.3L2044.4 275.4L2045.4 276.6L2046.9 277.1L2058.4 277.2L2059.9 277.0L2060.9 276.5L2061.9 275.4L2062.4 274.3L2063.4 270.6L2063.9 267.6L2064.9 258.7L2065.9 245.7L2067.9 212.9L2068.9 200.4L2069.4 197.0L2069.9 195.8L2070.4 197.0L2071.2 203.6" fill="none" stroke="#4f4f4f" stroke-width="4.0" stroke-linejoin="round"/>
<path d="M1139.9 263.1L1140.9 259.2L1141.4 255.9L1142.4 246.0L1144.4 221.7L1144.9 217.7L1145.4 215.6L1145.9 215.8L1146.4 218.1L1146.9 222.4L1149.4 255.8L1150.4 265.9L1151.4 272.1L1152.4 275.2L1152.9 276.0L1153.9 276.8L1155.4 277.1L1156.9 277.0L1157.4 276.7L1157.9 276.0L1158.4 274.7L1158.9 272.4L1159.9 263.0L1161.9 226.8L1162.4 219.9L1162.9 216.7L1163.4 217.8L1163.9 222.6L1165.4 244.8L1165.9 249.8L1166.4 252.2L1166.9 252.0L1167.4 249.4L1167.9 244.9L1168.9 231.7L1171.9 179.2L1172.9 164.7L1173.9 155.7L1174.4 153.7L1174.9 153.6L1175.4 155.2L1175.9 158.6L1176.9 169.7L1179.9 212.4L1180.4 216.6L1180.9 219.0L1181.4 219.2L1181.9 217.0L1182.4 212.4L1183.4 195.7L1186.9 98.4L1187.9 81.0L1188.4 77.3L1188.9 77.3L1189.4 81.0L1190.4 98.8L1193.9 207.1L1194.9 232.0L1195.9 250.2L1196.9 262.3L1197.4 266.4L1198.4 271.9L1198.9 273.6L1199.9 275.6L1200.9 276.6L1202.4 277.1L1208.9 277.2L1211.4 276.9L1212.4 276.4L1212.9 275.9L1213.9 274.2L1214.4 272.8L1215.4 268.6L1216.4 262.0L1219.4 233.0L1220.4 226.4L1220.9 224.8L1221.4 224.7L1221.9 225.9L1222.4 228.4L1224.9 250.0L1225.9 256.5L1226.4 258.1L1226.9 258.5L1227.4 257.5L1227.9 255.2L1228.9 246.9L1231.4 217.4L1232.4 209.7L1232.9 207.9L1233.4 207.4L1233.9 208.0L1234.9 210.8L1235.4 211.6L1235.9 211.2L1236.4 209.0L1237.4 197.9L1239.9 152.5L1240.4 148.5L1240.9 148.3L1241.4 152.2L1241.9 160.1L1244.4 227.1L1245.9 257.6L1246.9 268.4L1247.9 273.8L1248.9 276.1L1249.4 276.6L1250.4 276.9L1251.4 276.8L1252.4 276.1L1253.4 274.0L1254.4 269.5L1255.4 260.5L1256.9 235.9L1259.4 178.9L1259.9 171.1L1260.4 166.4L1260.9 165.1L1261.4 167.4L1262.4 181.5L1265.4 246.6L1266.4 259.1L1266.9 262.8L1267.4 264.8L1267.9 265.6L1268.4 265.1L1269.4 261.4L1270.4 254.9L1273.9 226.1L1274.9 221.3L1275.4 220.2L1275.9 220.1L1276.4 220.9L1276.9 222.6L1277.9 228.5L1280.9 254.0L1282.4 264.1L1283.4 268.2L1283.9 269.3L1284.4 269.6L1284.9 269.2L1285.4 267.8L1285.9 265.6L1286.4 262.3L1287.4 252.8L1289.9 222.5L1290.4 218.4L1290.9 216.0L1291.4 215.5L1291.9 216.8L1292.9 224.7L1295.9 260.9L1296.9 268.6L1297.9 273.2L1298.9 275.6L1299.4 276.2L1300.4 276.9L1302.4 277.2L1310.9 277.2L1312.9 277.0L1314.4 276.1L1315.4 274.6L1316.4 271.6L1317.9 263.1L1320.9 236.3L1321.9 230.6L1322.4 229.3L1322.9 229.3L1323.4 230.3L1325.9 241.9L1326.4 243.0L1326.9 243.2L1327.4 242.2L1328.4 237.1L1330.9 216.8L1331.9 211.5L1332.4 210.2L1332.9 209.7L1333.4 209.8L1335.4 213.2L1335.9 213.6L1336.4 213.6L1336.9 213.2L1338.4 210.5L1338.9 209.9L1339.4 209.6L1339.9 209.9L1340.4 210.9L1342.4 217.3L1342.9 218.1L1343.4 217.9L1343.9 216.4L1344.4 213.4L1345.4 202.9L1347.9 167.5L1348.4 163.5L1348.9 161.7L1349.4 162.4L1349.9 165.7L1350.4 171.4L1351.4 188.6L1353.9 240.0L1355.4 260.8L1356.4 268.8L1357.4 273.3L1357.9 274.6L1358.9 276.2L1360.4 277.0L1363.4 277.1L1364.4 277.0L1365.4 276.4L1366.4 274.8L1367.4 271.3L1368.4 264.6L1368.9 259.7L1371.9 220.2L1372.4 216.3L1372.9 214.4L1373.4 214.8L1373.9 217.5L1374.4 222.1L1376.9 256.0L1377.9 266.0L1378.4 269.5L1379.4 274.0L1379.9 275.2L1380.9 276.5L1381.4 276.8L1382.4 276.9L1383.4 276.3L1383.9 275.7L1384.9 273.1L1385.4 270.8L1386.4 263.2L1386.9 257.7L1389.4 222.3L1389.9 217.5L1390.4 214.7L1390.9 214.5L1391.4 216.7L1391.9 221.2L1394.4 256.5L1395.4 266.8L1396.4 272.7L1396.9 274.4L1397.9 276.3L1398.9 276.9L1399.9 277.1L1405.4 277.2L1407.4 277.0L1408.9 276.2L1409.9 274.7L1410.4 273.5L1411.4 269.2L1412.4 262.1L1415.9 221.9L1416.4 218.1L1416.9 215.9L1417.4 215.5L1417.9 216.9L1418.9 224.5L1421.4 254.8L1422.4 264.3L1423.4 270.6L1424.4 274.2L1424.9 275.3L1425.9 276.5L1426.9 277.0L1427.9 277.1L1439.4 277.2L1440.9 276.9L1441.9 276.4L1442.9 274.9L1443.4 273.6L1444.4 268.9L1444.9 265.4L1445.9 255.4L1448.4 222.2L1448.9 217.7L1449.4 214.9L1449.9 214.3L1450.4 215.9L1450.9 219.5L1453.9 257.9L1455.4 270.2L1456.4 274.2L1457.4 276.1L1458.4 276.8L1459.4 277.1L1460.9 277.1L1461.9 276.8L1462.9 276.0L1463.9 273.9L1464.9 269.7L1465.4 266.3L1466.4 256.7L1468.9 223.5L1469.9 215.4L1470.4 214.3L1470.9 215.3L1471.9 223.4L1474.4 256.6L1475.4 266.2L1475.9 269.6L1476.9 273.9L1477.9 276.0L1478.4 276.5L1479.4 277.0L1482.9 277.2L1553.9 277.2L1556.9 277.0L1558.4 276.4L1559.4 275.3L1560.4 273.3L1561.9 267.0L1563.4 255.7L1566.4 224.8L1567.4 218.3L1567.9 216.8L1568.4 216.7L1568.9 217.8L1569.9 223.9L1572.9 254.3L1573.9 262.3L1574.9 267.2L1575.4 268.4L1575.9 268.7L1576.4 268.0L1576.9 266.4L1577.9 260.3L1581.4 223.8L1581.9 220.7L1582.4 219.0L1582.9 219.1L1583.4 220.8L1584.4 228.4L1586.9 256.7L1588.4 268.6L1588.9 271.1L1589.9 274.4L1590.9 276.1L1591.9 276.8L1593.4 277.1L1596.4 277.2L1709.9 277.2L1713.4 277.1L1714.9 276.4L1715.9 275.2L1716.9 272.4L1717.9 267.0L1719.4 252.2L1722.4 209.8L1722.9 205.5L1723.4 203.2L1723.9 203.0L1724.4 205.1L1725.4 214.8L1727.9 251.3L1728.9 262.4L1729.4 266.5L1730.4 272.1L1731.4 275.0L1732.4 276.4L1733.4 276.9L1735.4 277.2L1757.9 277.2L1759.9 276.9L1760.9 276.3L1761.4 275.7L1762.4 273.5L1762.9 271.6L1763.9 265.6L1764.9 256.2L1767.4 224.2L1768.4 215.9L1768.9 214.3L1769.4 214.8L1769.9 217.2L1770.4 221.4L1772.9 253.1L1773.9 263.5L1774.9 270.3L1775.4 272.5L1776.4 275.3L1777.4 276.5L1778.4 276.9L1779.9 276.8L1780.9 276.4L1782.4 274.8L1783.9 271.1L1785.4 263.9L1786.4 256.8L1789.4 229.0L1790.4 221.5L1791.4 217.2L1791.9 216.6L1792.4 217.0L1792.9 218.5L1793.9 224.2L1797.4 256.0L1798.9 266.2L1799.4 268.6L1800.4 272.0L1800.9 273.0L1801.4 273.5L1801.9 273.6L1802.4 273.1L1802.9 272.0L1803.4 270.2L1804.4 264.3L1805.4 255.0L1807.9 224.0L1808.9 216.0L1809.4 214.4L1809.9 214.7L1810.4 216.8L1810.9 220.5L1813.4 249.3L1814.4 257.6L1814.9 259.8L1815.4 260.4L1815.9 259.4L1816.4 256.7L1817.4 245.9L1818.4 227.9L1822.4 120.4L1823.4 105.7L1823.9 103.3L1824.4 104.3L1824.9 108.7L1825.4 116.1L1828.4 190.5L1829.4 209.2L1829.9 215.0L1830.4 218.4L1830.9 219.6L1831.4 219.0L1832.9 212.9L1833.4 211.7L1833.9 211.8L1834.4 213.5L1835.4 221.9L1837.9 255.1L1838.9 265.1L1839.4 268.7L1840.4 273.4L1841.4 275.7L1841.9 276.3L1842.9 276.9L1845.9 277.2L1872.9 277.2L1874.9 276.8L1875.9 276.1L1876.4 275.5L1877.4 273.0L1877.9 271.0L1878.9 264.7L1879.9 255.1L1882.4 223.7L1883.4 215.7L1883.9 214.3L1884.4 214.8L1884.9 217.2L1885.4 221.3L1887.9 252.4L1888.9 262.8L1889.9 269.8L1890.9 273.8L1891.9 275.9L1892.9 276.7L1893.9 277.1L1896.9 277.2L1899.9 277.0L1901.4 276.6L1902.4 275.8L1903.4 274.3L1904.4 271.6L1905.9 264.3L1907.4 251.8L1910.9 213.9L1911.9 207.7L1912.4 206.4L1912.9 206.4L1913.4 207.7L1914.4 213.9L1917.9 251.6L1918.9 259.7L1919.4 262.4L1919.9 263.8L1920.4 263.6L1920.9 261.6L1921.4 257.6L1923.9 219.8L1924.4 215.4L1924.9 214.4L1925.4 217.0L1925.9 222.9L1927.9 257.4L1928.9 268.9L1929.4 272.2L1929.9 274.4L1930.4 275.6L1930.9 276.3L1931.4 276.5L1931.9 276.4L1932.4 275.9L1933.4 274.0L1933.9 272.2L1934.9 266.4L1935.4 262.1L1936.4 250.6L1938.4 221.5L1939.4 210.2L1940.4 204.1L1940.9 202.9L1942.4 201.7L1942.9 200.4L1943.4 198.1L1944.4 189.9L1946.9 161.9L1947.4 158.5L1947.9 156.9L1948.4 157.1L1948.9 159.2L1949.9 168.9L1953.9 238.3L1955.4 257.2L1956.4 265.5L1956.9 268.4L1957.9 272.5L1958.4 273.9L1959.4 275.6L1960.9 276.7L1962.4 277.1L1964.9 277.2L2001.4 277.2L2003.4 276.9L2004.4 276.3L2004.9 275.7L2005.9 273.4L2006.4 271.4L2007.4 265.0L2007.9 260.3L2008.9 247.6L2011.4 207.3L2012.4 197.5L2012.9 196.0L2013.4 196.9L2013.9 200.2L2014.4 205.5L2017.4 252.7L2018.4 263.8L2019.4 270.7L2020.4 274.4L2020.9 275.5L2021.9 276.6L2023.4 277.1L2025.9 277.1L2026.9 276.8L2027.9 276.0L2028.9 273.7L2029.4 271.6L2030.4 264.3L2030.9 258.6L2032.4 230.7L2034.9 166.0L2035.9 151.7L2036.4 150.2L2036.9 152.8L2037.9 169.0L2040.4 234.0L2041.4 253.3L2041.9 260.3L2042.9 269.5L2043.4 272.3L2044.4 275.4L2045.4 276.6L2046.9 277.1L2058.4 277.2L2059.9 277.0L2060.9 276.6L2061.9 275.5L2062.4 274.4L2063.4 270.8L2063.9 268.0L2064.9 259.5L2065.9 247.0L2067.9 215.6L2068.9 203.7L2069.4 200.3L2069.9 199.2L2070.4 200.4L2071.2 206.7" fill="none" stroke="#ef4444" stroke-width="4.7" stroke-linejoin="round"/>
<path d="M1139.9 276.8L1143.9 275.2L1145.4 275.0L1146.4 275.2L1149.4 276.4L1151.4 277.0L1153.9 277.2L1156.4 277.0L1158.4 276.5L1161.9 274.3L1163.4 273.8L1164.9 274.2L1167.4 275.5L1168.4 275.6L1169.9 275.1L1172.9 272.9L1173.9 272.7L1175.4 273.3L1178.9 276.2L1180.4 276.7L1181.4 276.7L1182.4 276.3L1183.4 275.4L1184.4 274.1L1187.4 268.9L1188.4 268.1L1188.9 268.1L1189.4 268.4L1190.4 269.6L1192.9 274.0L1193.9 275.4L1194.9 276.3L1195.9 276.8L1198.9 277.2L1211.9 277.1L1213.9 276.6L1215.4 275.3L1216.4 273.9L1219.4 268.0L1220.4 267.0L1220.9 267.0L1221.4 267.2L1222.4 268.5L1224.9 273.5L1225.9 275.1L1227.4 276.5L1229.4 277.1L1232.4 277.2L1235.4 277.0L1239.9 275.8L1241.4 275.7L1242.9 275.9L1247.4 277.0L1249.9 277.2L1252.4 277.0L1254.4 276.5L1258.4 273.7L1259.9 273.4L1261.4 274.0L1264.9 276.4L1266.4 276.9L1268.4 276.9L1269.4 276.6L1270.4 276.0L1271.4 275.0L1274.4 271.1L1275.4 270.4L1275.9 270.4L1276.4 270.6L1277.4 271.5L1279.9 274.8L1280.9 275.9L1281.9 276.5L1283.4 277.0L1286.4 276.9L1290.4 275.8L1291.9 275.7L1293.4 275.9L1296.9 276.9L1298.9 277.1L1312.4 277.1L1313.9 276.9L1314.9 276.4L1316.4 274.7L1317.9 271.3L1320.4 263.5L1321.4 261.6L1321.9 261.2L1322.4 261.4L1323.4 263.0L1325.9 270.8L1327.4 274.5L1328.9 276.3L1329.9 276.8L1331.4 277.1L1332.9 277.0L1334.4 276.7L1338.9 275.0L1339.9 275.0L1343.4 275.6L1344.4 275.4L1346.9 274.4L1347.9 274.3L1349.4 274.7L1353.4 276.7L1354.9 277.0L1357.4 277.2L1408.4 277.2L1411.4 276.9L1414.9 275.9L1416.4 275.7L1417.9 275.8L1422.4 277.0L1425.9 277.2L1558.9 277.2L1561.4 277.0L1562.9 276.6L1566.4 274.4L1567.9 273.8L1569.4 274.1L1573.4 276.5L1574.9 276.8L1575.9 276.7L1576.9 276.4L1577.9 275.7L1580.9 272.5L1581.9 271.7L1582.4 271.6L1582.9 271.6L1583.9 272.0L1586.9 275.3L1588.4 276.4L1589.9 277.0L1592.4 277.2L1716.4 277.2L1719.9 276.8L1721.4 276.1L1723.9 274.7L1725.4 274.3L1726.9 274.6L1730.9 276.7L1732.4 277.0L1734.9 277.2L1783.9 277.2L1786.9 276.7L1790.4 275.3L1791.9 275.0L1793.4 275.2L1797.4 276.8L1800.4 277.2L1803.9 277.0L1809.4 275.7L1810.9 275.8L1814.9 276.9L1818.4 277.2L1895.9 277.1L1896.9 276.9L1897.9 276.2L1898.9 274.5L1899.9 271.0L1900.9 264.5L1902.4 247.2L1904.9 207.9L1905.9 198.6L1906.4 197.1L1906.9 198.0L1907.9 206.4L1910.4 245.3L1911.9 263.4L1912.4 267.4L1913.4 272.6L1914.4 275.3L1914.9 276.0L1915.9 276.8L1916.9 277.1L1918.9 277.2L1939.9 277.2L1942.9 277.0L1946.9 276.2L1948.4 276.1L1953.4 277.0L1956.9 277.2L2000.4 277.2L2002.4 277.1L2003.9 276.8L2004.9 276.2L2005.9 274.8L2006.9 271.9L2007.4 269.8L2008.9 259.7L2011.4 236.7L2012.4 231.2L2012.9 230.3L2013.4 230.8L2014.4 235.7L2016.9 258.5L2018.4 269.1L2018.9 271.4L2019.9 274.5L2020.4 275.4L2021.4 276.5L2022.9 277.1L2024.9 277.2L2061.4 277.2L2063.4 276.9L2064.9 276.4L2068.9 274.0L2069.9 273.8L2071.2 274.1" fill="none" stroke="#0b800b" stroke-width="4.7" stroke-linejoin="round"/>
<path d="M1139.9 541.7L1140.9 538.9L1141.9 532.6L1142.9 522.3L1144.9 497.4L1145.9 488.9L1146.4 486.5L1146.9 485.3L1147.4 484.9L1148.4 484.9L1148.9 484.1L1149.4 482.3L1149.9 479.0L1150.4 474.1L1151.9 450.1L1155.4 376.4L1156.4 362.5L1156.9 358.4L1157.4 356.5L1157.9 357.1L1158.4 360.5L1159.4 375.3L1160.4 399.1L1162.9 470.8L1164.4 504.7L1165.9 527.2L1166.9 536.2L1167.9 540.9L1168.4 541.8L1168.9 541.6L1169.4 540.6L1170.4 535.8L1171.4 528.0L1174.4 499.2L1175.4 493.7L1175.9 492.7L1176.4 492.8L1176.9 494.2L1177.9 500.3L1180.9 530.5L1181.9 538.9L1182.9 544.3L1183.4 545.6L1183.9 545.5L1184.4 544.0L1184.9 540.7L1185.4 535.5L1187.9 496.8L1188.4 493.1L1188.9 492.9L1189.4 496.3L1189.9 502.6L1191.9 536.8L1192.9 547.9L1193.4 551.2L1193.9 553.3L1194.4 554.6L1194.9 555.1L1195.4 555.2L1195.9 554.9L1196.4 554.1L1197.4 550.9L1197.9 548.2L1198.9 539.8L1199.4 533.9L1200.4 518.3L1202.9 469.2L1203.9 457.4L1204.4 455.5L1204.9 456.7L1205.9 467.8L1208.9 527.3L1210.4 545.7L1211.4 551.6L1211.9 553.1L1212.4 554.0L1212.9 554.4L1213.4 554.3L1213.9 553.9L1214.9 552.1L1216.4 547.0L1217.9 538.3L1219.4 526.1L1222.4 497.1L1223.9 487.0L1224.4 485.0L1224.9 483.9L1225.4 483.7L1225.9 484.1L1226.4 485.1L1227.9 488.7L1228.4 488.7L1228.9 487.3L1229.4 484.0L1230.4 469.7L1230.9 458.3L1233.9 357.4L1234.4 346.0L1234.9 339.4L1235.4 338.6L1235.9 343.8L1236.9 370.3L1239.9 494.6L1241.4 532.7L1242.4 545.9L1243.4 552.5L1244.4 555.4L1245.4 556.5L1246.4 556.8L1253.4 557.0L1255.9 556.6L1256.9 555.9L1257.4 555.2L1258.4 552.5L1259.4 547.3L1260.4 538.5L1263.4 499.6L1263.9 495.4L1264.4 493.0L1264.9 492.7L1265.4 494.6L1266.4 503.8L1268.4 531.2L1269.4 542.3L1269.9 546.5L1270.9 552.1L1271.4 553.8L1272.4 555.7L1273.4 556.4L1274.4 556.4L1275.9 555.8L1276.9 554.8L1278.4 552.3L1279.9 547.7L1281.4 540.2L1282.4 533.5L1286.4 499.9L1287.4 494.5L1287.9 493.1L1288.4 492.6L1288.9 493.0L1289.9 496.6L1290.9 503.1L1293.4 523.6L1294.4 529.3L1294.9 530.6L1295.4 530.6L1295.9 529.0L1296.4 525.7L1298.9 496.8L1299.4 493.6L1299.9 493.0L1300.4 495.2L1300.9 500.0L1303.4 538.1L1304.4 548.2L1304.9 551.3L1305.4 553.3L1305.9 554.5L1306.4 555.0L1306.9 554.9L1307.4 554.3L1308.4 551.5L1309.4 545.8L1310.9 529.2L1312.4 500.7L1315.4 431.1L1316.4 418.7L1316.9 416.6L1317.4 417.1L1317.9 420.3L1318.4 425.6L1320.9 465.5L1321.9 477.7L1322.4 481.8L1322.9 484.5L1323.4 486.0L1323.9 486.5L1324.4 486.2L1325.9 484.2L1326.4 483.9L1326.9 484.2L1327.4 485.2L1327.9 486.8L1329.4 496.1L1332.9 529.0L1334.9 543.6L1335.9 548.4L1337.4 553.0L1338.9 555.4L1339.9 556.1L1340.9 556.6L1342.4 556.9L1344.9 557.0L1370.4 556.9L1371.9 556.8L1373.4 556.3L1374.4 555.6L1375.4 554.5L1376.4 552.6L1377.4 549.6L1378.9 542.5L1380.9 527.3L1384.4 493.8L1385.4 487.1L1385.9 484.8L1386.4 483.5L1386.9 483.0L1387.4 483.5L1387.9 484.9L1388.9 490.3L1389.9 498.4L1392.9 528.1L1394.9 543.2L1395.9 548.2L1396.9 551.7L1398.4 554.7L1398.9 555.3L1399.9 555.9L1400.9 555.9L1401.4 555.6L1402.4 553.8L1403.4 549.4L1403.9 545.9L1404.9 535.4L1407.4 499.3L1407.9 494.9L1408.4 492.7L1408.9 493.2L1409.4 496.2L1409.9 501.3L1411.9 531.0L1413.4 547.3L1413.9 550.5L1414.9 554.4L1415.9 556.1L1416.4 556.5L1417.4 556.8L1420.4 557.0L1452.9 557.0L1455.4 556.5L1456.4 555.8L1456.9 555.3L1457.9 553.3L1458.4 551.8L1459.9 544.0L1461.4 530.7L1464.4 498.3L1464.9 495.1L1465.4 493.1L1465.9 492.6L1466.4 493.6L1467.4 499.5L1470.4 532.3L1471.9 544.9L1472.4 547.8L1473.4 551.7L1473.9 552.8L1474.4 553.2L1474.9 553.1L1475.4 552.4L1475.9 550.9L1476.4 548.7L1477.4 541.7L1478.4 531.1L1480.9 499.0L1481.4 494.7L1481.9 492.1L1482.4 491.5L1482.9 492.8L1483.9 500.7L1486.4 533.2L1487.9 547.1L1488.4 550.0L1489.4 553.9L1490.4 555.7L1490.9 556.2L1491.9 556.7L1495.9 557.0L1659.9 557.0L1663.4 556.8L1664.4 556.6L1665.4 556.1L1666.9 554.3L1668.4 550.4L1669.4 545.9L1670.4 539.5L1674.4 501.6L1675.4 494.7L1675.9 492.6L1676.4 491.6L1676.9 491.5L1677.4 492.5L1678.4 496.8L1680.4 508.4L1680.9 510.2L1681.4 511.2L1681.9 511.1L1682.4 510.0L1683.4 505.1L1685.4 492.8L1685.9 491.4L1686.4 491.3L1686.9 492.6L1687.9 499.2L1690.9 533.9L1691.9 543.1L1693.4 551.6L1693.9 553.3L1694.9 555.3L1695.4 555.9L1696.4 556.6L1698.4 557.0L1726.4 557.0L1729.4 556.8L1730.4 556.3L1730.9 555.8L1731.9 553.8L1732.9 549.2L1733.9 540.3L1735.4 515.5L1738.4 442.2L1738.9 434.6L1739.4 430.4L1739.9 429.8L1740.4 433.1L1741.4 449.5L1743.9 512.5L1744.9 531.7L1745.9 544.2L1746.9 551.3L1747.9 554.7L1748.9 556.2L1749.9 556.8L1751.4 557.0L1753.9 557.0L1761.4 557.0L1763.4 556.8L1764.4 556.3L1764.9 555.9L1765.9 554.2L1766.9 550.9L1767.9 545.1L1769.4 530.6L1771.9 500.0L1772.9 492.5L1773.4 490.7L1773.9 490.1L1774.4 490.7L1776.4 496.9L1776.9 497.7L1777.4 497.8L1777.9 497.0L1778.4 495.7L1779.9 490.5L1780.4 489.4L1780.9 489.1L1781.4 489.8L1781.9 491.5L1782.9 497.9L1784.9 516.1L1785.9 522.6L1786.4 523.9L1786.9 523.7L1787.4 521.5L1788.4 510.7L1789.4 491.3L1791.9 421.1L1792.9 397.7L1793.4 390.0L1793.9 385.7L1794.4 385.1L1794.9 388.3L1795.9 404.8L1799.4 503.9L1800.9 532.6L1801.9 544.0L1802.9 550.7L1803.9 554.2L1804.4 555.2L1805.4 556.3L1806.4 556.7L1808.4 557.0L1828.9 556.9L1830.9 556.4L1831.9 555.5L1832.4 554.6L1833.4 551.5L1833.9 549.1L1834.9 542.0L1838.4 501.1L1838.9 497.1L1839.4 494.7L1839.9 494.1L1840.4 495.4L1841.4 502.9L1843.9 533.7L1844.9 543.5L1845.9 550.1L1846.4 552.2L1847.4 555.0L1848.4 556.2L1849.4 556.7L1850.4 556.9L1863.4 557.0L1865.4 556.8L1866.4 556.5L1867.4 555.7L1868.4 554.2L1869.4 551.5L1870.4 546.8L1871.9 534.7L1873.4 515.4L1876.9 455.7L1878.9 427.0L1879.9 415.9L1880.9 407.5L1881.9 402.8L1882.4 402.4L1882.9 403.4L1883.4 406.0L1883.9 410.3L1884.9 423.9L1888.9 507.6L1890.4 530.9L1891.9 544.8L1892.9 549.7L1893.4 551.1L1893.9 551.8L1894.4 552.0L1894.9 551.7L1895.9 549.5L1897.4 542.2L1898.9 530.1L1901.9 499.0L1903.4 488.4L1903.9 486.6L1904.4 485.7L1904.9 485.7L1905.4 486.4L1905.9 487.5L1907.4 491.6L1907.9 492.3L1908.4 492.2L1908.9 491.4L1909.9 487.1L1912.4 471.0L1912.9 469.3L1913.4 468.8L1913.9 469.8L1914.4 472.1L1915.4 480.9L1918.4 522.5L1919.9 539.3L1920.9 546.7L1921.9 551.5L1922.9 554.3L1923.9 555.8L1924.9 556.5L1925.9 556.8L1929.9 557.0L1988.9 557.0L1990.9 556.8L1991.9 556.4L1992.4 556.0L1993.4 554.2L1994.4 550.0L1995.4 541.7L1995.9 535.4L1997.4 506.5L1999.9 443.7L2000.4 435.6L2000.9 430.8L2001.4 429.7L2001.9 432.5L2002.9 448.4L2005.4 511.8L2006.4 531.3L2006.9 538.5L2007.9 548.2L2008.9 553.3L2009.9 555.6L2010.9 556.6L2012.4 556.9L2026.4 557.0L2028.4 556.6L2029.4 556.1L2030.4 555.1L2030.9 554.2L2031.9 551.6L2032.4 549.7L2033.4 544.2L2034.9 532.0L2038.4 495.8L2039.4 489.3L2039.9 487.3L2040.4 486.0L2040.9 485.3L2041.4 485.1L2042.9 485.6L2043.9 485.5L2045.9 483.7L2046.4 483.5L2046.9 483.5L2047.9 484.3L2049.9 487.9L2050.4 488.4L2050.9 488.7L2051.4 488.6L2051.9 488.1L2053.4 485.9L2053.9 485.4L2054.4 485.5L2054.9 486.1L2055.9 489.4L2057.9 499.8L2058.4 501.2L2058.9 501.1L2059.4 499.1L2059.9 494.7L2060.4 488.0L2062.4 448.4L2062.9 441.0L2063.4 437.3L2063.9 438.1L2064.4 443.7L2064.9 453.6L2066.9 511.4L2068.4 541.8L2069.4 551.2L2070.4 555.1L2071.2 556.3" fill="none" stroke="#4f4f4f" stroke-width="4.0" stroke-linejoin="round"/>
<path d="M1139.9 543.3L1140.4 542.4L1140.9 540.9L1141.9 535.3L1144.9 504.4L1145.9 497.2L1146.4 495.2L1146.9 494.3L1148.4 493.9L1148.9 492.9L1149.4 490.8L1149.9 487.3L1151.4 467.3L1154.9 396.4L1155.9 383.1L1156.4 379.2L1156.9 377.4L1157.4 377.7L1157.9 380.1L1158.9 390.8L1160.4 418.6L1162.9 476.6L1164.4 506.4L1165.9 527.6L1166.4 532.6L1167.4 539.4L1167.9 541.4L1168.4 542.4L1168.9 542.5L1169.4 541.7L1169.9 540.1L1171.4 531.2L1174.4 507.3L1175.4 502.9L1175.9 502.1L1176.4 502.4L1176.9 503.7L1177.9 508.9L1181.9 541.7L1182.9 546.6L1183.4 547.7L1183.9 547.8L1184.4 546.4L1184.9 543.4L1185.4 538.6L1187.9 501.6L1188.4 498.1L1188.9 497.8L1189.4 501.0L1189.9 507.1L1191.4 532.2L1192.4 545.4L1192.9 549.8L1193.9 554.6L1194.4 555.7L1194.9 556.2L1195.4 556.4L1196.4 556.0L1196.9 555.4L1197.9 552.9L1198.9 547.6L1199.4 543.5L1200.9 523.7L1203.4 479.4L1203.9 473.8L1204.4 470.6L1204.9 470.2L1205.4 472.7L1205.9 477.7L1208.9 529.4L1210.4 546.4L1211.4 551.9L1211.9 553.3L1212.4 554.1L1212.9 554.5L1213.4 554.4L1214.4 553.2L1215.9 549.0L1217.4 541.6L1218.4 534.6L1222.4 497.1L1223.9 487.0L1224.4 485.1L1224.9 484.0L1225.4 483.8L1225.9 484.3L1226.4 485.5L1228.4 491.8L1228.9 492.1L1229.4 491.2L1229.9 488.7L1230.4 484.3L1231.4 470.2L1233.9 423.4L1234.4 418.3L1234.9 416.2L1235.4 417.7L1235.9 422.6L1236.4 430.8L1239.4 508.7L1240.9 536.6L1241.9 547.1L1242.9 552.7L1243.9 555.3L1244.9 556.4L1245.9 556.8L1247.9 557.0L1253.4 557.0L1255.9 556.7L1256.9 556.0L1257.4 555.3L1258.4 552.9L1259.4 547.9L1260.4 539.5L1263.4 502.1L1263.9 498.0L1264.4 495.7L1264.9 495.4L1265.4 497.1L1265.9 500.7L1268.9 538.0L1270.4 550.0L1270.9 552.3L1271.9 555.0L1272.9 556.2L1273.4 556.4L1274.4 556.4L1275.9 555.8L1277.4 554.2L1278.9 551.1L1279.9 547.8L1281.9 537.9L1285.9 511.0L1286.9 506.2L1287.9 503.5L1288.4 503.1L1288.9 503.3L1289.9 505.6L1290.9 510.2L1293.9 528.5L1294.4 530.5L1294.9 531.4L1295.4 531.1L1295.9 529.3L1296.9 521.1L1298.9 496.8L1299.4 493.6L1299.9 493.0L1300.4 495.2L1300.9 500.0L1303.4 538.1L1304.4 548.2L1304.9 551.3L1305.4 553.3L1305.9 554.5L1306.4 555.0L1306.9 554.9L1307.4 554.3L1308.4 551.5L1309.4 545.8L1310.9 529.2L1312.4 500.7L1315.4 431.3L1316.4 419.2L1316.9 417.2L1317.4 418.0L1317.9 421.3L1318.4 426.9L1320.9 467.7L1321.9 479.9L1322.4 483.9L1322.9 486.5L1323.4 487.8L1323.9 488.1L1324.4 487.6L1325.9 484.9L1326.4 484.5L1326.9 484.6L1327.4 485.5L1327.9 487.0L1329.4 496.1L1332.9 529.0L1334.9 543.6L1335.9 548.4L1337.4 553.0L1338.9 555.4L1339.9 556.1L1340.9 556.6L1342.4 556.9L1344.9 557.0L1370.4 556.9L1371.9 556.8L1373.4 556.3L1374.4 555.6L1375.4 554.5L1376.4 552.6L1377.4 549.6L1378.9 542.5L1380.9 527.3L1384.4 494.0L1385.4 487.5L1385.9 485.3L1386.4 484.1L1386.9 483.8L1387.4 484.5L1387.9 486.1L1388.9 491.7L1392.9 529.1L1394.9 543.6L1395.9 548.4L1397.4 553.0L1398.9 555.3L1400.4 556.2L1401.4 556.0L1402.4 554.8L1403.4 551.4L1403.9 548.5L1404.9 539.6L1407.4 508.1L1407.9 504.1L1408.4 502.2L1408.9 502.6L1409.4 505.3L1409.9 509.9L1411.9 535.9L1412.9 546.1L1413.9 552.2L1414.4 554.0L1415.4 556.0L1416.4 556.7L1418.4 557.0L1450.9 557.0L1454.4 556.8L1455.4 556.5L1456.4 555.9L1457.4 554.5L1458.4 552.0L1459.9 544.7L1461.4 532.6L1463.9 507.5L1464.9 500.8L1465.4 499.1L1465.9 498.7L1466.4 499.5L1467.4 504.7L1470.4 533.9L1471.9 545.6L1472.9 550.4L1473.4 551.9L1473.9 553.0L1474.4 553.5L1474.9 553.4L1475.4 552.8L1475.9 551.6L1476.9 547.2L1478.4 534.9L1480.9 508.3L1481.4 504.8L1481.9 502.7L1482.4 502.1L1482.9 503.2L1483.9 509.7L1486.4 536.7L1487.9 548.4L1488.4 550.9L1489.4 554.2L1490.4 555.9L1490.9 556.3L1491.9 556.8L1495.9 557.0L1657.4 557.0L1661.9 557.0L1663.9 556.7L1665.4 556.1L1666.9 554.4L1667.9 552.1L1668.9 548.6L1669.9 543.5L1670.9 536.7L1674.9 502.4L1675.9 497.6L1676.4 496.6L1676.9 496.4L1677.4 497.1L1677.9 498.6L1680.9 514.7L1681.4 516.4L1681.9 517.3L1682.4 517.4L1682.9 516.7L1683.4 515.3L1685.4 507.1L1685.9 505.9L1686.4 505.5L1686.9 506.2L1687.4 507.9L1688.4 514.1L1690.9 537.2L1691.9 544.8L1693.4 552.1L1693.9 553.6L1694.9 555.5L1695.4 556.0L1696.4 556.6L1698.9 557.0L1726.4 557.0L1729.4 556.8L1730.4 556.4L1730.9 555.9L1731.9 554.0L1732.9 549.7L1733.9 541.3L1735.4 517.8L1738.4 448.7L1738.9 441.5L1739.4 437.5L1739.9 437.1L1740.4 440.1L1741.4 455.6L1743.9 515.1L1744.9 533.1L1745.9 544.9L1746.9 551.6L1747.9 554.9L1748.9 556.2L1749.9 556.8L1753.4 557.0L1761.4 557.0L1763.4 556.8L1764.9 556.1L1765.9 554.7L1766.9 552.0L1767.4 550.0L1768.9 540.6L1771.9 514.0L1772.9 508.6L1773.4 507.3L1773.9 506.7L1774.4 506.8L1775.9 507.8L1776.4 507.6L1776.9 506.7L1777.9 503.0L1779.4 495.0L1780.4 491.3L1780.9 490.6L1781.4 491.1L1781.9 492.6L1782.4 495.2L1784.9 516.4L1785.9 522.8L1786.4 524.2L1786.9 523.9L1787.4 521.7L1788.4 511.1L1789.4 492.0L1791.9 423.0L1792.9 400.1L1793.4 392.6L1793.9 388.4L1794.4 387.8L1794.9 390.9L1795.9 407.0L1799.4 504.4L1800.9 532.8L1801.9 544.1L1802.9 550.7L1803.9 554.2L1804.4 555.2L1805.4 556.3L1806.4 556.7L1808.4 557.0L1828.9 556.9L1830.9 556.4L1831.9 555.5L1832.4 554.6L1833.4 551.5L1833.9 549.1L1834.9 542.0L1838.4 501.1L1838.9 497.1L1839.4 494.7L1839.9 494.1L1840.4 495.4L1841.4 502.9L1843.9 533.7L1844.9 543.5L1845.9 550.1L1846.4 552.2L1847.4 555.0L1847.9 555.7L1848.9 556.5L1850.4 556.9L1852.4 557.0L1869.9 556.9L1871.9 556.5L1872.9 555.8L1873.4 555.2L1874.4 553.2L1875.4 549.6L1876.4 543.5L1877.4 534.3L1878.9 513.9L1881.9 461.8L1882.9 449.8L1883.4 446.4L1883.9 444.9L1884.4 445.4L1884.9 448.0L1885.9 458.5L1889.4 518.0L1890.9 537.0L1892.4 547.7L1892.9 549.8L1893.4 551.1L1893.9 551.9L1894.4 552.0L1894.9 551.7L1895.9 549.5L1897.4 542.3L1898.9 530.3L1901.9 500.0L1903.4 489.8L1903.9 488.1L1904.4 487.3L1904.9 487.2L1905.4 487.9L1907.4 492.6L1907.9 493.1L1908.4 492.9L1908.9 491.9L1909.9 487.4L1912.4 471.0L1912.9 469.3L1913.4 468.9L1913.9 469.8L1914.4 472.1L1915.4 480.9L1918.4 522.5L1919.9 539.3L1920.9 546.7L1921.9 551.5L1922.9 554.3L1923.9 555.8L1924.9 556.5L1925.9 556.8L1928.9 557.0L1988.4 557.0L1990.4 556.9L1991.9 556.5L1992.9 555.4L1993.4 554.3L1994.4 550.4L1995.4 542.5L1995.9 536.5L1997.4 508.9L1999.9 449.2L2000.4 441.4L2000.9 436.8L2001.4 435.8L2001.9 438.4L2002.9 453.6L2005.4 514.0L2006.4 532.6L2006.9 539.4L2007.9 548.7L2008.4 551.5L2009.4 554.9L2010.4 556.3L2011.9 556.9L2025.9 557.0L2027.9 556.8L2028.9 556.4L2029.9 555.7L2030.9 554.2L2031.9 551.6L2032.4 549.7L2033.4 544.3L2034.9 532.0L2038.4 496.2L2039.4 490.2L2039.9 488.4L2040.4 487.5L2040.9 487.2L2041.4 487.3L2042.9 488.9L2043.4 489.2L2043.9 489.3L2044.4 489.1L2046.4 487.2L2046.9 487.2L2047.4 487.5L2048.4 489.3L2050.4 495.9L2051.4 498.5L2051.9 499.2L2052.4 499.5L2052.9 499.4L2054.4 498.6L2054.9 498.7L2055.4 499.2L2056.4 502.1L2058.4 512.2L2058.9 513.7L2059.4 513.8L2059.9 512.0L2060.4 507.9L2062.9 466.3L2063.4 461.2L2063.9 459.8L2064.4 462.7L2064.9 469.6L2067.4 528.0L2068.4 543.7L2069.4 552.0L2070.4 555.5L2071.2 556.5" fill="none" stroke="#ef4444" stroke-width="4.7" stroke-linejoin="round"/>
<path d="M1139.9 555.4L1141.4 554.7L1142.4 553.7L1145.4 549.3L1146.9 548.0L1147.4 547.9L1148.4 548.1L1151.4 549.7L1152.9 550.2L1153.9 549.9L1154.4 549.4L1154.9 548.5L1155.9 545.4L1157.9 537.0L1158.4 535.8L1158.9 535.3L1159.4 535.8L1159.9 537.1L1162.4 549.5L1163.4 553.3L1164.4 555.5L1164.9 556.1L1165.9 556.6L1166.9 556.8L1167.9 556.6L1168.9 556.2L1169.9 555.5L1171.4 553.9L1174.9 548.6L1175.9 547.9L1176.4 547.8L1176.9 548.0L1177.9 548.8L1180.9 553.2L1181.9 554.4L1182.9 555.0L1184.4 555.1L1187.4 553.8L1188.9 553.6L1190.4 554.1L1193.4 555.9L1194.4 556.1L1195.4 555.9L1196.4 555.1L1197.4 553.5L1198.4 551.1L1200.9 543.1L1201.9 541.3L1202.4 541.0L1202.9 541.3L1203.9 543.0L1206.4 551.0L1207.4 553.5L1208.4 555.2L1209.4 556.2L1210.9 556.8L1213.9 557.0L1224.4 557.0L1225.9 556.8L1226.9 556.4L1227.9 555.2L1228.9 552.5L1229.9 547.2L1230.4 543.2L1231.9 525.0L1233.9 493.5L1234.9 482.9L1235.4 480.6L1235.9 480.7L1236.4 483.1L1236.9 487.6L1239.9 532.4L1241.4 547.4L1242.4 552.6L1243.4 555.2L1244.4 556.4L1245.9 556.9L1253.4 557.0L1257.4 556.9L1259.4 556.5L1262.9 555.0L1264.4 554.8L1265.9 555.1L1268.9 556.4L1270.9 556.8L1277.4 557.0L1280.4 556.8L1281.9 556.1L1282.9 555.2L1284.4 552.9L1286.9 547.9L1287.9 546.9L1288.4 546.8L1288.9 547.0L1289.9 548.2L1292.4 553.2L1293.9 555.4L1295.4 556.5L1297.9 557.0L1314.4 556.9L1316.4 556.5L1319.9 555.1L1321.4 554.8L1322.9 555.0L1326.9 556.6L1330.4 557.0L1381.9 557.0L1384.9 556.7L1388.9 555.6L1390.4 555.5L1391.9 555.7L1395.9 556.8L1399.9 556.9L1401.9 556.4L1403.4 555.1L1404.4 553.8L1406.9 549.3L1407.9 548.1L1408.4 547.9L1408.9 548.0L1409.9 548.8L1412.9 554.0L1413.9 555.3L1415.4 556.4L1416.9 556.9L1421.4 557.0L1457.9 556.9L1459.4 556.6L1460.4 556.1L1461.9 554.8L1464.4 552.0L1465.4 551.4L1465.9 551.3L1466.4 551.5L1467.4 552.2L1469.9 555.0L1470.9 555.9L1472.4 556.6L1473.9 556.8L1474.9 556.7L1475.9 556.4L1477.4 555.0L1478.4 553.4L1480.9 548.1L1481.9 546.9L1482.4 546.8L1482.9 547.0L1483.9 548.3L1486.4 553.7L1487.4 555.2L1488.9 556.4L1489.9 556.8L1491.4 557.0L1666.4 557.0L1668.4 556.8L1669.9 556.5L1674.9 553.7L1676.4 553.7L1678.9 554.6L1679.9 554.5L1680.9 553.6L1681.4 552.8L1684.9 545.2L1685.4 544.6L1685.9 544.5L1686.4 544.7L1687.4 546.1L1689.9 552.2L1691.4 554.9L1692.9 556.3L1694.4 556.8L1698.4 557.0L1731.9 556.9L1733.4 556.6L1734.4 556.2L1735.4 555.5L1738.4 552.9L1739.4 552.5L1739.9 552.5L1741.4 553.2L1744.9 556.1L1746.9 556.8L1749.9 557.0L1763.4 557.0L1765.9 556.6L1766.9 556.0L1767.9 554.9L1769.4 551.9L1771.9 544.6L1772.9 542.6L1773.4 542.2L1773.9 542.2L1774.9 543.6L1777.9 552.1L1778.9 554.2L1780.4 556.1L1781.4 556.6L1782.4 556.9L1784.9 557.0L1787.9 556.9L1789.9 556.5L1792.9 555.6L1794.4 555.5L1795.9 555.7L1799.4 556.7L1802.9 557.0L1860.9 557.0L1864.9 556.9L1865.9 556.7L1866.9 556.2L1867.9 555.1L1868.4 554.3L1869.4 551.5L1869.9 549.5L1870.9 543.7L1871.9 535.2L1872.9 523.9L1875.9 483.7L1876.9 475.1L1877.4 472.9L1877.9 472.3L1878.4 473.4L1879.4 480.0L1880.4 491.4L1882.9 525.6L1883.9 536.6L1884.9 544.7L1885.9 550.1L1886.9 553.5L1887.9 555.3L1889.4 556.5L1891.9 557.0L1897.4 556.9L1899.9 556.6L1903.4 555.6L1904.9 555.5L1909.9 556.7L1913.4 557.0L1992.4 556.9L1994.4 556.7L1995.9 556.0L1997.4 554.7L1999.9 551.9L2000.9 551.4L2001.4 551.3L2001.9 551.5L2002.9 552.1L2006.4 555.8L2007.4 556.4L2008.9 556.8L2013.4 557.0L2036.9 556.9L2039.4 556.2L2043.4 553.8L2044.9 553.7L2047.4 554.1L2048.4 553.7L2049.4 552.6L2052.4 547.4L2053.4 546.8L2053.9 546.8L2054.4 547.2L2056.4 549.8L2056.9 550.1L2057.4 550.1L2057.9 549.7L2058.9 547.3L2061.4 537.5L2061.9 536.6L2062.4 536.5L2062.9 537.2L2063.4 538.7L2065.9 550.4L2066.9 553.8L2067.4 554.9L2068.4 556.2L2069.4 556.7L2071.2 557.0" fill="none" stroke="#1d6fe1" stroke-width="4.7" stroke-linejoin="round"/>
<path d="M1139.9 664.5L1140.4 664.0L1140.9 666.5L1141.9 680.1L1145.4 764.9L1146.4 781.7L1146.9 786.7L1147.4 789.0L1147.9 788.5L1148.4 785.4L1148.9 779.8L1151.4 740.1L1151.9 735.6L1152.4 733.7L1152.9 734.5L1153.4 737.8L1155.4 761.9L1156.4 769.9L1156.9 771.2L1157.4 770.5L1157.9 767.9L1158.9 758.2L1162.4 709.8L1163.4 702.1L1163.9 700.5L1164.4 700.4L1164.9 701.9L1165.9 709.1L1169.4 753.7L1170.4 763.3L1170.9 766.4L1171.4 768.1L1171.9 768.2L1172.4 766.5L1172.9 763.1L1173.9 751.3L1176.4 705.6L1177.4 691.1L1177.9 686.6L1178.4 684.5L1178.9 684.9L1179.4 687.8L1180.4 700.3L1183.9 776.5L1184.9 795.4L1185.9 810.2L1186.9 820.7L1188.4 830.2L1188.9 832.1L1189.9 834.5L1190.4 835.2L1191.4 836.0L1191.9 836.0L1192.4 835.8L1192.9 835.2L1193.9 832.7L1194.9 827.0L1195.9 815.8L1197.4 784.2L1200.4 689.9L1200.9 679.6L1201.4 673.5L1201.9 671.7L1202.4 674.3L1202.9 680.7L1204.9 722.0L1205.9 735.6L1206.4 738.2L1206.9 738.1L1207.4 735.9L1208.9 726.3L1209.4 725.2L1209.9 726.3L1210.4 729.8L1211.4 743.8L1214.4 801.4L1215.4 812.0L1215.9 814.8L1216.4 815.9L1216.9 815.6L1217.4 813.8L1217.9 810.9L1219.4 796.4L1223.4 740.3L1225.4 718.7L1226.4 712.1L1226.9 709.9L1227.4 708.5L1227.9 707.9L1228.4 708.1L1229.4 710.5L1230.9 717.1L1231.9 720.4L1232.4 720.7L1232.9 719.7L1233.4 717.2L1233.9 713.0L1234.9 699.9L1237.4 656.3L1238.4 646.5L1238.9 645.3L1239.4 646.7L1240.4 656.5L1242.4 689.5L1243.4 702.5L1244.4 710.4L1245.9 718.5L1246.9 728.3L1247.9 744.9L1250.4 799.5L1251.9 822.0L1252.9 830.1L1253.9 834.2L1254.9 836.0L1255.4 836.5L1256.4 836.8L1258.4 837.0L1269.9 837.0L1273.4 836.8L1274.4 836.4L1275.4 835.4L1276.4 833.2L1276.9 831.3L1277.9 825.4L1278.9 815.6L1280.4 792.6L1282.9 745.6L1283.9 733.0L1284.4 729.3L1284.9 727.3L1285.4 726.8L1285.9 727.5L1287.4 732.0L1287.9 733.0L1288.4 733.2L1288.9 732.7L1290.9 727.3L1291.4 726.7L1291.9 727.0L1292.4 728.4L1292.9 731.1L1293.9 740.0L1296.4 770.7L1297.4 778.3L1297.9 779.7L1298.4 779.2L1298.9 776.9L1299.4 772.8L1302.4 735.2L1302.9 731.6L1303.4 729.9L1303.9 730.1L1304.4 732.3L1304.9 736.1L1307.4 764.4L1307.9 767.5L1308.4 768.3L1308.9 766.1L1309.9 752.6L1312.4 691.1L1312.9 683.4L1313.4 679.9L1313.9 681.2L1314.4 687.0L1316.4 735.0L1317.4 753.3L1317.9 756.9L1318.4 756.6L1318.9 752.8L1320.9 726.2L1321.4 723.6L1321.9 724.6L1322.4 729.5L1322.9 737.8L1325.4 799.3L1326.9 823.7L1327.4 828.3L1328.4 833.7L1329.4 835.9L1330.4 836.7L1331.4 836.9L1352.9 836.9L1353.9 836.7L1354.9 836.2L1355.9 835.0L1356.4 833.9L1357.4 830.5L1357.9 827.8L1359.4 814.4L1360.9 791.9L1362.9 754.9L1363.9 741.0L1364.4 736.8L1364.9 734.9L1365.4 735.4L1365.9 738.2L1366.9 749.5L1369.4 785.9L1369.9 790.0L1370.4 792.1L1370.9 792.0L1371.4 789.7L1372.4 779.2L1374.9 739.1L1375.9 729.6L1376.4 728.0L1376.9 728.6L1377.4 731.2L1378.9 745.3L1379.4 749.3L1379.9 751.7L1380.4 751.8L1380.9 749.7L1382.9 731.3L1383.4 730.2L1383.9 732.6L1384.9 748.3L1386.9 798.9L1387.9 817.9L1388.4 824.4L1389.4 832.1L1390.4 835.4L1390.9 836.1L1391.9 836.7L1394.9 837.0L1413.9 836.9L1414.9 836.6L1415.9 835.8L1416.9 833.7L1417.9 829.1L1418.4 825.3L1419.4 813.8L1420.4 796.6L1422.4 754.1L1423.4 739.5L1423.9 736.3L1424.4 736.4L1424.9 739.7L1425.4 745.9L1427.9 797.0L1428.9 814.1L1429.9 825.5L1430.9 831.9L1431.9 835.0L1432.9 836.3L1433.9 836.8L1436.4 837.0L1444.9 836.9L1446.4 836.5L1447.4 835.5L1448.4 833.0L1448.9 830.8L1449.9 823.5L1450.4 818.0L1451.4 802.8L1453.9 751.5L1454.9 738.4L1455.4 736.0L1455.9 736.9L1456.4 740.9L1456.9 747.6L1459.4 798.5L1460.9 821.1L1461.4 825.9L1462.4 832.1L1463.4 835.1L1464.4 836.3L1465.9 836.9L1467.9 837.0L1553.4 837.0L1556.4 836.8L1557.4 836.5L1557.9 836.1L1558.9 834.4L1559.9 830.8L1560.9 823.5L1561.4 818.1L1562.4 803.2L1564.9 752.6L1565.9 739.0L1566.4 736.2L1566.9 736.5L1567.4 739.8L1567.9 745.9L1570.9 804.8L1571.9 819.2L1572.9 828.3L1573.4 831.2L1574.4 834.7L1574.9 835.6L1575.9 836.5L1577.9 837.0L1604.4 837.0L1607.4 836.7L1608.4 836.1L1608.9 835.5L1609.9 833.1L1610.9 828.0L1611.4 823.9L1612.9 803.9L1615.9 744.6L1616.4 738.5L1616.9 735.3L1617.4 735.1L1617.9 738.0L1618.9 751.9L1621.4 802.9L1622.4 817.9L1622.9 823.4L1623.9 830.7L1624.4 832.9L1625.4 835.4L1625.9 836.1L1626.9 836.7L1628.9 837.0L1675.9 837.0L1677.9 836.9L1678.9 836.7L1679.9 836.0L1680.4 835.2L1681.4 832.1L1682.4 825.3L1682.9 819.8L1683.9 803.8L1686.4 747.7L1686.9 740.0L1687.4 735.6L1687.9 735.0L1688.4 738.3L1688.9 745.2L1691.4 800.9L1692.4 817.9L1693.4 828.3L1694.4 833.6L1695.4 835.8L1696.4 836.6L1697.4 836.9L1713.4 837.0L1715.4 836.9L1716.4 836.6L1717.4 835.8L1717.9 835.0L1718.9 831.9L1719.9 825.5L1720.9 813.6L1722.4 782.0L1724.9 708.3L1725.9 689.4L1726.4 685.7L1726.9 686.4L1727.4 691.5L1727.9 700.4L1730.9 786.8L1732.4 816.6L1732.9 822.7L1733.9 830.6L1734.9 834.5L1735.9 836.1L1736.9 836.7L1738.4 837.0L1742.9 836.9L1744.9 836.5L1745.9 835.9L1746.9 834.8L1747.9 832.8L1748.4 831.4L1749.9 824.6L1751.4 812.5L1752.9 794.0L1755.9 747.3L1756.9 736.6L1757.4 733.5L1757.9 732.1L1758.4 732.4L1758.9 734.3L1761.4 753.3L1761.9 755.7L1762.4 756.8L1762.9 756.3L1763.4 754.4L1765.9 733.1L1766.4 730.1L1766.9 728.7L1767.4 729.1L1767.9 731.6L1768.4 736.1L1769.4 750.2L1771.9 795.3L1772.9 807.2L1773.4 810.1L1773.9 810.5L1774.4 808.1L1774.9 802.8L1777.9 740.0L1778.4 735.4L1778.9 735.4L1779.4 739.9L1779.9 748.5L1781.9 797.6L1782.9 814.9L1783.4 820.0L1783.9 822.7L1784.4 823.4L1784.9 822.3L1785.9 815.9L1786.9 804.8L1789.9 757.4L1790.9 744.4L1791.9 737.2L1792.4 736.3L1792.9 737.3L1793.9 744.6L1794.9 757.7L1797.9 805.3L1798.9 816.9L1799.9 825.2L1800.4 828.2L1801.4 832.4L1801.9 833.8L1802.9 835.5L1803.9 836.3L1805.4 836.6L1806.9 836.2L1808.4 834.9L1809.9 831.9L1810.9 828.3L1811.9 822.9L1812.9 815.3L1814.9 792.6L1818.4 742.9L1819.4 733.1L1819.9 729.9L1820.4 727.8L1820.9 726.8L1821.4 726.9L1822.4 729.5L1823.9 734.9L1824.4 735.9L1824.9 736.2L1825.4 735.7L1825.9 734.5L1827.4 728.4L1827.9 726.8L1828.4 726.0L1828.9 726.6L1829.4 728.5L1830.4 737.4L1831.4 752.0L1834.4 804.2L1835.4 815.2L1835.9 818.2L1836.4 819.4L1836.9 818.3L1837.4 814.7L1837.9 808.4L1838.9 788.0L1840.4 749.6L1840.9 740.4L1841.4 735.4L1841.9 735.5L1842.4 740.6L1844.9 801.1L1845.9 818.3L1846.4 823.4L1846.9 826.5L1847.4 828.0L1847.9 828.2L1848.4 827.3L1849.4 823.2L1850.4 816.2L1851.4 806.4L1852.9 786.2L1855.4 745.9L1856.4 736.5L1856.9 734.8L1857.4 735.4L1857.9 738.1L1858.9 747.9L1861.4 781.3L1862.4 792.5L1863.4 799.5L1863.9 800.3L1864.4 798.4L1864.9 793.5L1865.4 785.1L1866.9 748.5L1867.4 739.1L1867.9 734.9L1868.4 737.1L1868.9 745.5L1871.4 814.0L1871.9 822.0L1872.9 831.0L1873.9 834.6L1874.4 835.5L1875.4 836.4L1876.4 836.8L1878.4 837.0L1881.4 836.9L1883.4 836.6L1884.4 836.2L1885.4 835.3L1886.4 833.2L1887.4 828.5L1888.4 819.5L1889.9 793.8L1893.4 703.7L1894.4 690.4L1894.9 687.6L1895.4 687.3L1895.9 689.2L1896.9 697.9L1900.9 753.3L1901.4 757.8L1901.9 760.4L1902.4 760.9L1902.9 758.7L1903.9 746.0L1906.9 669.3L1907.4 660.8L1907.9 656.4L1908.4 656.5L1908.9 661.4L1909.4 670.7L1912.4 768.5L1913.9 805.7L1914.4 814.0L1915.4 825.3L1916.4 831.4L1916.9 833.2L1917.9 835.3L1918.4 835.8L1919.4 836.5L1921.9 836.9L1940.9 836.9L1941.9 836.7L1942.9 836.1L1943.9 834.6L1944.4 833.1L1945.4 827.9L1945.9 823.8L1946.9 811.6L1949.9 751.6L1950.9 737.8L1951.4 735.0L1951.9 735.4L1952.4 739.0L1952.9 745.4L1955.4 796.4L1956.9 820.0L1957.9 828.8L1958.4 831.6L1959.4 834.9L1960.4 836.3L1961.4 836.8L1963.9 836.9L1965.4 836.6L1966.4 835.5L1966.9 834.3L1967.9 829.5L1968.9 819.2L1969.4 811.2L1972.4 742.6L1972.9 736.6L1973.4 734.8L1973.9 737.6L1974.4 744.4L1977.4 811.9L1977.9 818.6L1978.4 823.1L1978.9 825.6L1979.4 826.2L1979.9 825.1L1980.4 822.6L1981.4 813.6L1982.4 799.9L1985.4 747.5L1986.4 737.0L1986.9 735.0L1987.4 735.2L1987.9 737.8L1988.4 742.6L1989.4 757.1L1991.4 793.0L1992.9 813.2L1993.9 820.4L1994.4 822.0L1994.9 822.4L1995.4 821.5L1995.9 819.4L1996.4 815.9L1997.9 797.9L1999.4 768.3L2001.9 708.3L2002.9 691.9L2003.4 687.4L2003.9 685.7L2004.4 686.8L2005.4 696.6L2008.9 765.5L2009.9 780.4L2010.4 785.0L2010.9 787.4L2011.4 787.3L2011.9 784.5L2012.4 779.3L2014.9 738.4L2015.4 734.4L2015.9 733.9L2016.4 737.1L2016.9 743.7L2019.4 797.9L2020.4 814.8L2021.4 825.7L2022.4 831.8L2023.4 834.9L2024.4 836.2L2025.4 836.7L2028.4 837.0L2035.4 837.0L2037.4 836.8L2038.4 836.4L2038.9 836.0L2039.9 834.4L2040.9 830.9L2041.9 824.0L2043.4 804.5L2046.4 745.8L2046.9 739.4L2047.4 735.7L2047.9 734.9L2048.4 737.1L2049.4 749.5L2051.4 789.1L2052.4 805.3L2052.9 810.7L2053.4 814.0L2053.9 814.9L2054.4 813.3L2054.9 809.0L2055.4 802.1L2056.4 779.9L2059.9 657.3L2060.9 637.8L2061.4 635.1L2061.9 637.2L2062.9 654.6L2065.4 728.4L2066.4 749.1L2067.4 760.0L2067.9 762.6L2069.4 766.7L2069.9 768.7L2071.2 779.0" fill="none" stroke="#4f4f4f" stroke-width="4.0" stroke-linejoin="round"/>
<path d="M1139.9 715.0L1140.4 712.8L1140.9 713.0L1141.4 715.4L1141.9 720.0L1142.9 734.6L1144.9 772.9L1145.9 788.7L1146.9 797.5L1147.4 798.5L1147.9 797.1L1148.9 787.5L1150.9 754.7L1151.9 743.9L1152.4 742.1L1152.9 742.9L1153.9 751.0L1155.9 773.6L1156.4 776.7L1156.9 778.1L1157.4 777.8L1157.9 776.0L1158.9 768.7L1161.9 739.8L1162.9 734.0L1163.4 732.3L1163.9 731.7L1164.4 732.0L1164.9 733.3L1165.9 738.5L1166.9 746.6L1169.4 771.6L1170.4 779.5L1170.9 782.1L1171.4 783.7L1171.9 784.1L1172.4 783.2L1172.9 780.9L1173.9 772.4L1177.4 723.2L1178.4 715.0L1178.9 713.4L1179.4 713.9L1179.9 716.2L1180.9 726.4L1184.4 789.0L1185.4 804.5L1186.4 816.5L1187.4 824.9L1187.9 827.9L1188.9 832.1L1189.4 833.5L1190.4 835.3L1190.9 835.8L1191.9 836.3L1192.9 836.0L1193.4 835.4L1194.4 833.0L1195.4 827.6L1196.4 817.0L1197.9 788.3L1200.4 722.8L1201.4 707.7L1201.9 705.4L1202.4 706.7L1202.9 711.3L1204.9 744.5L1205.9 756.8L1206.4 759.8L1206.9 760.9L1207.4 760.6L1208.4 758.4L1208.9 758.1L1209.4 758.9L1209.9 761.4L1210.9 771.1L1212.9 800.5L1213.9 812.6L1214.9 819.9L1215.4 821.5L1215.9 821.9L1216.4 821.0L1216.9 819.1L1218.4 807.7L1219.4 796.4L1222.9 749.6L1223.9 740.4L1224.4 737.4L1224.9 735.6L1225.4 735.1L1225.9 735.9L1226.4 737.9L1227.4 744.9L1229.4 764.3L1230.4 772.3L1230.9 774.8L1231.4 776.1L1231.9 776.1L1232.4 774.6L1233.4 767.7L1236.9 725.0L1237.9 718.7L1238.4 718.0L1238.9 718.8L1239.4 721.2L1241.9 744.3L1242.9 750.5L1243.4 751.6L1243.9 751.5L1245.4 747.3L1245.9 746.6L1246.4 747.2L1246.9 749.7L1247.9 760.2L1250.4 804.2L1251.4 818.4L1252.4 827.8L1253.4 833.0L1254.4 835.5L1255.4 836.5L1256.4 836.9L1269.9 837.0L1273.4 836.8L1274.9 836.0L1275.9 834.6L1276.4 833.3L1277.4 829.2L1278.4 822.1L1279.9 804.6L1282.4 766.4L1283.4 755.1L1283.9 751.5L1284.4 749.2L1284.9 748.0L1285.4 747.7L1286.9 748.6L1287.4 748.2L1287.9 747.2L1288.9 743.1L1290.4 734.5L1291.4 730.9L1291.9 730.6L1292.4 731.6L1293.4 737.6L1294.4 748.1L1296.9 779.6L1297.9 787.5L1298.4 789.4L1298.9 789.8L1299.4 788.8L1299.9 786.4L1302.9 759.2L1303.9 754.0L1304.4 753.5L1304.9 754.3L1305.9 759.7L1307.4 770.3L1307.9 772.1L1308.4 772.0L1308.9 769.5L1309.4 764.1L1309.9 755.9L1312.4 696.6L1312.9 689.3L1313.4 686.0L1313.9 687.3L1314.4 693.0L1316.4 739.0L1317.4 756.1L1317.9 759.1L1318.4 758.3L1318.9 754.1L1320.9 726.5L1321.4 723.8L1321.9 724.8L1322.4 729.5L1322.9 737.8L1325.4 799.3L1326.9 823.7L1327.4 828.3L1328.4 833.7L1329.4 835.9L1329.9 836.4L1330.9 836.8L1333.9 837.0L1352.9 836.9L1353.9 836.7L1354.9 836.2L1355.9 835.1L1356.4 834.2L1357.4 831.2L1357.9 828.9L1359.4 817.9L1360.4 806.8L1362.9 772.6L1363.9 762.5L1364.4 759.5L1364.9 758.1L1365.4 758.5L1365.9 760.5L1366.9 768.5L1369.4 794.5L1369.9 797.3L1370.4 798.6L1370.9 798.2L1371.4 796.2L1372.4 787.7L1374.9 756.3L1375.9 749.0L1376.4 747.8L1376.9 748.3L1377.4 750.3L1378.9 760.8L1379.4 763.5L1379.9 764.7L1380.4 763.9L1380.9 760.9L1382.4 745.1L1382.9 741.1L1383.4 739.7L1383.9 741.7L1384.4 747.3L1386.9 803.2L1387.4 812.9L1388.4 826.4L1388.9 830.4L1389.9 834.8L1390.9 836.4L1391.9 836.9L1394.4 837.0L1413.9 836.9L1414.9 836.8L1415.9 836.2L1416.9 834.8L1417.9 831.6L1418.4 829.0L1419.4 820.9L1420.4 808.6L1422.4 778.1L1423.4 767.5L1423.9 765.2L1424.4 765.2L1424.9 767.6L1425.4 772.2L1428.4 815.5L1429.4 825.6L1429.9 829.1L1430.9 833.6L1431.9 835.7L1432.9 836.6L1433.9 836.9L1444.9 836.9L1446.4 836.6L1447.4 835.7L1448.4 833.7L1448.9 831.9L1449.9 825.9L1450.4 821.5L1451.4 809.3L1453.9 769.0L1454.9 758.8L1455.4 757.0L1455.9 757.6L1456.4 760.7L1456.9 765.9L1459.4 805.9L1460.9 824.0L1461.4 827.9L1462.4 832.9L1463.4 835.4L1463.9 836.0L1464.9 836.7L1465.9 836.9L1468.4 837.0L1553.9 837.0L1556.4 836.9L1557.9 836.3L1558.9 835.1L1559.9 832.3L1560.9 826.7L1561.4 822.5L1562.9 803.6L1564.9 771.2L1565.9 760.5L1566.4 758.2L1566.9 758.5L1567.4 761.1L1567.9 765.9L1570.4 805.0L1571.9 823.4L1572.4 827.4L1573.4 832.6L1574.4 835.2L1575.4 836.4L1576.4 836.8L1578.4 837.0L1605.9 837.0L1607.9 836.7L1608.9 836.0L1609.4 835.3L1610.4 832.8L1610.9 830.7L1611.9 823.9L1612.9 813.3L1615.9 769.8L1616.4 765.4L1616.9 763.0L1617.4 762.9L1617.9 765.0L1618.9 775.2L1620.9 805.7L1622.4 823.4L1622.9 827.4L1623.9 832.6L1624.4 834.1L1625.4 835.9L1625.9 836.4L1626.9 836.8L1628.9 837.0L1676.4 837.0L1678.4 836.9L1679.4 836.7L1680.4 836.0L1681.4 833.9L1682.4 828.9L1682.9 824.8L1683.9 812.5L1686.4 767.5L1686.9 761.2L1687.4 757.6L1687.9 757.1L1688.4 759.8L1688.9 765.4L1691.9 817.5L1692.9 827.9L1693.4 831.1L1694.4 834.8L1695.4 836.3L1696.4 836.8L1697.4 837.0L1713.9 837.0L1716.4 836.7L1717.4 836.2L1717.9 835.6L1718.9 833.2L1719.9 827.9L1720.9 817.7L1722.4 789.5L1725.4 709.0L1725.9 701.0L1726.4 696.8L1726.9 696.7L1727.4 700.7L1728.4 719.5L1730.9 788.9L1732.4 817.3L1732.9 823.3L1733.9 830.9L1734.9 834.6L1735.4 835.5L1736.4 836.5L1737.9 836.9L1740.4 837.0L1743.4 836.8L1744.9 836.5L1745.9 835.9L1746.9 834.8L1748.4 831.5L1749.9 825.2L1751.4 814.6L1755.4 773.2L1756.9 762.8L1757.4 761.1L1757.9 760.3L1758.4 760.5L1759.4 762.9L1760.9 768.4L1761.4 769.6L1761.9 770.0L1762.4 769.4L1763.4 765.0L1766.4 739.5L1766.9 737.7L1767.4 737.6L1767.9 739.3L1768.9 748.3L1772.4 803.5L1772.9 808.5L1773.4 811.4L1773.9 812.0L1774.4 810.0L1775.4 797.3L1777.9 744.8L1778.4 740.3L1778.9 740.3L1779.4 744.7L1779.9 753.0L1782.4 809.6L1783.4 821.3L1783.9 823.7L1784.4 824.1L1784.9 822.8L1785.4 820.1L1786.4 811.0L1787.4 797.9L1790.4 750.3L1791.4 740.0L1791.9 737.2L1792.4 736.3L1792.9 737.3L1793.9 744.6L1794.9 757.7L1797.9 805.3L1798.9 816.9L1799.9 825.2L1800.4 828.2L1801.4 832.4L1801.9 833.8L1802.9 835.5L1803.9 836.3L1805.4 836.6L1806.9 836.2L1808.4 834.9L1809.9 831.9L1810.9 828.3L1811.9 822.9L1812.9 815.4L1814.4 799.5L1817.9 751.9L1818.9 741.2L1819.9 734.3L1820.4 732.4L1820.9 731.6L1821.4 731.7L1822.4 734.1L1823.9 739.0L1824.4 740.0L1824.9 740.3L1825.4 739.8L1825.9 738.6L1827.4 732.8L1827.9 731.2L1828.4 730.3L1828.9 730.6L1829.4 732.3L1830.4 740.4L1831.4 754.2L1834.4 805.2L1835.4 817.1L1836.4 823.7L1836.9 824.5L1837.4 823.5L1837.9 820.4L1838.9 807.9L1840.9 774.7L1841.4 771.1L1841.9 771.1L1842.4 774.9L1842.9 781.7L1844.4 809.0L1845.4 822.8L1845.9 827.0L1846.4 829.6L1846.9 830.7L1847.4 830.8L1847.9 830.0L1848.4 828.5L1849.4 823.8L1850.9 812.9L1855.4 766.7L1856.4 760.5L1856.9 758.8L1857.4 758.1L1857.9 758.6L1858.4 760.1L1858.9 762.6L1859.9 770.2L1862.9 801.0L1863.4 804.5L1863.9 806.4L1864.4 805.8L1864.9 802.3L1865.4 795.5L1866.9 762.8L1867.4 754.1L1867.9 750.1L1868.4 752.2L1868.9 760.0L1870.4 800.2L1871.4 821.6L1871.9 828.1L1872.4 832.2L1872.9 834.6L1873.4 835.9L1873.9 836.5L1874.9 836.9L1884.4 837.0L1885.9 836.7L1886.9 836.3L1887.9 835.1L1888.4 834.0L1889.4 830.5L1889.9 827.8L1891.4 815.2L1893.9 786.6L1894.9 779.8L1895.4 778.7L1895.9 779.3L1896.9 785.3L1899.9 816.7L1900.4 819.8L1900.9 821.4L1901.4 821.5L1901.9 819.8L1902.4 816.2L1903.4 803.2L1906.4 735.3L1907.4 720.0L1907.9 717.0L1908.4 717.6L1908.9 721.7L1909.4 729.0L1912.4 798.2L1913.4 815.3L1913.9 821.5L1914.9 829.8L1915.4 832.3L1916.4 835.2L1916.9 835.9L1917.9 836.6L1918.9 836.9L1920.9 837.0L1940.9 836.9L1942.9 836.4L1943.9 835.5L1944.9 833.3L1945.4 831.6L1946.4 826.1L1947.4 817.5L1949.9 789.0L1950.9 781.4L1951.4 779.9L1951.9 780.2L1952.4 782.1L1952.9 785.6L1955.9 818.8L1957.4 829.9L1958.4 833.7L1959.4 835.7L1959.9 836.2L1960.9 836.7L1963.4 837.0L1965.4 836.7L1966.4 835.7L1966.9 834.7L1967.9 830.2L1968.4 826.1L1969.4 812.7L1969.9 803.2L1972.4 746.1L1972.9 740.3L1973.4 738.6L1973.9 741.3L1974.4 748.0L1977.4 813.3L1977.9 819.8L1978.4 824.1L1978.9 826.4L1979.4 827.0L1979.9 826.0L1980.4 823.7L1981.4 815.6L1982.4 803.4L1985.4 758.4L1986.4 749.6L1986.9 747.9L1987.4 748.1L1987.9 750.3L1988.9 759.8L1991.4 797.3L1992.9 814.9L1993.9 821.2L1994.4 822.6L1994.9 822.8L1995.4 821.9L1996.4 816.5L1997.9 800.2L2002.4 721.0L2003.4 710.6L2003.9 708.2L2004.4 707.7L2004.9 709.3L2005.9 718.0L2009.4 776.3L2010.4 788.4L2010.9 792.1L2011.4 794.2L2011.9 794.6L2012.4 793.5L2014.9 778.3L2015.4 776.7L2015.9 776.5L2016.4 777.8L2017.4 785.1L2019.9 814.7L2020.9 824.1L2021.9 830.4L2022.9 834.0L2023.9 835.8L2024.4 836.3L2025.4 836.8L2027.9 837.0L2036.4 837.0L2038.4 836.5L2039.4 835.7L2039.9 835.0L2040.9 832.4L2041.9 827.6L2043.4 814.5L2046.4 777.4L2046.9 773.5L2047.4 771.2L2047.9 770.7L2048.4 772.0L2048.9 775.1L2052.4 814.4L2052.9 817.7L2053.4 819.4L2053.9 819.4L2054.4 817.4L2055.4 807.2L2056.4 787.8L2059.9 679.2L2060.9 660.7L2061.4 657.4L2061.9 658.5L2062.4 663.7L2062.9 672.5L2065.4 737.1L2066.4 755.7L2067.4 765.4L2067.9 767.6L2069.4 770.5L2069.9 772.2L2070.4 774.9L2071.2 781.5" fill="none" stroke="#ef4444" stroke-width="4.7" stroke-linejoin="round"/>
<path d="M1139.9 810.1L1140.4 809.8L1140.9 809.8L1141.4 810.2L1142.4 812.0L1143.4 815.0L1146.9 827.3L1147.9 829.7L1148.9 831.3L1150.4 832.6L1153.9 833.6L1158.9 836.3L1161.9 836.9L1166.9 837.0L1168.9 836.6L1170.4 835.6L1171.4 834.0L1172.4 831.3L1175.9 816.4L1176.4 815.1L1176.9 814.3L1177.4 814.2L1177.9 814.8L1178.9 817.7L1181.4 828.9L1182.4 832.3L1183.4 834.6L1183.9 835.4L1184.9 836.3L1185.9 836.7L1186.9 836.9L1190.9 836.9L1192.4 836.6L1193.9 835.6L1195.4 833.1L1198.4 823.7L1199.4 821.6L1199.9 821.1L1200.4 821.1L1200.9 821.6L1201.4 822.5L1203.9 829.5L1204.9 831.4L1205.4 832.0L1206.4 832.5L1208.4 832.5L1209.4 832.8L1212.9 835.6L1214.9 836.6L1217.4 836.9L1219.4 836.6L1220.9 835.7L1221.9 834.1L1222.9 831.3L1223.9 826.7L1225.4 815.6L1228.4 785.3L1229.4 778.6L1229.9 776.9L1230.4 776.4L1230.9 777.0L1231.4 778.7L1234.4 796.9L1234.9 798.4L1235.4 798.9L1235.9 798.4L1236.4 796.9L1239.4 780.1L1239.9 778.9L1240.4 778.7L1240.9 779.8L1241.9 785.2L1245.4 818.8L1246.9 828.7L1247.9 832.6L1248.4 833.9L1249.4 835.6L1250.9 836.6L1253.4 837.0L1274.9 837.0L1276.9 836.8L1277.9 836.6L1279.4 835.4L1280.4 833.8L1281.4 831.4L1283.9 824.0L1284.9 822.4L1285.4 822.2L1285.9 822.5L1286.9 824.3L1289.4 831.8L1290.9 834.9L1292.4 836.4L1294.4 836.9L1414.9 837.0L1416.4 836.8L1417.4 836.4L1418.9 835.3L1420.4 833.1L1422.4 829.4L1423.4 828.2L1423.9 827.9L1424.4 827.9L1425.4 828.7L1428.9 834.7L1429.9 835.8L1430.9 836.4L1432.4 836.9L1433.9 837.0L1446.9 836.9L1447.9 836.8L1448.9 836.3L1449.9 835.4L1450.4 834.6L1451.9 830.8L1454.4 822.4L1454.9 821.5L1455.4 821.0L1455.9 821.2L1456.9 823.1L1459.4 831.6L1460.9 835.0L1461.4 835.7L1462.4 836.5L1464.4 836.9L1557.9 836.9L1559.9 836.4L1561.4 835.2L1562.4 833.8L1564.9 829.3L1565.9 828.2L1566.4 827.9L1566.9 827.9L1567.9 828.8L1570.9 834.0L1571.9 835.3L1572.9 836.1L1574.4 836.8L1577.9 837.0L1607.9 836.9L1609.9 836.5L1611.4 835.3L1612.9 832.8L1615.9 825.6L1616.9 824.5L1617.4 824.5L1617.9 824.8L1618.9 826.5L1621.4 832.7L1622.4 834.5L1623.9 836.1L1625.4 836.8L1628.9 837.0L1677.9 837.0L1679.4 836.8L1680.4 836.5L1681.4 835.7L1682.4 834.3L1683.9 830.4L1686.4 821.7L1686.9 820.6L1687.4 820.0L1687.9 819.9L1688.4 820.4L1689.4 822.8L1691.4 829.9L1692.9 834.0L1693.4 834.9L1694.4 836.1L1695.9 836.8L1698.4 837.0L1713.4 837.0L1715.9 836.9L1717.4 836.7L1718.9 835.9L1719.9 834.9L1723.4 828.9L1724.4 828.0L1724.9 827.9L1725.4 828.1L1726.4 829.1L1728.9 833.6L1729.9 835.0L1730.9 836.0L1731.9 836.5L1732.9 836.8L1734.9 837.0L1747.4 837.0L1749.4 836.8L1750.4 836.4L1751.4 835.6L1752.4 834.1L1753.9 830.0L1756.4 820.5L1757.4 818.1L1757.9 817.6L1758.4 817.7L1759.4 819.6L1762.4 830.7L1763.4 833.5L1764.9 835.8L1766.4 836.7L1768.4 837.0L1771.9 836.9L1773.9 836.7L1777.4 836.0L1778.9 835.9L1783.9 836.8L1786.9 837.0L1832.4 837.0L1833.4 836.9L1834.4 836.5L1835.4 835.5L1836.4 833.3L1836.9 831.5L1837.9 826.1L1840.4 807.7L1840.9 805.3L1841.4 804.0L1841.9 804.0L1842.4 805.3L1842.9 807.8L1845.4 826.2L1846.4 831.5L1847.4 834.6L1847.9 835.5L1848.9 836.5L1849.9 836.8L1850.9 836.6L1851.9 835.6L1852.4 834.7L1853.4 831.6L1855.4 822.3L1855.9 820.7L1856.4 819.9L1856.9 820.2L1857.4 821.3L1859.9 832.3L1860.4 833.8L1860.9 834.7L1861.4 835.3L1861.9 835.4L1862.9 834.9L1863.9 833.6L1866.4 829.2L1867.4 828.1L1867.9 827.9L1868.4 828.0L1869.4 828.9L1872.9 834.8L1873.9 835.9L1874.9 836.5L1876.4 836.9L1877.9 837.0L1886.9 836.9L1888.9 836.3L1889.9 835.5L1890.4 834.8L1891.4 832.4L1892.4 828.4L1893.9 818.5L1897.4 786.2L1898.4 781.6L1898.9 780.9L1899.4 781.5L1899.9 783.1L1902.9 802.9L1903.4 805.1L1903.9 806.4L1904.4 806.7L1904.9 806.1L1905.4 804.5L1907.9 792.6L1908.4 791.5L1908.9 791.3L1909.4 792.1L1910.4 796.8L1913.4 821.2L1914.9 830.0L1915.9 833.4L1916.9 835.3L1917.9 836.3L1919.4 836.8L1922.9 837.0L1990.9 837.0L1995.9 836.8L1997.4 836.1L1998.4 834.9L1998.9 833.8L1999.9 831.0L2001.9 824.0L2002.4 822.8L2002.9 822.2L2003.4 822.3L2003.9 823.0L2004.4 824.2L2006.4 831.2L2007.4 834.0L2008.4 835.7L2008.9 836.1L2009.9 836.6L2011.4 836.6L2014.4 835.7L2015.9 835.5L2017.4 835.7L2020.9 836.7L2023.4 837.0L2048.9 837.0L2051.9 836.8L2053.4 836.1L2054.9 834.2L2056.4 830.4L2058.9 821.9L2059.9 820.1L2060.4 819.9L2060.9 820.1L2061.4 820.8L2062.9 824.1L2063.9 825.5L2064.4 825.6L2064.9 825.0L2065.9 821.8L2068.9 805.5L2069.4 804.1L2069.9 803.7L2070.4 804.2L2071.2 806.9" fill="none" stroke="#1d6fe1" stroke-width="4.7" stroke-linejoin="round"/>
<path d="M1139.9 819.6L1142.4 829.1L1143.9 833.6L1144.9 835.3L1145.9 836.3L1146.9 836.7L1148.4 836.9L1150.9 836.7L1152.9 836.3L1154.4 835.7L1155.9 834.7L1157.4 833.3L1158.9 831.5L1162.9 825.3L1164.4 823.3L1165.9 822.0L1167.4 821.6L1168.4 822.0L1169.9 823.3L1171.4 825.3L1175.4 831.5L1177.9 834.3L1180.4 835.9L1181.9 836.4L1183.9 836.8L1192.4 837.0L1193.9 836.8L1195.4 836.3L1196.4 835.5L1197.4 834.2L1198.4 832.2L1200.9 826.0L1201.9 824.7L1202.4 824.5L1202.9 824.6L1203.4 825.1L1205.9 829.8L1206.9 831.0L1207.4 831.2L1207.9 831.1L1208.9 830.3L1210.9 828.1L1211.9 828.0L1212.4 828.2L1213.4 829.5L1215.9 833.9L1216.9 835.3L1218.4 836.4L1219.9 836.8L1227.4 836.9L1228.9 836.7L1230.4 836.0L1231.4 835.0L1232.4 833.4L1235.4 826.8L1236.4 825.7L1236.9 825.6L1237.4 825.9L1238.4 827.3L1240.9 832.8L1241.9 834.6L1243.4 836.2L1244.9 836.8L1248.9 837.0L1293.9 836.9L1294.9 836.7L1295.9 836.1L1296.9 834.9L1297.4 833.9L1298.4 831.2L1300.9 822.6L1301.4 821.5L1301.9 821.1L1302.4 821.2L1303.4 823.1L1305.9 831.8L1306.9 834.3L1307.9 835.8L1308.4 836.2L1309.4 836.6L1310.9 836.6L1314.9 836.0L1319.9 836.8L1322.9 837.0L1353.4 837.0L1356.9 836.8L1358.4 836.4L1359.9 835.1L1360.9 833.8L1363.4 829.3L1364.4 828.1L1364.9 827.9L1365.4 828.0L1366.4 828.8L1368.4 832.1L1369.4 833.4L1370.4 833.9L1370.9 833.7L1371.4 833.3L1372.4 831.6L1375.4 824.3L1375.9 823.6L1376.4 823.3L1376.9 823.5L1377.9 824.8L1380.4 831.5L1381.9 834.6L1382.9 835.8L1384.4 836.7L1385.9 836.9L1387.9 837.0L1414.4 837.0L1415.9 836.8L1416.9 836.4L1417.9 835.6L1418.9 834.1L1419.9 831.6L1422.9 821.5L1423.4 820.5L1423.9 819.9L1424.4 820.0L1424.9 820.5L1425.4 821.5L1428.4 831.7L1429.9 835.0L1431.4 836.4L1432.4 836.8L1433.9 837.0L1557.4 837.0L1559.4 836.7L1560.9 836.2L1562.4 835.0L1564.9 832.2L1565.9 831.5L1566.4 831.4L1566.9 831.4L1567.9 831.9L1570.9 835.1L1571.9 835.9L1572.9 836.5L1574.4 836.8L1577.9 837.0L1607.9 836.9L1609.9 836.6L1611.4 835.8L1612.9 833.9L1615.9 828.7L1616.9 827.9L1617.4 827.9L1617.9 828.2L1618.9 829.4L1621.4 833.9L1622.9 835.7L1624.4 836.6L1626.9 837.0L1811.4 837.0L1815.4 836.7L1819.4 835.1L1820.9 834.8L1822.4 835.0L1826.4 836.6L1829.4 837.0L1883.4 837.0L1884.4 836.8L1885.4 836.4L1886.4 835.1L1887.4 832.2L1887.9 829.7L1889.4 816.5L1891.9 783.4L1892.4 779.1L1892.9 776.7L1893.4 776.6L1893.9 778.7L1894.4 782.9L1896.9 815.8L1897.9 825.9L1898.4 829.4L1899.4 833.8L1900.4 835.8L1901.4 836.5L1902.4 836.6L1903.4 836.2L1904.4 835.3L1906.9 832.1L1907.9 831.4L1908.4 831.4L1909.4 832.0L1912.4 835.7L1913.4 836.4L1914.9 836.9L1940.9 837.0L1942.9 836.7L1943.9 836.2L1944.9 834.9L1945.4 833.8L1946.4 830.1L1946.9 827.5L1947.9 820.3L1949.9 802.9L1950.9 797.1L1951.4 795.9L1951.9 796.1L1952.4 797.6L1952.9 800.3L1955.4 821.4L1956.9 830.7L1957.4 832.7L1958.4 835.1L1959.4 836.3L1960.4 836.8L1962.9 837.0L1975.9 837.0L1978.4 836.9L1979.9 836.6L1980.9 836.2L1981.9 835.4L1982.9 834.2L1985.4 830.3L1986.4 829.3L1986.9 829.1L1987.4 829.1L1988.4 829.8L1991.4 834.4L1992.4 835.5L1993.4 836.3L1994.4 836.7L1996.4 836.8L1997.9 836.5L1999.4 835.5L2001.9 833.0L2002.9 832.5L2003.4 832.6L2004.4 833.1L2007.4 836.1L2008.4 836.5L2009.4 836.4L2010.4 835.3L2010.9 834.1L2011.9 829.5L2014.9 803.0L2015.4 800.8L2015.9 800.6L2016.4 802.2L2016.9 805.6L2019.4 828.7L2020.4 833.7L2020.9 835.1L2021.9 836.4L2022.9 836.9L2023.9 837.0L2037.4 837.0L2039.4 836.7L2040.4 836.2L2040.9 835.7L2041.9 833.9L2042.9 830.5L2043.9 825.4L2046.4 808.8L2046.9 806.6L2047.4 805.3L2047.9 805.0L2048.4 805.8L2049.4 810.1L2052.4 829.3L2053.4 833.1L2053.9 834.4L2054.9 835.9L2055.9 836.6L2056.9 836.9L2062.4 836.9L2064.9 836.2L2068.9 833.8L2069.9 833.6L2071.2 833.9" fill="none" stroke="#3aad69" stroke-width="4.7" stroke-linejoin="round"/>
<path d="M1139.9 976.4L1140.9 969.4L1141.4 967.3L1141.9 966.3L1142.4 966.5L1142.9 967.8L1143.4 970.3L1144.4 978.3L1148.4 1021.9L1149.4 1028.3L1149.9 1029.8L1150.4 1030.0L1150.9 1028.6L1151.9 1020.6L1152.9 1005.6L1153.9 984.0L1156.4 918.8L1157.4 898.9L1157.9 892.5L1158.4 889.0L1158.9 888.6L1159.4 891.5L1159.9 897.5L1160.9 918.0L1164.9 1041.4L1165.9 1065.3L1166.9 1083.4L1168.4 1100.8L1168.9 1104.5L1169.9 1109.6L1170.9 1112.6L1171.9 1114.2L1172.9 1115.0L1174.4 1115.5L1175.9 1115.6L1177.4 1115.5L1178.4 1115.0L1178.9 1114.6L1179.9 1112.8L1180.4 1111.2L1181.4 1106.1L1182.9 1091.6L1185.4 1053.5L1186.4 1041.5L1186.9 1038.0L1187.4 1036.5L1187.9 1036.9L1188.4 1039.0L1190.4 1053.2L1190.9 1054.7L1191.4 1054.1L1191.9 1050.9L1192.4 1045.0L1193.4 1025.0L1196.4 938.8L1197.4 923.0L1197.9 920.7L1198.4 922.4L1198.9 928.0L1199.4 937.3L1202.9 1043.9L1203.9 1066.5L1204.9 1079.5L1205.4 1082.3L1205.9 1082.6L1206.4 1080.6L1206.9 1076.5L1207.9 1063.0L1210.9 1008.1L1211.9 997.1L1212.4 994.6L1212.9 994.1L1213.4 995.6L1213.9 998.8L1215.9 1020.2L1216.9 1028.4L1217.4 1030.5L1217.9 1031.0L1218.4 1030.3L1219.9 1026.0L1220.4 1026.2L1220.9 1028.0L1221.9 1037.6L1224.4 1081.5L1225.9 1101.7L1226.4 1106.0L1227.4 1111.5L1228.4 1114.1L1228.9 1114.7L1229.9 1115.4L1231.4 1115.4L1232.4 1114.8L1232.9 1114.2L1233.9 1112.0L1234.9 1107.5L1236.4 1094.4L1239.4 1051.7L1240.4 1043.3L1240.9 1042.1L1241.4 1043.2L1242.4 1051.3L1244.9 1087.5L1245.9 1099.1L1246.9 1106.5L1247.4 1108.6L1247.9 1109.7L1248.4 1110.0L1248.9 1109.3L1249.4 1107.8L1249.9 1105.3L1250.9 1097.6L1251.9 1086.3L1254.4 1052.3L1255.4 1043.5L1255.9 1041.5L1256.4 1041.0L1256.9 1042.1L1259.4 1057.1L1259.9 1059.0L1260.4 1059.6L1260.9 1059.1L1261.4 1057.3L1263.9 1041.5L1264.4 1039.4L1264.9 1038.5L1265.4 1038.7L1265.9 1040.0L1268.4 1054.5L1268.9 1056.3L1269.4 1057.1L1269.9 1056.6L1270.4 1054.9L1272.4 1042.2L1272.9 1040.0L1273.4 1039.3L1273.9 1040.3L1274.9 1047.8L1277.9 1091.5L1278.9 1102.3L1279.4 1106.2L1280.4 1111.4L1281.4 1113.9L1281.9 1114.5L1282.4 1114.8L1282.9 1114.9L1283.9 1114.2L1284.9 1112.0L1285.9 1107.4L1286.4 1103.9L1287.9 1087.0L1290.4 1050.1L1290.9 1045.4L1291.4 1042.7L1291.9 1042.2L1292.4 1044.0L1292.9 1047.7L1294.9 1072.5L1295.9 1082.7L1296.4 1085.7L1296.9 1087.2L1297.4 1087.1L1297.9 1085.5L1298.9 1078.6L1302.4 1041.3L1303.4 1035.1L1303.9 1033.5L1304.4 1032.9L1304.9 1033.3L1306.9 1038.3L1307.4 1038.8L1307.9 1038.7L1308.4 1037.8L1309.4 1035.0L1309.9 1034.2L1310.4 1034.4L1310.9 1036.3L1311.9 1045.8L1314.4 1087.8L1315.4 1101.0L1315.9 1105.6L1316.9 1111.5L1317.9 1114.2L1318.9 1115.1L1319.9 1115.2L1320.4 1115.0L1321.4 1113.7L1322.4 1110.2L1322.9 1107.2L1323.9 1097.3L1324.4 1090.4L1326.9 1048.6L1327.4 1043.9L1327.9 1042.1L1328.4 1043.4L1328.9 1047.7L1331.4 1089.2L1332.4 1102.2L1332.9 1106.6L1333.9 1112.1L1334.4 1113.5L1335.4 1115.0L1335.9 1115.3L1336.9 1115.3L1337.9 1114.6L1338.4 1113.9L1339.4 1110.9L1340.4 1104.9L1341.9 1087.7L1344.4 1049.0L1344.9 1044.5L1345.4 1042.3L1345.9 1042.6L1346.4 1045.5L1347.4 1057.1L1349.4 1085.8L1350.4 1093.8L1350.9 1095.3L1351.4 1095.1L1351.9 1093.4L1352.9 1086.1L1355.4 1057.6L1356.4 1048.4L1356.9 1045.5L1357.4 1043.9L1357.9 1043.7L1358.4 1045.1L1358.9 1047.8L1359.9 1056.6L1362.4 1086.3L1363.4 1095.9L1364.4 1102.1L1364.9 1103.4L1365.4 1103.5L1365.9 1102.0L1366.4 1098.9L1366.9 1094.0L1369.4 1053.4L1369.9 1046.9L1370.4 1043.0L1370.9 1042.2L1371.4 1044.7L1371.9 1050.0L1374.4 1092.7L1374.9 1099.4L1375.9 1108.4L1376.9 1112.9L1377.4 1114.0L1378.4 1115.2L1379.4 1115.5L1380.9 1115.5L1381.9 1115.2L1382.9 1114.1L1383.9 1111.5L1384.4 1109.2L1385.4 1101.9L1386.4 1090.1L1388.9 1051.0L1389.4 1045.7L1389.9 1042.7L1390.4 1042.3L1390.9 1044.4L1391.9 1055.3L1393.9 1087.5L1394.9 1100.1L1395.9 1108.2L1396.4 1110.8L1397.4 1113.8L1397.9 1114.6L1398.9 1115.3L1400.9 1115.7L1433.9 1115.7L1435.9 1115.6L1436.9 1115.2L1437.9 1114.2L1438.4 1113.2L1439.4 1109.1L1440.4 1100.6L1440.9 1093.9L1442.4 1061.6L1444.9 986.6L1445.9 969.6L1446.4 967.7L1446.9 970.5L1447.9 988.7L1450.4 1064.0L1451.9 1095.2L1452.9 1106.3L1453.9 1111.9L1454.9 1114.3L1455.4 1114.9L1456.4 1115.5L1459.9 1115.7L1571.4 1115.7L1574.4 1115.6L1575.9 1115.1L1576.9 1114.1L1577.9 1111.8L1578.9 1107.3L1579.4 1103.8L1580.9 1087.8L1583.4 1051.7L1584.4 1043.3L1584.9 1042.1L1585.4 1043.1L1586.4 1051.0L1589.4 1093.4L1590.4 1103.4L1591.4 1109.7L1592.4 1113.1L1592.9 1114.0L1593.9 1115.1L1594.9 1115.5L1596.4 1115.7L1598.9 1115.6L1600.4 1115.3L1601.4 1114.5L1601.9 1113.7L1602.9 1110.9L1603.9 1105.5L1604.4 1101.4L1605.4 1090.2L1607.9 1052.9L1608.9 1043.3L1609.4 1041.6L1609.9 1042.1L1610.4 1044.9L1610.9 1049.7L1613.4 1086.7L1614.9 1103.6L1615.4 1107.2L1616.4 1111.9L1617.4 1114.2L1618.4 1115.2L1619.9 1115.6L1621.9 1115.7L1667.4 1115.7L1669.9 1115.4L1670.9 1114.8L1671.4 1114.3L1672.4 1112.1L1672.9 1110.3L1673.9 1104.4L1674.4 1100.1L1675.4 1088.7L1677.9 1052.4L1678.9 1043.6L1679.4 1042.1L1679.9 1042.9L1680.4 1045.8L1680.9 1050.5L1683.9 1093.0L1684.9 1103.2L1685.9 1109.6L1686.9 1113.0L1687.4 1114.0L1688.4 1115.1L1689.4 1115.5L1690.9 1115.6L1692.4 1115.4L1693.4 1114.9L1694.4 1113.4L1694.9 1112.2L1695.9 1107.8L1696.4 1104.5L1697.9 1088.6L1700.4 1051.9L1701.4 1043.4L1701.9 1042.1L1702.4 1043.1L1703.4 1051.4L1705.9 1087.9L1706.9 1099.7L1707.4 1104.1L1708.4 1110.1L1708.9 1112.0L1709.9 1114.2L1710.9 1115.2L1711.9 1115.5L1713.4 1115.6L1714.9 1115.1L1715.9 1114.0L1716.4 1113.0L1717.4 1109.4L1718.4 1102.8L1719.4 1092.3L1722.4 1049.3L1722.9 1044.9L1723.4 1042.5L1723.9 1042.3L1724.4 1044.4L1725.4 1054.5L1728.4 1097.3L1728.9 1102.2L1729.9 1109.1L1730.9 1112.8L1731.4 1113.9L1732.4 1115.0L1733.9 1115.6L1735.4 1115.4L1736.4 1114.9L1737.4 1113.6L1738.4 1110.7L1738.9 1108.2L1739.9 1100.8L1740.9 1089.5L1743.4 1052.7L1744.4 1043.7L1744.9 1042.2L1745.4 1042.9L1745.9 1045.8L1746.4 1050.7L1749.4 1093.7L1750.4 1103.7L1751.4 1109.9L1751.9 1111.9L1752.9 1114.2L1753.4 1114.8L1754.4 1115.4L1755.9 1115.7L1759.9 1115.7L1761.9 1115.6L1762.9 1115.3L1763.9 1114.5L1764.4 1113.8L1765.4 1111.1L1766.4 1106.0L1766.9 1102.3L1768.4 1085.6L1770.9 1049.8L1771.9 1040.8L1772.4 1038.6L1772.9 1037.9L1773.4 1038.3L1774.9 1042.8L1775.4 1043.7L1775.9 1043.6L1776.4 1042.2L1777.4 1035.4L1780.4 1001.2L1780.9 997.6L1781.4 995.5L1781.9 995.2L1782.4 996.7L1782.9 1000.0L1783.9 1011.4L1787.4 1071.7L1788.9 1091.6L1789.9 1100.8L1790.9 1106.9L1791.9 1110.6L1792.4 1111.6L1792.9 1112.1L1793.4 1112.1L1793.9 1111.6L1794.4 1110.3L1794.9 1108.2L1795.9 1100.7L1796.4 1094.9L1797.9 1067.8L1800.9 992.5L1801.4 984.7L1801.9 980.1L1802.4 979.3L1802.9 982.1L1803.9 997.8L1806.4 1062.3L1807.4 1083.7L1808.9 1103.6L1809.4 1107.4L1810.4 1112.1L1810.9 1113.4L1811.9 1114.9L1812.9 1115.4L1813.9 1115.6L1845.4 1115.7L1846.9 1115.5L1847.9 1115.0L1848.9 1113.8L1849.4 1112.6L1850.4 1108.5L1850.9 1105.0L1851.9 1093.9L1852.9 1075.5L1853.9 1048.5L1856.9 947.1L1857.4 936.4L1857.9 930.1L1858.4 928.5L1858.9 931.9L1859.9 951.9L1862.4 1038.0L1863.9 1079.1L1864.9 1096.1L1865.4 1101.9L1866.4 1109.3L1867.4 1113.0L1868.4 1114.7L1869.4 1115.3L1870.4 1115.6L1873.9 1115.6L1875.4 1114.9L1876.4 1113.4L1877.4 1110.0L1877.9 1107.0L1878.9 1097.2L1879.9 1080.9L1883.4 992.6L1883.9 984.9L1884.4 980.8L1884.9 980.7L1885.4 984.7L1885.9 992.3L1888.9 1069.8L1890.4 1097.1L1891.4 1106.9L1892.4 1112.0L1892.9 1113.4L1893.9 1114.9L1894.9 1115.4L1896.4 1115.5L1897.9 1115.1L1898.9 1114.4L1899.4 1113.8L1900.4 1111.9L1901.4 1108.1L1902.4 1101.5L1902.9 1096.6L1903.9 1082.3L1904.9 1060.5L1905.9 1030.2L1908.4 931.4L1909.4 898.4L1909.9 887.1L1910.4 880.2L1910.9 878.1L1911.4 880.7L1912.4 898.9L1915.9 1018.5L1917.4 1058.8L1918.9 1084.1L1919.4 1089.3L1919.9 1092.9L1920.4 1094.9L1920.9 1095.5L1921.4 1094.6L1922.4 1088.6L1925.4 1053.1L1926.4 1045.2L1926.9 1043.7L1927.4 1044.0L1927.9 1046.1L1928.4 1049.9L1931.4 1088.4L1932.9 1103.3L1933.4 1106.7L1934.4 1111.3L1934.9 1112.7L1935.9 1114.4L1936.4 1114.9L1937.4 1115.4L1940.4 1115.7L1982.9 1115.7L1985.9 1115.4L1987.4 1114.9L1988.9 1113.4L1990.4 1110.2L1991.4 1106.5L1992.4 1101.1L1994.4 1084.7L1997.4 1053.3L1998.4 1045.9L1998.9 1043.6L1999.4 1042.3L1999.9 1042.2L2000.4 1043.3L2000.9 1045.4L2001.9 1052.5L2004.4 1076.7L2005.4 1082.7L2005.9 1083.4L2006.4 1082.0L2006.9 1078.5L2008.9 1051.2L2009.4 1046.0L2009.9 1043.7L2010.4 1044.8L2010.9 1049.5L2013.4 1094.6L2014.4 1106.5L2014.9 1110.1L2015.4 1112.3L2015.9 1113.6L2016.4 1114.1L2016.9 1114.0L2017.4 1113.4L2018.4 1110.0L2018.9 1106.9L2019.9 1095.7L2020.4 1086.8L2021.4 1060.6L2023.9 974.0L2024.4 964.9L2024.9 962.0L2025.4 965.4L2025.9 974.5L2027.4 1017.3L2028.4 1038.6L2028.9 1043.3L2029.4 1044.2L2029.9 1042.1L2030.9 1035.2L2031.4 1033.4L2031.9 1034.1L2032.4 1037.9L2033.4 1053.7L2035.4 1093.2L2036.4 1105.5L2037.4 1111.8L2037.9 1113.3L2038.4 1114.1L2038.9 1114.5L2039.4 1114.5L2039.9 1114.2L2040.9 1112.9L2041.4 1111.8L2042.4 1108.5L2042.9 1106.1L2043.9 1099.6L2044.9 1090.7L2048.4 1050.2L2049.4 1043.0L2049.9 1041.3L2050.4 1040.9L2050.9 1041.8L2051.4 1043.9L2054.4 1064.8L2054.9 1066.3L2055.4 1066.3L2055.9 1064.7L2056.4 1061.2L2057.4 1049.0L2060.4 991.8L2061.4 980.9L2061.9 979.6L2062.4 981.6L2063.4 994.6L2066.4 1067.1L2067.9 1093.5L2068.4 1099.3L2069.4 1107.3L2070.4 1111.7L2071.2 1113.6" fill="none" stroke="#4f4f4f" stroke-width="4.0" stroke-linejoin="round"/>
<path d="M1139.9 1005.1L1140.9 1001.2L1141.4 1000.2L1141.9 1000.0L1142.4 1000.5L1143.4 1003.6L1144.9 1012.7L1147.9 1038.9L1148.9 1046.1L1149.9 1050.2L1150.4 1050.8L1150.9 1050.0L1151.4 1047.9L1151.9 1044.3L1153.4 1024.4L1156.4 960.2L1157.4 942.6L1158.4 932.7L1158.9 931.4L1159.4 932.7L1159.9 936.6L1160.9 951.5L1164.9 1051.8L1165.9 1072.3L1166.9 1087.9L1167.9 1099.0L1169.4 1108.7L1170.4 1112.1L1171.4 1113.9L1172.4 1114.9L1173.9 1115.5L1176.9 1115.6L1177.9 1115.4L1178.9 1114.8L1179.9 1113.3L1180.4 1112.1L1181.4 1108.0L1182.9 1096.4L1185.4 1066.2L1186.4 1056.8L1186.9 1054.0L1187.4 1052.8L1187.9 1053.2L1188.4 1054.8L1190.4 1065.7L1190.9 1066.7L1191.4 1066.2L1191.9 1063.7L1192.4 1059.1L1193.4 1044.1L1196.4 982.8L1196.9 976.5L1197.4 972.6L1197.9 971.5L1198.4 973.2L1199.4 984.8L1202.9 1061.9L1203.9 1077.7L1204.9 1086.2L1205.4 1087.5L1205.9 1086.8L1206.4 1084.3L1207.4 1074.6L1209.4 1046.0L1210.4 1034.2L1210.9 1030.6L1211.4 1028.9L1211.9 1029.1L1212.4 1031.4L1212.9 1035.3L1215.4 1066.0L1216.4 1073.4L1216.9 1074.5L1217.4 1073.8L1217.9 1071.5L1219.9 1056.4L1220.4 1054.4L1220.9 1054.0L1221.4 1055.6L1222.4 1064.1L1224.4 1090.7L1225.9 1105.7L1226.4 1108.9L1227.4 1112.8L1228.4 1114.6L1228.9 1115.1L1229.9 1115.5L1231.4 1115.4L1232.4 1114.9L1232.9 1114.3L1233.9 1112.2L1234.9 1108.0L1236.4 1095.7L1239.4 1055.9L1240.4 1048.1L1240.9 1047.0L1241.4 1048.1L1242.4 1055.8L1244.9 1089.6L1245.9 1100.4L1246.9 1107.2L1247.4 1109.1L1247.9 1110.2L1248.4 1110.3L1248.9 1109.7L1249.4 1108.2L1250.4 1102.8L1251.9 1088.3L1254.4 1057.1L1255.4 1049.2L1255.9 1047.4L1256.4 1047.1L1256.9 1048.2L1257.4 1050.5L1259.9 1066.8L1260.4 1068.5L1260.9 1069.2L1261.4 1068.9L1261.9 1067.8L1264.4 1057.7L1264.9 1056.6L1265.4 1056.1L1265.9 1056.4L1266.4 1057.4L1268.9 1066.0L1269.4 1066.6L1269.9 1066.3L1270.9 1063.1L1272.4 1055.3L1272.9 1053.5L1273.4 1052.7L1273.9 1053.4L1274.4 1055.6L1274.9 1059.3L1277.9 1095.3L1279.4 1107.7L1280.4 1112.0L1281.4 1114.2L1282.4 1114.9L1283.4 1114.8L1283.9 1114.3L1284.9 1112.3L1285.4 1110.4L1286.4 1104.5L1286.9 1100.2L1287.9 1088.6L1290.4 1053.5L1290.9 1049.0L1291.4 1046.4L1291.9 1046.0L1292.4 1047.7L1292.9 1051.2L1294.9 1074.6L1295.9 1084.1L1296.4 1086.8L1296.9 1088.0L1297.4 1087.7L1297.9 1086.0L1298.9 1078.9L1302.4 1042.2L1303.4 1036.2L1303.9 1034.8L1304.4 1034.5L1304.9 1035.0L1305.4 1036.3L1306.9 1041.3L1307.4 1042.3L1307.9 1042.5L1308.4 1042.0L1309.9 1039.1L1310.4 1039.3L1310.9 1041.0L1311.9 1049.8L1314.4 1089.5L1315.4 1101.9L1315.9 1106.3L1316.9 1111.8L1317.9 1114.3L1318.9 1115.2L1319.9 1115.3L1320.4 1115.1L1321.4 1114.0L1322.4 1110.8L1322.9 1108.0L1323.9 1098.7L1324.4 1092.1L1326.9 1052.1L1327.4 1047.6L1327.9 1045.9L1328.4 1047.2L1328.9 1051.3L1331.4 1091.0L1332.9 1107.4L1333.4 1110.4L1334.4 1113.8L1335.4 1115.1L1336.4 1115.4L1337.4 1115.1L1337.9 1114.6L1338.9 1112.8L1339.9 1108.7L1340.4 1105.5L1341.9 1089.9L1344.4 1055.5L1344.9 1051.4L1345.4 1049.5L1345.9 1049.8L1346.4 1052.3L1347.4 1062.5L1349.4 1087.9L1350.4 1094.8L1350.9 1095.9L1351.4 1095.4L1351.9 1093.5L1352.9 1086.1L1355.4 1057.5L1356.4 1048.4L1356.9 1045.5L1357.4 1043.9L1357.9 1043.7L1358.4 1045.1L1359.4 1051.7L1362.9 1091.7L1363.9 1100.0L1364.4 1102.7L1364.9 1104.4L1365.4 1104.8L1365.9 1103.8L1366.4 1101.2L1366.9 1097.0L1369.9 1053.8L1370.4 1050.2L1370.9 1049.4L1371.4 1051.7L1371.9 1056.7L1374.4 1096.0L1374.9 1102.0L1375.9 1109.9L1376.9 1113.6L1377.4 1114.6L1378.4 1115.4L1379.9 1115.6L1381.4 1115.5L1382.4 1115.0L1383.4 1113.6L1384.4 1110.3L1385.4 1104.0L1386.4 1093.6L1388.9 1058.5L1389.4 1053.8L1389.9 1051.0L1390.4 1050.6L1390.9 1052.5L1391.4 1056.6L1393.9 1091.3L1394.9 1102.4L1395.9 1109.5L1396.4 1111.7L1397.4 1114.2L1397.9 1114.8L1398.9 1115.4L1400.9 1115.7L1433.9 1115.7L1435.9 1115.6L1436.9 1115.3L1437.9 1114.5L1438.4 1113.6L1439.4 1110.2L1440.4 1102.9L1440.9 1097.2L1442.4 1069.4L1444.9 1004.0L1445.9 989.2L1446.4 987.5L1446.9 989.9L1447.9 1005.9L1450.4 1071.5L1451.9 1098.3L1452.4 1103.8L1453.4 1110.6L1454.4 1113.8L1454.9 1114.6L1455.9 1115.4L1456.9 1115.6L1459.4 1115.7L1571.4 1115.7L1574.4 1115.6L1575.9 1115.2L1576.9 1114.3L1577.9 1112.2L1578.9 1108.0L1579.4 1104.8L1580.9 1090.1L1583.4 1057.0L1584.4 1049.3L1584.9 1048.2L1585.4 1049.1L1586.4 1056.4L1588.9 1089.4L1590.4 1104.4L1590.9 1107.7L1591.9 1112.0L1592.9 1114.2L1593.4 1114.8L1594.4 1115.4L1595.9 1115.6L1598.4 1115.7L1599.9 1115.6L1600.9 1115.2L1601.9 1114.4L1602.4 1113.6L1603.4 1110.7L1604.4 1105.3L1604.9 1101.4L1607.9 1066.5L1608.9 1058.1L1609.4 1056.4L1609.9 1056.5L1610.4 1058.5L1610.9 1062.1L1613.4 1091.8L1614.9 1105.7L1615.4 1108.7L1616.4 1112.5L1616.9 1113.7L1617.9 1115.0L1619.4 1115.6L1621.4 1115.7L1664.4 1115.7L1668.9 1115.6L1669.9 1115.4L1670.9 1114.9L1671.9 1113.7L1672.9 1111.0L1673.9 1105.9L1674.4 1102.2L1675.4 1092.2L1677.9 1060.6L1678.9 1052.9L1679.4 1051.7L1679.9 1052.3L1680.4 1054.8L1680.9 1059.0L1683.4 1090.4L1684.9 1104.8L1685.9 1110.4L1686.4 1112.1L1687.4 1114.2L1688.4 1115.2L1689.4 1115.5L1691.4 1115.6L1692.9 1115.3L1693.9 1114.6L1694.4 1114.0L1695.4 1111.6L1696.4 1107.0L1697.4 1099.4L1700.4 1065.2L1701.4 1058.3L1701.9 1057.4L1702.4 1058.2L1703.4 1064.7L1706.4 1098.9L1707.9 1109.4L1708.9 1112.9L1709.4 1113.9L1710.4 1115.0L1711.9 1115.6L1713.9 1115.5L1714.9 1115.2L1715.9 1114.3L1716.9 1112.3L1717.4 1110.5L1718.4 1105.0L1719.9 1090.6L1722.4 1060.0L1722.9 1056.3L1723.4 1054.2L1723.9 1054.1L1724.4 1055.9L1724.9 1059.4L1727.9 1095.5L1729.4 1107.8L1730.4 1112.1L1731.4 1114.2L1731.9 1114.8L1732.9 1115.4L1733.9 1115.6L1735.4 1115.5L1736.4 1115.0L1736.9 1114.5L1737.9 1112.6L1738.9 1108.7L1739.4 1105.6L1740.9 1090.9L1743.4 1056.0L1744.4 1047.4L1744.9 1045.9L1745.4 1046.6L1745.9 1049.4L1746.4 1054.0L1749.4 1094.8L1750.4 1104.4L1751.4 1110.3L1752.4 1113.4L1752.9 1114.3L1753.9 1115.2L1755.9 1115.7L1760.4 1115.7L1762.4 1115.5L1763.4 1115.0L1763.9 1114.5L1764.9 1112.7L1765.9 1108.9L1766.9 1102.3L1767.9 1092.0L1770.4 1056.2L1771.4 1044.6L1771.9 1040.9L1772.4 1038.6L1772.9 1037.9L1773.4 1038.4L1774.9 1043.0L1775.4 1044.1L1775.9 1044.1L1776.4 1042.9L1777.4 1036.8L1780.4 1006.0L1780.9 1003.0L1781.4 1001.4L1781.9 1001.5L1782.4 1003.2L1783.4 1011.3L1784.4 1024.5L1787.4 1073.6L1788.4 1086.9L1789.4 1097.1L1790.4 1104.4L1790.9 1107.1L1791.9 1110.6L1792.4 1111.7L1792.9 1112.2L1793.4 1112.2L1793.9 1111.7L1794.4 1110.5L1795.4 1105.6L1795.9 1101.5L1796.9 1089.2L1797.9 1070.8L1800.9 1001.7L1801.4 994.6L1801.9 990.6L1802.4 990.0L1802.9 992.7L1803.9 1007.3L1806.4 1066.7L1807.9 1093.8L1808.4 1099.8L1809.4 1108.0L1809.9 1110.6L1810.9 1113.6L1811.4 1114.4L1812.4 1115.3L1813.4 1115.6L1814.9 1115.7L1846.9 1115.7L1848.9 1115.5L1850.4 1114.6L1851.4 1113.1L1851.9 1111.8L1852.9 1107.8L1854.4 1097.3L1856.9 1074.4L1857.9 1069.4L1858.4 1068.8L1858.9 1069.6L1859.9 1075.0L1862.9 1101.9L1864.4 1110.3L1865.4 1113.2L1865.9 1114.1L1866.9 1115.1L1868.4 1115.6L1872.4 1115.7L1874.9 1115.3L1875.9 1114.6L1876.4 1113.8L1877.4 1110.8L1878.4 1104.6L1879.4 1093.3L1880.4 1075.7L1883.4 1005.2L1883.9 997.9L1884.4 993.9L1884.9 993.5L1885.4 996.8L1886.4 1012.8L1888.9 1073.5L1890.4 1098.5L1891.4 1107.5L1892.4 1112.3L1892.9 1113.6L1893.9 1114.9L1894.9 1115.4L1895.9 1115.5L1897.4 1115.3L1898.4 1114.9L1899.4 1113.9L1900.4 1112.1L1901.4 1108.9L1901.9 1106.6L1903.4 1095.5L1904.4 1083.8L1905.4 1068.3L1909.4 988.4L1910.4 975.5L1910.9 971.9L1911.4 970.4L1911.9 971.0L1912.4 973.8L1913.4 985.2L1917.4 1064.0L1918.9 1085.4L1919.9 1093.3L1920.4 1095.2L1920.9 1095.6L1921.4 1094.6L1921.9 1092.3L1922.9 1083.8L1925.9 1048.5L1926.4 1045.2L1926.9 1043.7L1927.4 1044.0L1927.9 1046.1L1928.9 1055.1L1931.4 1088.4L1932.9 1103.3L1933.4 1106.7L1934.4 1111.3L1935.4 1113.7L1936.4 1114.9L1937.9 1115.5L1939.9 1115.7L1982.9 1115.7L1986.4 1115.3L1987.4 1114.9L1988.4 1114.0L1989.4 1112.6L1990.4 1110.2L1991.4 1106.6L1992.4 1101.3L1993.9 1090.3L1997.4 1057.8L1998.4 1051.4L1998.9 1049.4L1999.4 1048.3L1999.9 1048.2L2000.4 1049.1L2000.9 1050.9L2001.9 1057.0L2004.4 1078.3L2005.4 1083.6L2005.9 1084.0L2006.4 1082.4L2006.9 1078.7L2008.9 1051.2L2009.4 1046.0L2009.9 1043.7L2010.4 1044.8L2010.9 1049.5L2013.4 1094.6L2014.4 1106.6L2014.9 1110.2L2015.9 1114.0L2016.4 1114.8L2016.9 1115.1L2017.4 1115.2L2017.9 1115.0L2018.4 1114.4L2018.9 1113.3L2019.4 1111.3L2020.4 1103.4L2020.9 1096.6L2021.9 1076.4L2023.9 1027.3L2024.4 1020.6L2024.9 1018.4L2025.4 1020.9L2025.9 1027.4L2027.4 1055.6L2027.9 1062.0L2028.4 1065.0L2028.9 1064.3L2029.4 1060.3L2030.9 1041.4L2031.4 1037.6L2031.9 1036.9L2032.4 1039.7L2032.9 1045.8L2035.4 1093.3L2036.4 1105.5L2036.9 1109.3L2037.9 1113.4L2038.4 1114.3L2038.9 1114.7L2039.4 1114.8L2040.4 1114.2L2041.4 1112.7L2042.4 1110.0L2043.9 1102.6L2045.4 1090.7L2047.9 1066.0L2048.9 1058.7L2049.4 1056.3L2049.9 1055.0L2050.4 1054.8L2050.9 1055.7L2051.9 1060.0L2053.4 1069.5L2054.4 1074.0L2054.9 1074.7L2055.4 1074.2L2055.9 1072.3L2056.4 1069.0L2057.4 1058.3L2059.9 1023.3L2060.9 1015.2L2061.4 1013.8L2061.9 1014.6L2062.4 1017.3L2063.4 1028.2L2066.4 1078.4L2067.9 1097.4L2069.4 1108.3L2070.4 1112.0L2071.2 1113.7" fill="none" stroke="#ef4444" stroke-width="4.7" stroke-linejoin="round"/>
<path d="M1139.9 1110.2L1141.4 1109.8L1142.4 1110.0L1143.4 1110.4L1146.4 1112.6L1147.4 1113.1L1148.4 1113.3L1149.4 1113.1L1150.4 1112.3L1151.9 1110.2L1154.9 1103.8L1155.9 1102.1L1156.9 1101.0L1157.9 1100.9L1158.9 1101.7L1159.9 1103.2L1162.9 1109.7L1164.4 1112.4L1165.4 1113.6L1166.9 1114.8L1168.9 1115.5L1171.9 1115.7L1178.4 1115.6L1179.9 1115.4L1180.9 1115.0L1181.9 1114.3L1182.9 1113.3L1185.4 1109.4L1186.4 1108.2L1186.9 1107.9L1187.9 1107.8L1189.9 1108.8L1190.4 1108.9L1190.9 1108.7L1191.4 1108.1L1191.9 1107.2L1192.4 1105.7L1193.4 1101.4L1196.9 1080.0L1197.4 1078.2L1197.9 1077.1L1198.4 1076.8L1198.9 1077.4L1199.9 1080.9L1202.9 1100.4L1204.4 1108.1L1204.9 1109.9L1205.9 1112.3L1206.4 1113.0L1206.9 1113.3L1207.4 1113.2L1207.9 1112.7L1208.4 1111.8L1208.9 1110.4L1209.9 1105.9L1210.9 1099.1L1213.4 1077.4L1214.4 1072.1L1214.9 1071.1L1215.4 1071.5L1215.9 1073.1L1216.4 1075.8L1219.4 1101.1L1220.9 1109.8L1221.9 1112.9L1222.9 1114.5L1223.9 1115.3L1225.9 1115.7L1261.9 1115.7L1265.4 1115.5L1266.9 1115.0L1268.4 1113.7L1269.4 1112.3L1271.9 1107.8L1272.9 1106.8L1273.4 1106.6L1273.9 1106.7L1274.9 1107.7L1277.4 1112.2L1278.9 1114.2L1280.4 1115.2L1282.9 1115.7L1361.9 1115.7L1365.4 1115.3L1369.4 1113.7L1370.9 1113.5L1372.4 1113.8L1375.9 1115.2L1379.4 1115.7L1436.9 1115.6L1438.4 1115.3L1439.4 1114.7L1440.9 1112.6L1442.4 1108.6L1444.9 1099.6L1445.9 1097.7L1446.4 1097.4L1446.9 1097.8L1447.9 1099.9L1450.4 1108.9L1451.9 1112.8L1452.9 1114.3L1453.9 1115.1L1454.9 1115.5L1456.4 1115.7L1599.9 1115.6L1601.9 1115.3L1603.4 1114.4L1604.9 1112.6L1607.9 1107.4L1608.9 1106.6L1609.4 1106.6L1609.9 1106.9L1610.9 1108.1L1613.4 1112.6L1614.4 1113.9L1615.9 1115.1L1617.9 1115.6L1670.9 1115.6L1672.4 1115.4L1673.9 1114.6L1675.4 1113.2L1677.9 1109.8L1678.9 1109.0L1679.4 1108.9L1679.9 1109.0L1680.9 1109.7L1683.9 1113.6L1685.4 1114.9L1686.4 1115.3L1687.9 1115.6L1692.4 1115.7L1694.9 1115.2L1696.4 1114.2L1697.9 1112.2L1700.4 1107.8L1701.4 1106.7L1701.9 1106.6L1702.4 1106.7L1703.4 1107.7L1705.9 1112.1L1707.4 1114.2L1708.9 1115.2L1711.4 1115.7L1715.4 1115.5L1717.4 1114.8L1718.4 1114.0L1719.4 1112.6L1722.4 1107.5L1723.4 1106.6L1723.9 1106.6L1724.4 1106.9L1725.4 1108.1L1727.9 1112.5L1728.9 1113.9L1730.4 1115.1L1731.4 1115.4L1732.9 1115.6L1774.9 1115.6L1776.4 1115.4L1777.9 1114.9L1778.9 1114.2L1781.9 1111.6L1782.9 1111.2L1783.4 1111.2L1784.9 1111.9L1787.4 1114.1L1788.9 1115.0L1790.9 1115.6L1794.4 1115.6L1795.9 1115.3L1797.4 1114.6L1798.4 1113.8L1801.4 1110.6L1802.4 1110.1L1802.9 1110.0L1803.4 1110.2L1804.4 1110.9L1806.9 1113.7L1807.9 1114.6L1808.9 1115.1L1810.4 1115.5L1814.9 1115.7L1846.4 1115.6L1847.4 1115.4L1848.4 1114.8L1849.4 1113.5L1849.9 1112.3L1850.9 1108.6L1851.9 1101.9L1853.4 1084.6L1856.9 1025.7L1857.9 1017.1L1858.4 1016.1L1858.9 1017.5L1859.9 1026.7L1862.9 1078.1L1864.4 1097.9L1865.4 1106.1L1866.4 1111.0L1867.4 1113.6L1867.9 1114.4L1868.9 1115.2L1870.4 1115.6L1873.9 1115.7L1875.9 1115.5L1877.4 1115.0L1878.4 1114.3L1879.4 1113.1L1882.4 1107.9L1883.4 1106.8L1883.9 1106.6L1884.4 1106.7L1885.4 1107.6L1887.9 1112.0L1889.4 1114.1L1890.9 1115.2L1893.4 1115.7L1901.9 1115.7L1904.9 1115.5L1906.4 1115.2L1909.9 1113.8L1911.4 1113.5L1912.9 1113.7L1916.9 1115.3L1919.9 1115.7L1990.9 1115.7L1992.9 1115.4L1994.4 1114.8L1998.4 1111.6L1999.4 1111.2L1999.9 1111.2L2001.4 1111.9L2004.4 1114.5L2006.4 1115.4L2008.9 1115.7L2015.4 1115.6L2016.9 1115.4L2017.9 1115.0L2019.4 1113.6L2020.9 1110.8L2023.4 1104.7L2024.4 1103.3L2024.9 1103.2L2025.4 1103.4L2026.4 1104.8L2029.4 1112.0L2030.4 1113.7L2031.4 1114.7L2032.4 1115.3L2033.9 1115.6L2038.9 1115.5L2041.4 1114.9L2043.4 1113.6L2044.9 1112.1L2048.4 1107.8L2049.4 1106.8L2050.4 1106.3L2051.4 1106.2L2052.4 1106.6L2055.9 1109.8L2056.4 1110.0L2056.9 1109.8L2057.4 1109.3L2058.4 1106.9L2058.9 1104.8L2060.9 1093.1L2061.9 1088.4L2062.4 1087.3L2062.9 1087.3L2063.4 1088.3L2063.9 1090.4L2066.4 1106.2L2067.4 1110.9L2067.9 1112.4L2068.9 1114.4L2069.9 1115.3L2071.2 1115.6" fill="none" stroke="#1d6fe1" stroke-width="4.7" stroke-linejoin="round"/>
<path d="M1139.9 1094.5L1140.9 1093.3L1141.9 1092.6L1142.4 1092.4L1143.4 1092.5L1144.9 1093.4L1148.9 1097.7L1150.4 1098.4L1151.4 1098.2L1152.4 1097.6L1155.9 1094.1L1156.9 1093.7L1157.9 1094.0L1158.9 1094.9L1159.9 1096.6L1164.4 1107.6L1165.9 1110.7L1166.9 1112.2L1168.4 1113.9L1169.9 1114.8L1171.9 1115.4L1174.9 1115.7L1187.9 1115.7L1189.4 1115.6L1190.9 1115.2L1191.9 1114.6L1192.9 1113.6L1196.4 1107.7L1197.4 1106.7L1197.9 1106.6L1198.4 1106.8L1199.4 1107.8L1201.9 1112.3L1202.9 1113.7L1204.4 1115.0L1205.9 1115.5L1209.4 1115.7L1233.4 1115.6L1235.9 1115.3L1239.9 1113.7L1241.4 1113.5L1242.9 1113.8L1245.9 1115.0L1247.9 1115.5L1250.9 1115.7L1255.4 1115.6L1257.4 1115.0L1258.9 1113.6L1260.4 1111.0L1262.9 1105.5L1263.9 1104.4L1264.4 1104.3L1264.9 1104.6L1265.9 1106.0L1268.4 1111.6L1269.4 1113.3L1270.9 1114.9L1271.9 1115.3L1272.9 1115.6L1284.9 1115.6L1291.9 1114.6L1297.4 1115.5L1302.4 1115.6L1304.9 1115.2L1308.4 1113.8L1309.9 1113.5L1311.4 1113.7L1314.4 1115.0L1315.9 1115.4L1317.9 1115.6L1319.9 1115.6L1321.4 1115.2L1322.9 1114.2L1323.9 1113.2L1326.4 1109.8L1327.4 1109.0L1327.9 1108.9L1328.4 1109.0L1329.4 1109.7L1331.9 1113.1L1333.4 1114.6L1334.4 1115.2L1335.4 1115.5L1337.4 1115.5L1338.9 1114.9L1339.9 1113.9L1340.4 1113.1L1341.9 1109.0L1344.4 1100.2L1344.9 1099.1L1345.4 1098.6L1345.9 1098.7L1346.4 1099.4L1346.9 1100.5L1349.4 1109.5L1350.9 1113.3L1351.4 1114.1L1352.4 1115.0L1353.4 1115.5L1355.4 1115.7L1382.4 1115.6L1384.9 1115.3L1388.9 1113.7L1390.4 1113.5L1391.9 1113.8L1395.9 1115.4L1399.9 1115.7L1575.4 1115.7L1577.9 1115.5L1579.4 1115.0L1580.9 1114.0L1583.4 1111.8L1584.9 1111.2L1586.4 1111.7L1588.9 1113.9L1590.4 1114.9L1592.4 1115.5L1594.9 1115.7L1600.4 1115.7L1602.9 1115.4L1604.9 1114.6L1607.9 1112.6L1609.4 1112.3L1610.9 1112.9L1613.4 1114.5L1614.9 1115.2L1616.4 1115.6L1618.9 1115.7L1693.4 1115.7L1696.4 1115.3L1700.4 1113.8L1701.9 1113.5L1703.4 1113.7L1707.4 1115.3L1711.4 1115.7L1737.4 1115.7L1739.9 1115.5L1744.9 1114.6L1746.4 1114.7L1750.4 1115.5L1754.4 1115.7L1849.4 1115.7L1852.9 1115.5L1858.4 1114.6L1863.4 1115.5L1866.4 1115.7L1899.4 1115.6L1900.4 1115.4L1901.4 1114.9L1902.4 1113.6L1903.4 1110.5L1904.4 1104.5L1905.9 1087.3L1908.9 1034.0L1909.9 1024.1L1910.4 1023.0L1910.9 1024.6L1911.9 1035.3L1914.4 1080.7L1915.9 1100.8L1916.4 1105.2L1917.4 1110.9L1918.4 1113.7L1918.9 1114.5L1919.9 1115.3L1921.4 1115.6L1924.4 1115.7L2012.4 1115.7L2015.9 1115.4L2016.9 1114.9L2017.9 1113.6L2018.9 1111.1L2019.4 1109.2L2020.9 1100.2L2023.4 1079.7L2024.4 1075.1L2024.9 1074.5L2025.4 1075.2L2026.4 1080.0L2028.9 1100.5L2029.9 1107.0L2030.4 1109.4L2031.4 1112.7L2031.9 1113.7L2032.9 1114.9L2033.9 1115.4L2035.4 1115.7L2042.9 1115.6L2044.9 1115.2L2048.4 1113.8L2049.9 1113.5L2051.4 1113.7L2053.9 1114.6L2055.4 1114.7L2056.9 1114.0L2059.9 1110.9L2060.9 1110.2L2061.4 1110.0L2061.9 1110.1L2062.9 1110.6L2065.9 1113.9L2067.4 1115.0L2068.9 1115.5L2071.2 1115.7" fill="none" stroke="#3aad69" stroke-width="4.7" stroke-linejoin="round"/>
<line x1="534.6" y1="225.1" x2="534.6" y2="287.4" stroke="#000" stroke-width="4.8" stroke-dasharray="26.5 16"/>
<line x1="445.5" y1="499.9" x2="445.5" y2="593.2" stroke="#000" stroke-width="4.8" stroke-dasharray="26.5 16"/>
<line x1="459.6" y1="796.9" x2="459.6" y2="848.6" stroke="#000" stroke-width="4.8" stroke-dasharray="26.5 16"/>
<line x1="442.1" y1="1051.0" x2="442.1" y2="1120.4" stroke="#000" stroke-width="4.8" stroke-dasharray="26.5 16"/>
<line x1="1576.3" y1="202.5" x2="1576.3" y2="298.6" stroke="#000" stroke-width="4.8" stroke-dasharray="26.5 16"/>
<line x1="1584.6" y1="501.6" x2="1584.6" y2="571.0" stroke="#000" stroke-width="4.8" stroke-dasharray="26.5 16"/>
<line x1="1591.9" y1="784.0" x2="1591.9" y2="845.9" stroke="#000" stroke-width="4.8" stroke-dasharray="26.5 16"/>
<line x1="1599.4" y1="1058.3" x2="1599.4" y2="1127.3" stroke="#000" stroke-width="4.8" stroke-dasharray="26.5 16"/>
<line x1="490.2" y1="26.6" x2="597.8" y2="26.6" stroke="#4f4f4f" stroke-width="2.9" stroke-linecap="round"/>
<line x1="489.8" y1="86.3" x2="598.0" y2="86.3" stroke="#ef4444" stroke-width="4.9" stroke-linecap="round"/>
<line x1="489.8" y1="145.5" x2="598.0" y2="145.5" stroke="#0b800b" stroke-width="4.9" stroke-linecap="round"/>
<line x1="1556.0" y1="49.2" x2="1663.3" y2="49.2" stroke="#0b800b" stroke-width="4.9" stroke-linecap="round"/>
<line x1="503.7" y1="347.7" x2="610.9" y2="347.7" stroke="#1d6fe1" stroke-width="4.9" stroke-linecap="round"/>
<line x1="1554.4" y1="334.0" x2="1661.7" y2="334.0" stroke="#1d6fe1" stroke-width="4.9" stroke-linecap="round"/>
<line x1="511.8" y1="599.4" x2="618.2" y2="599.4" stroke="#1d6fe1" stroke-width="4.9" stroke-linecap="round"/>
<line x1="511.8" y1="670.4" x2="618.2" y2="670.4" stroke="#3aad69" stroke-width="4.9" stroke-linecap="round"/>
<line x1="1616.9" y1="590.8" x2="1723.5" y2="590.8" stroke="#1d6fe1" stroke-width="4.9" stroke-linecap="round"/>
<line x1="1616.9" y1="661.5" x2="1723.5" y2="661.5" stroke="#3aad69" stroke-width="4.9" stroke-linecap="round"/>
<line x1="479.7" y1="887.5" x2="586.8" y2="887.5" stroke="#1d6fe1" stroke-width="4.9" stroke-linecap="round"/>
<line x1="479.7" y1="957.9" x2="586.8" y2="957.9" stroke="#3aad69" stroke-width="4.9" stroke-linecap="round"/>
<line x1="1575.5" y1="896.4" x2="1682.7" y2="896.4" stroke="#1d6fe1" stroke-width="4.9" stroke-linecap="round"/>
<line x1="1575.5" y1="967.4" x2="1682.7" y2="967.4" stroke="#3aad69" stroke-width="4.9" stroke-linecap="round"/>
<text transform="translate(77.5 48.0) scale(1 1.045)" font-size="48.7" font-family="'Liberation Sans', Arial, Helvetica, sans-serif">(a) GQD-S<tspan font-size="32.8" dy="12.92">h</tspan></text>
<text transform="translate(1143.4 44.7) scale(1 1.045)" font-size="48.7" font-family="'Liberation Sans', Arial, Helvetica, sans-serif">(b) GQD-S<tspan font-size="32.8" dy="12.92">p</tspan></text>
<text transform="translate(75.1 326.3) scale(1 1.045)" font-size="48.7" font-family="'Liberation Sans', Arial, Helvetica, sans-serif">(c) GQD-BC<tspan font-size="32.8" dy="12.92">2</tspan><tspan dy="-12.92">O</tspan></text>
<text transform="translate(1148.5 320.3) scale(1 1.045)" font-size="39.2" font-family="'Liberation Sans', Arial, Helvetica, sans-serif">(d) GQD-PC2O</text>
<text transform="translate(75.1 600.0) scale(1 1.045)" font-size="48.7" font-family="'Liberation Sans', Arial, Helvetica, sans-serif">(e) GQD-S<tspan font-size="32.8" dy="12.92">h</tspan><tspan dy="-12.92">-BC</tspan><tspan font-size="32.8" dy="12.92">2</tspan><tspan dy="-12.92">O</tspan></text>
<text transform="translate(1145.7 605.7) scale(1 1.045)" font-size="48.7" font-family="'Liberation Sans', Arial, Helvetica, sans-serif">(f) GQD-S<tspan font-size="32.8" dy="12.92">p</tspan><tspan dy="-12.92">-BC</tspan><tspan font-size="32.8" dy="12.92">2</tspan><tspan dy="-12.92">O</tspan></text>
<text transform="translate(75.1 881.8) scale(1 1.045)" font-size="48.7" font-family="'Liberation Sans', Arial, Helvetica, sans-serif">(g) GQD-S<tspan font-size="32.8" dy="12.92">h</tspan><tspan dy="-12.92">-PC</tspan><tspan font-size="32.8" dy="12.92">2</tspan><tspan dy="-12.92">O</tspan></text>
<text transform="translate(1142.3 885.0) scale(1 1.045)" font-size="48.7" font-family="'Liberation Sans', Arial, Helvetica, sans-serif">(h) GQD-S<tspan font-size="32.8" dy="12.92">p</tspan><tspan dy="-12.92">-PC</tspan><tspan font-size="32.8" dy="12.92">2</tspan><tspan dy="-12.92">O</tspan></text>
<text transform="translate(612.0 43.9) scale(1 1.045)" font-size="49.0" font-family="'Liberation Sans', Arial, Helvetica, sans-serif">Total</text>
<text transform="translate(612.0 103.8) scale(1 1.045)" font-size="49.0" font-family="'Liberation Sans', Arial, Helvetica, sans-serif">C</text>
<text transform="translate(612.3 163.0) scale(1 1.045)" font-size="49.0" font-family="'Liberation Sans', Arial, Helvetica, sans-serif">S<tspan font-size="32.8" dy="12.92">h</tspan></text>
<text transform="translate(1678.0 66.7) scale(1 1.045)" font-size="49.0" font-family="'Liberation Sans', Arial, Helvetica, sans-serif">S<tspan font-size="32.8" dy="12.92">p</tspan></text>
<text transform="translate(625.0 364.9) scale(1 1.045)" font-size="49.0" font-family="'Liberation Sans', Arial, Helvetica, sans-serif">BC<tspan font-size="32.8" dy="12.92">2</tspan><tspan dy="-12.92">O</tspan></text>
<text transform="translate(1675.1 351.0) scale(1 1.045)" font-size="49.0" font-family="'Liberation Sans', Arial, Helvetica, sans-serif">PC<tspan font-size="32.8" dy="12.92">2</tspan><tspan dy="-12.92">O</tspan></text>
<text transform="translate(631.9 617.0) scale(1 1.045)" font-size="49.0" font-family="'Liberation Sans', Arial, Helvetica, sans-serif">BC<tspan font-size="32.8" dy="12.92">2</tspan><tspan dy="-12.92">O</tspan></text>
<text transform="translate(633.6 687.5) scale(1 1.045)" font-size="49.0" font-family="'Liberation Sans', Arial, Helvetica, sans-serif">S<tspan font-size="32.8" dy="12.92">h</tspan></text>
<text transform="translate(1737.0 608.0) scale(1 1.045)" font-size="49.0" font-family="'Liberation Sans', Arial, Helvetica, sans-serif">BC<tspan font-size="32.8" dy="12.92">2</tspan><tspan dy="-12.92">O</tspan></text>
<text transform="translate(1738.0 678.2) scale(1 1.045)" font-size="49.0" font-family="'Liberation Sans', Arial, Helvetica, sans-serif">S<tspan font-size="32.8" dy="12.92">p</tspan></text>
<text transform="translate(599.8 904.3) scale(1 1.045)" font-size="49.0" font-family="'Liberation Sans', Arial, Helvetica, sans-serif">PC<tspan font-size="32.8" dy="12.92">2</tspan><tspan dy="-12.92">O</tspan></text>
<text transform="translate(601.5 974.6) scale(1 1.045)" font-size="49.0" font-family="'Liberation Sans', Arial, Helvetica, sans-serif">S<tspan font-size="32.8" dy="12.92">h</tspan></text>
<text transform="translate(1695.7 913.6) scale(1 1.045)" font-size="49.0" font-family="'Liberation Sans', Arial, Helvetica, sans-serif">PC<tspan font-size="32.8" dy="12.92">2</tspan><tspan dy="-12.92">O</tspan></text>
<text transform="translate(1697.4 984.6) scale(1 1.045)" font-size="49.0" font-family="'Liberation Sans', Arial, Helvetica, sans-serif">S<tspan font-size="32.8" dy="12.92">p</tspan></text>
<text transform="translate(72.2 1167.0) scale(1 1.045)" font-size="49.5" text-anchor="middle" font-family="'Liberation Sans', Arial, Helvetica, sans-serif">-10</text>
<text transform="translate(215.4 1167.0) scale(1 1.045)" font-size="49.5" text-anchor="middle" font-family="'Liberation Sans', Arial, Helvetica, sans-serif">-8</text>
<text transform="translate(358.7 1167.0) scale(1 1.045)" font-size="49.5" text-anchor="middle" font-family="'Liberation Sans', Arial, Helvetica, sans-serif">-6</text>
<text transform="translate(501.9 1167.0) scale(1 1.045)" font-size="49.5" text-anchor="middle" font-family="'Liberation Sans', Arial, Helvetica, sans-serif">-4</text>
<text transform="translate(645.2 1167.0) scale(1 1.045)" font-size="49.5" text-anchor="middle" font-family="'Liberation Sans', Arial, Helvetica, sans-serif">-2</text>
<text transform="translate(788.4 1167.0) scale(1 1.045)" font-size="49.5" text-anchor="middle" font-family="'Liberation Sans', Arial, Helvetica, sans-serif">0</text>
<text transform="translate(931.6 1167.0) scale(1 1.045)" font-size="49.5" text-anchor="middle" font-family="'Liberation Sans', Arial, Helvetica, sans-serif">2</text>
<text transform="translate(1139.9 1169.0) scale(1 1.045)" font-size="49.5" text-anchor="middle" font-family="'Liberation Sans', Arial, Helvetica, sans-serif">-10</text>
<text transform="translate(1283.2 1169.0) scale(1 1.045)" font-size="49.5" text-anchor="middle" font-family="'Liberation Sans', Arial, Helvetica, sans-serif">-8</text>
<text transform="translate(1426.5 1169.0) scale(1 1.045)" font-size="49.5" text-anchor="middle" font-family="'Liberation Sans', Arial, Helvetica, sans-serif">-6</text>
<text transform="translate(1569.7 1169.0) scale(1 1.045)" font-size="49.5" text-anchor="middle" font-family="'Liberation Sans', Arial, Helvetica, sans-serif">-4</text>
<text transform="translate(1713.0 1169.0) scale(1 1.045)" font-size="49.5" text-anchor="middle" font-family="'Liberation Sans', Arial, Helvetica, sans-serif">-2</text>
<text transform="translate(1856.3 1169.0) scale(1 1.045)" font-size="49.5" text-anchor="middle" font-family="'Liberation Sans', Arial, Helvetica, sans-serif">0</text>
<text transform="translate(1999.6 1169.0) scale(1 1.045)" font-size="49.5" text-anchor="middle" font-family="'Liberation Sans', Arial, Helvetica, sans-serif">2</text>
<text transform="translate(407.6 1216.0) scale(1 1.045)" font-size="49.2" font-family="'Liberation Sans', Arial, Helvetica, sans-serif">Energy (eV)</text>
<text transform="translate(1475.4 1220.0) scale(1 1.045)" font-size="49.2" font-family="'Liberation Sans', Arial, Helvetica, sans-serif">Energy (eV)</text>
<text transform="translate(35.5 528.3) rotate(-90) scale(1 1.045)" font-size="49" text-anchor="middle" font-family="'Liberation Sans', Arial, Helvetica, sans-serif">DOS (arb.units)</text>
<text transform="translate(1088.5 539.9) rotate(-90) scale(1 1.045)" font-size="49" text-anchor="middle" font-family="'Liberation Sans', Arial, Helvetica, sans-serif">DOS (arb.units)</text>
</svg>
</body></html>
